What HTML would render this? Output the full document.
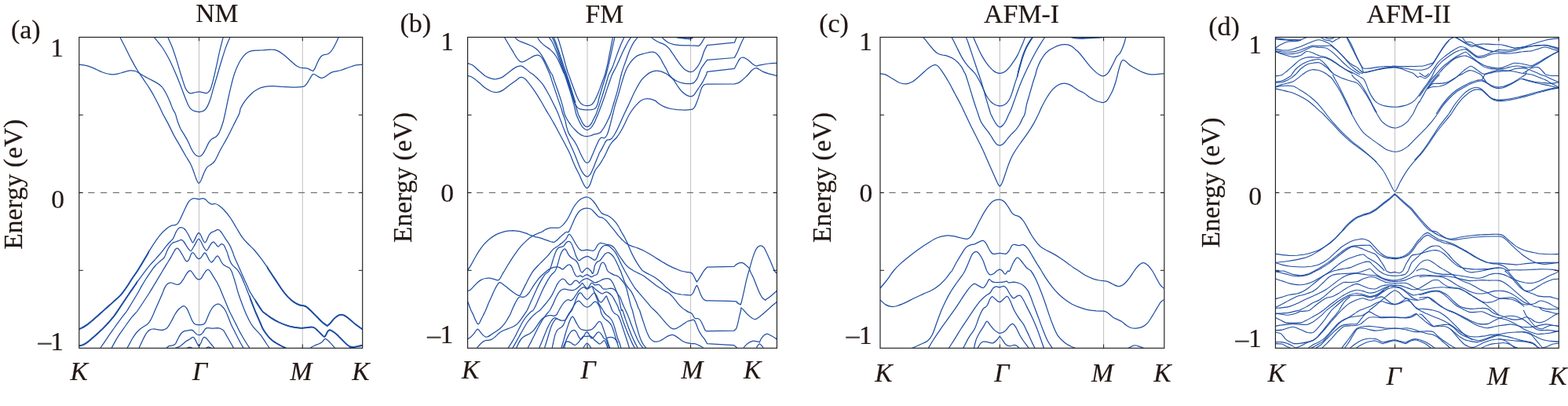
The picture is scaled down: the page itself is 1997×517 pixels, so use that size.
<!DOCTYPE html>
<html lang="en">
<head>
<meta charset="utf-8">
<title>Band structures: NM, FM, AFM-I, AFM-II</title>
<style>
html,body{margin:0;padding:0;background:#fff;}
body{width:1997px;height:517px;overflow:hidden;}
svg{display:block;}
text{font-family:"Liberation Serif","DejaVu Serif",serif;fill:#231815;stroke:#231815;stroke-width:0.22px;stroke-linejoin:round;}
.i{font-style:italic;}
.mn{fill:#4a4342;stroke:#4a4342;}
.fr{fill:none;stroke:#1c1c1c;stroke-width:1.15;}
.tk{stroke:#231815;stroke-width:1;}
.vl{stroke:#b9b9b9;stroke-width:0.9;}
.zl{stroke:#505050;stroke-width:1.0;stroke-dasharray:8.2 7.55;stroke-dashoffset:4.3;}
.bd{fill:none;stroke:#1f4ea3;stroke-width:1.25;stroke-linejoin:round;stroke-linecap:butt;}
.dn{stroke-width:1.1;}
.tkc{stroke-width:1.9;}
</style>
</head>
<body>
<svg width="1997" height="517" viewBox="0 0 1997 517">
<rect x="0" y="0" width="1997" height="517" fill="#fff"/>
<defs>
<clipPath id="cp-a"><rect x="100.8" y="47.4" width="360.9" height="395.9"/></clipPath>
<clipPath id="cp-b"><rect x="595.6" y="47.4" width="393.9" height="395.9"/></clipPath>
<clipPath id="cp-c"><rect x="1121.0" y="47.4" width="361.8" height="395.9"/></clipPath>
<clipPath id="cp-d"><rect x="1624.4" y="47.4" width="360.9" height="395.9"/></clipPath>
</defs>
<g id="panel-a">
<line class="vl" x1="253.5" y1="47.4" x2="253.5" y2="443.3"/>
<line class="vl" x1="385.3" y1="47.4" x2="385.3" y2="443.3"/>
<line class="zl" x1="100.8" y1="245.3" x2="461.7" y2="245.3"/>
<g clip-path="url(#cp-a)">
<path class="bd" d="M100.6 82.1C102.0 82.3 106.2 82.5 109.3 83.3C112.3 84.0 115.4 85.1 118.9 86.6C122.5 88.0 126.5 90.6 130.6 92.0C134.6 93.4 139.3 94.7 143.1 94.9C147.0 95.1 150.0 93.8 153.8 93.0C157.5 92.1 162.3 90.3 165.3 89.9C168.4 89.5 170.2 89.9 172.1 90.5C174.1 91.0 174.2 91.4 177.0 93.0C179.7 94.5 185.0 97.8 188.6 99.7C192.1 101.7 195.3 102.8 198.2 104.6C201.1 106.3 203.7 107.9 206.0 110.4C208.2 112.8 210.0 116.2 211.8 119.5C213.5 122.7 215.2 126.7 216.6 130.1C218.0 133.5 219.3 137.3 220.5 139.8C221.6 142.2 222.4 142.5 223.4 145.0C224.3 147.5 225.1 151.4 226.3 154.7C227.4 157.9 228.7 161.4 230.1 164.3C231.6 167.2 233.4 169.3 235.0 172.1C236.6 174.8 238.4 177.9 239.8 180.8C241.3 183.7 242.4 187.0 243.7 189.5C245.0 192.0 246.4 194.2 247.5 195.7C248.7 197.1 249.5 197.6 250.4 198.2C251.4 198.8 252.4 199.2 253.3 199.2C254.3 199.2 255.3 198.9 256.2 198.2C257.2 197.5 258.2 196.3 259.1 194.9C260.1 193.4 260.9 191.7 262.1 189.5C263.2 187.3 264.6 183.8 265.9 181.7C267.2 179.6 268.3 178.1 269.8 176.9C271.2 175.7 273.2 175.5 274.6 174.4C276.1 173.3 277.4 172.0 278.5 170.1C279.6 168.3 280.4 165.9 281.4 163.4C282.4 160.8 283.4 157.7 284.3 154.7C285.2 151.6 285.6 149.4 286.6 145.0C287.6 140.6 288.9 133.9 290.1 128.2C291.3 122.5 292.5 116.6 294.0 110.8C295.4 104.9 297.0 98.5 298.8 93.3C300.6 88.2 302.7 83.5 304.6 79.8C306.5 76.1 308.5 73.4 310.4 71.1C312.3 68.9 314.1 67.4 316.2 66.3C318.3 65.1 320.1 64.7 323.0 64.3C325.9 64.0 329.9 64.1 333.6 64.0C337.3 63.8 342.0 63.1 345.2 63.2C348.4 63.2 350.4 63.3 352.9 64.3C355.5 65.3 358.1 67.2 360.7 69.2C363.3 71.1 365.8 73.7 368.4 75.9C371.0 78.2 373.9 81.0 376.1 82.7C378.4 84.4 380.3 85.4 381.9 86.0C383.6 86.6 384.2 86.4 385.8 86.6C387.4 86.8 390.0 86.7 391.6 87.2C393.2 87.6 394.3 88.5 395.5 89.1C396.7 89.6 398.2 90.2 398.8 90.5C399.2 89.8 400.2 88.7 401.3 86.6C402.4 84.5 403.9 80.4 405.1 77.9C406.4 75.4 407.7 73.1 409.0 71.7C410.3 70.3 411.4 70.0 412.9 69.6C414.3 69.1 416.3 69.5 417.7 68.8C419.2 68.1 420.3 66.9 421.6 65.3C422.9 63.8 424.2 61.8 425.5 59.5C426.8 57.2 428.4 53.8 429.3 51.8C430.3 49.7 430.8 48.4 431.3 47.3C431.7 46.2 432.1 45.4 432.2 45.0"/>
<path class="bd" d="M151.8 45.0C152.0 45.4 151.5 44.7 152.8 47.3C154.1 49.9 157.1 55.7 159.6 60.5C162.0 65.2 164.7 71.1 167.3 75.9C169.9 80.8 172.4 85.3 175.0 89.5C177.6 93.7 180.2 97.2 182.8 101.1C185.3 104.9 187.9 108.5 190.5 112.7C193.1 116.9 196.0 122.0 198.2 126.2C200.5 130.4 202.5 134.7 204.0 137.8C205.5 141.0 205.7 141.9 207.3 145.0C208.9 148.1 211.3 152.1 213.7 156.6C216.1 161.1 218.9 167.2 221.4 172.1C224.0 176.9 226.6 181.1 229.2 185.6C231.7 190.1 234.7 195.3 236.9 199.2C239.2 203.0 241.1 205.6 242.7 208.8C244.3 212.0 245.4 215.3 246.6 218.5C247.8 221.7 248.9 225.7 250.1 228.2C251.2 230.6 252.3 233.4 253.3 233.4C254.4 233.4 255.5 230.5 256.6 228.2C257.8 225.8 258.9 222.0 260.1 219.4C261.3 216.9 262.4 214.5 264.0 212.7C265.6 210.9 268.2 210.1 269.8 208.8C271.4 207.5 272.5 206.6 273.6 204.9C274.8 203.3 275.3 201.7 276.6 199.2C277.8 196.6 279.3 193.3 281.4 189.5C283.5 185.6 286.5 180.8 289.1 175.9C291.7 171.1 294.3 165.6 296.9 160.5C299.4 155.3 303.0 148.8 304.6 145.0C306.2 141.2 305.2 140.6 306.5 137.8C307.8 135.0 310.1 131.2 312.3 128.2C314.6 125.1 317.5 121.9 320.1 119.5C322.6 117.0 324.9 115.2 327.8 113.7C330.7 112.1 334.2 111.0 337.5 110.4C340.7 109.7 343.6 109.6 347.1 109.6C350.7 109.6 354.6 110.1 358.7 110.4C362.9 110.6 367.8 111.1 372.3 111.1C376.8 111.1 382.9 110.9 385.8 110.4C388.7 109.8 388.4 109.2 389.7 107.8C391.0 106.5 392.3 104.1 393.6 102.0C394.8 100.0 396.4 96.9 397.4 95.7C398.5 94.4 398.8 94.4 399.7 94.5C400.7 94.6 402.0 95.6 403.2 96.2C404.4 96.9 405.9 98.1 407.1 98.6C408.3 99.1 409.3 99.4 410.6 99.2C411.9 98.9 413.3 98.1 414.8 97.2C416.3 96.3 418.0 94.7 419.7 93.7C421.3 92.8 422.1 92.1 424.5 91.4C426.9 90.7 430.9 90.4 434.2 89.5C437.4 88.6 440.6 87.1 443.8 86.0C447.1 84.9 450.5 83.5 453.5 82.9C456.5 82.3 460.4 82.3 461.8 82.1"/>
<path class="bd" d="M212.7 45.0C212.9 45.4 212.6 44.7 213.7 47.3C214.8 49.9 217.6 55.4 219.5 60.5C221.4 65.6 223.4 71.8 225.3 77.9C227.2 84.0 229.3 91.6 231.1 97.2C232.9 102.8 234.5 108.3 235.9 111.7C237.4 115.1 238.7 116.3 239.8 117.5C240.9 118.7 241.4 118.8 242.7 118.9C244.0 118.9 245.8 118.2 247.5 117.9C249.3 117.6 251.4 116.9 253.3 116.9C255.3 116.9 257.5 117.6 259.1 117.9C260.8 118.2 261.9 118.8 263.0 118.7C264.1 118.5 265.0 118.1 265.9 116.9C266.9 115.8 267.7 115.0 268.8 111.7C269.9 108.4 271.4 102.5 272.7 97.2C274.0 91.9 275.3 85.6 276.6 79.8C277.8 74.0 279.1 67.8 280.4 62.4C281.7 57.0 283.5 50.2 284.3 47.3C285.0 44.4 284.8 45.4 284.9 45.0"/>
<path class="bd" d="M194.8 45.0C195.0 45.4 194.4 44.9 196.3 47.3C198.2 49.7 202.9 55.1 206.0 59.5C209.0 63.9 211.9 68.9 214.7 74.0C217.4 79.2 220.0 85.0 222.4 90.5C224.8 95.9 227.1 101.6 229.2 106.9C231.3 112.2 233.2 117.8 235.0 122.3C236.7 126.9 238.4 131.1 239.8 134.0C241.3 136.8 242.2 138.1 243.7 139.4C245.1 140.7 246.9 141.2 248.5 141.7C250.1 142.2 251.7 142.5 253.3 142.5C255.0 142.5 256.9 142.1 258.2 141.7C259.5 141.2 260.0 140.9 261.1 139.8C262.1 138.6 263.2 137.2 264.4 134.9C265.5 132.7 266.6 129.9 267.9 126.2C269.1 122.5 270.3 117.7 271.7 112.7C273.2 107.7 274.9 101.7 276.6 96.2C278.2 90.8 279.6 85.6 281.4 79.8C283.2 74.0 285.3 66.9 287.2 61.4C289.1 56.0 291.9 50.1 293.0 47.3C294.1 44.6 293.6 45.4 293.8 45.0"/>
<path class="bd" d="M100.6 419.4C102.0 418.6 105.9 417.0 109.3 414.6C112.7 412.3 117.0 408.6 120.9 405.3C124.7 402.1 128.6 398.3 132.5 394.9C136.3 391.4 140.5 387.9 144.1 384.6C147.6 381.4 150.8 378.8 153.8 375.6C156.7 372.3 159.1 368.8 161.5 365.3C163.9 361.8 166.0 358.1 168.3 354.7C170.5 351.3 172.3 349.2 175.0 345.0C177.8 340.7 181.5 334.5 184.7 329.1C187.9 323.7 191.1 317.7 194.4 312.7C197.6 307.7 201.1 302.7 204.0 299.1C206.9 295.6 209.5 293.3 211.8 291.4C214.0 289.5 215.8 288.4 217.6 287.6C219.3 286.7 220.9 287.1 222.4 286.6C223.9 286.1 225.0 286.1 226.3 284.6C227.6 283.2 228.7 280.8 230.1 277.9C231.6 275.0 233.4 270.6 235.0 267.2C236.6 263.9 238.4 259.8 239.8 257.6C241.3 255.3 242.4 254.5 243.7 253.7C245.0 252.9 245.9 252.7 247.5 252.7C249.2 252.7 251.6 253.7 253.3 253.7C255.1 253.7 256.7 252.6 258.2 252.7C259.6 252.8 260.8 253.4 262.1 254.3C263.3 255.2 264.6 257.2 265.9 258.1C267.2 259.1 268.5 259.9 269.8 260.1C271.1 260.3 272.2 259.3 273.6 259.5C275.1 259.7 276.6 260.1 278.5 261.4C280.4 262.7 282.8 264.7 285.2 267.2C287.7 269.8 290.4 273.2 293.0 276.9C295.6 280.6 298.2 285.3 300.7 289.5C303.3 293.7 305.9 298.5 308.5 302.1C311.0 305.6 313.6 308.0 316.2 310.8C318.8 313.5 321.4 315.6 323.9 318.5C326.5 321.4 329.1 324.8 331.7 328.2C334.2 331.5 337.5 336.0 339.4 338.8C341.3 341.6 341.3 342.0 343.3 345.0C345.2 348.0 348.4 352.7 351.0 356.6C353.6 360.5 356.2 364.7 358.7 368.2C361.3 371.8 363.9 375.1 366.5 377.9C369.1 380.6 371.6 382.9 374.2 384.6C376.8 386.4 380.0 387.8 381.9 388.5C383.9 389.3 384.5 388.8 385.8 389.1C387.1 389.4 388.1 389.4 389.7 390.4C391.3 391.5 393.2 393.2 395.5 395.3C397.7 397.4 400.6 400.4 403.2 403.0C405.8 405.6 408.7 408.8 411.0 410.8C413.2 412.7 415.8 414.3 416.8 415.0C417.4 414.5 419.0 413.4 420.6 411.7C422.2 410.0 424.5 406.7 426.4 404.9C428.4 403.2 430.3 401.7 432.2 401.1C434.2 400.5 435.8 400.5 438.0 401.5C440.3 402.4 443.2 404.9 445.8 406.9C448.3 408.9 450.8 411.6 453.5 413.6C456.2 415.7 460.4 418.5 461.8 419.4"/>
<clipPath id="tc-a-4-100"><rect x="100.0" y="47.4" width="90.0" height="395.9"/></clipPath>
<path class="bd tkc" clip-path="url(#tc-a-4-100)" d="M100.6 419.4C102.0 418.6 105.9 417.0 109.3 414.6C112.7 412.3 117.0 408.6 120.9 405.3C124.7 402.1 128.6 398.3 132.5 394.9C136.3 391.4 140.5 387.9 144.1 384.6C147.6 381.4 150.8 378.8 153.8 375.6C156.7 372.3 159.1 368.8 161.5 365.3C163.9 361.8 166.0 358.1 168.3 354.7C170.5 351.3 172.3 349.2 175.0 345.0C177.8 340.7 181.5 334.5 184.7 329.1C187.9 323.7 191.1 317.7 194.4 312.7C197.6 307.7 201.1 302.7 204.0 299.1C206.9 295.6 209.5 293.3 211.8 291.4C214.0 289.5 215.8 288.4 217.6 287.6C219.3 286.7 220.9 287.1 222.4 286.6C223.9 286.1 225.0 286.1 226.3 284.6C227.6 283.2 228.7 280.8 230.1 277.9C231.6 275.0 233.4 270.6 235.0 267.2C236.6 263.9 238.4 259.8 239.8 257.6C241.3 255.3 242.4 254.5 243.7 253.7C245.0 252.9 245.9 252.7 247.5 252.7C249.2 252.7 251.6 253.7 253.3 253.7C255.1 253.7 256.7 252.6 258.2 252.7C259.6 252.8 260.8 253.4 262.1 254.3C263.3 255.2 264.6 257.2 265.9 258.1C267.2 259.1 268.5 259.9 269.8 260.1C271.1 260.3 272.2 259.3 273.6 259.5C275.1 259.7 276.6 260.1 278.5 261.4C280.4 262.7 282.8 264.7 285.2 267.2C287.7 269.8 290.4 273.2 293.0 276.9C295.6 280.6 298.2 285.3 300.7 289.5C303.3 293.7 305.9 298.5 308.5 302.1C311.0 305.6 313.6 308.0 316.2 310.8C318.8 313.5 321.4 315.6 323.9 318.5C326.5 321.4 329.1 324.8 331.7 328.2C334.2 331.5 337.5 336.0 339.4 338.8C341.3 341.6 341.3 342.0 343.3 345.0C345.2 348.0 348.4 352.7 351.0 356.6C353.6 360.5 356.2 364.7 358.7 368.2C361.3 371.8 363.9 375.1 366.5 377.9C369.1 380.6 371.6 382.9 374.2 384.6C376.8 386.4 380.0 387.8 381.9 388.5C383.9 389.3 384.5 388.8 385.8 389.1C387.1 389.4 388.1 389.4 389.7 390.4C391.3 391.5 393.2 393.2 395.5 395.3C397.7 397.4 400.6 400.4 403.2 403.0C405.8 405.6 408.7 408.8 411.0 410.8C413.2 412.7 415.8 414.3 416.8 415.0C417.4 414.5 419.0 413.4 420.6 411.7C422.2 410.0 424.5 406.7 426.4 404.9C428.4 403.2 430.3 401.7 432.2 401.1C434.2 400.5 435.8 400.5 438.0 401.5C440.3 402.4 443.2 404.9 445.8 406.9C448.3 408.9 450.8 411.6 453.5 413.6C456.2 415.7 460.4 418.5 461.8 419.4"/>
<clipPath id="tc-a-4-340"><rect x="340.0" y="47.4" width="122.0" height="395.9"/></clipPath>
<path class="bd tkc" clip-path="url(#tc-a-4-340)" d="M100.6 419.4C102.0 418.6 105.9 417.0 109.3 414.6C112.7 412.3 117.0 408.6 120.9 405.3C124.7 402.1 128.6 398.3 132.5 394.9C136.3 391.4 140.5 387.9 144.1 384.6C147.6 381.4 150.8 378.8 153.8 375.6C156.7 372.3 159.1 368.8 161.5 365.3C163.9 361.8 166.0 358.1 168.3 354.7C170.5 351.3 172.3 349.2 175.0 345.0C177.8 340.7 181.5 334.5 184.7 329.1C187.9 323.7 191.1 317.7 194.4 312.7C197.6 307.7 201.1 302.7 204.0 299.1C206.9 295.6 209.5 293.3 211.8 291.4C214.0 289.5 215.8 288.4 217.6 287.6C219.3 286.7 220.9 287.1 222.4 286.6C223.9 286.1 225.0 286.1 226.3 284.6C227.6 283.2 228.7 280.8 230.1 277.9C231.6 275.0 233.4 270.6 235.0 267.2C236.6 263.9 238.4 259.8 239.8 257.6C241.3 255.3 242.4 254.5 243.7 253.7C245.0 252.9 245.9 252.7 247.5 252.7C249.2 252.7 251.6 253.7 253.3 253.7C255.1 253.7 256.7 252.6 258.2 252.7C259.6 252.8 260.8 253.4 262.1 254.3C263.3 255.2 264.6 257.2 265.9 258.1C267.2 259.1 268.5 259.9 269.8 260.1C271.1 260.3 272.2 259.3 273.6 259.5C275.1 259.7 276.6 260.1 278.5 261.4C280.4 262.7 282.8 264.7 285.2 267.2C287.7 269.8 290.4 273.2 293.0 276.9C295.6 280.6 298.2 285.3 300.7 289.5C303.3 293.7 305.9 298.5 308.5 302.1C311.0 305.6 313.6 308.0 316.2 310.8C318.8 313.5 321.4 315.6 323.9 318.5C326.5 321.4 329.1 324.8 331.7 328.2C334.2 331.5 337.5 336.0 339.4 338.8C341.3 341.6 341.3 342.0 343.3 345.0C345.2 348.0 348.4 352.7 351.0 356.6C353.6 360.5 356.2 364.7 358.7 368.2C361.3 371.8 363.9 375.1 366.5 377.9C369.1 380.6 371.6 382.9 374.2 384.6C376.8 386.4 380.0 387.8 381.9 388.5C383.9 389.3 384.5 388.8 385.8 389.1C387.1 389.4 388.1 389.4 389.7 390.4C391.3 391.5 393.2 393.2 395.5 395.3C397.7 397.4 400.6 400.4 403.2 403.0C405.8 405.6 408.7 408.8 411.0 410.8C413.2 412.7 415.8 414.3 416.8 415.0C417.4 414.5 419.0 413.4 420.6 411.7C422.2 410.0 424.5 406.7 426.4 404.9C428.4 403.2 430.3 401.7 432.2 401.1C434.2 400.5 435.8 400.5 438.0 401.5C440.3 402.4 443.2 404.9 445.8 406.9C448.3 408.9 450.8 411.6 453.5 413.6C456.2 415.7 460.4 418.5 461.8 419.4"/>
<path class="bd" d="M100.6 440.4C101.3 440.3 103.2 440.0 104.7 439.5C106.2 438.9 107.6 438.4 109.5 437.1C111.4 435.8 113.9 433.8 116.3 431.7C118.7 429.7 121.4 427.3 124.0 425.0C126.6 422.6 129.3 420.1 131.7 417.7C134.2 415.3 136.4 412.8 138.5 410.5C140.6 408.1 142.5 406.0 144.3 403.7C146.1 401.4 145.9 401.7 149.2 396.9C152.4 392.1 160.4 380.0 163.8 375.0C167.2 369.9 167.5 369.6 169.6 366.6C171.7 363.6 173.9 360.3 176.3 356.9C178.8 353.5 181.5 349.7 184.1 346.3C186.6 342.9 189.4 339.4 191.8 336.6C194.2 333.8 196.3 331.9 198.6 329.4C200.8 326.8 203.1 324.3 205.3 321.6C207.6 318.8 210.0 315.4 212.1 312.9C214.2 310.4 216.5 308.2 217.9 306.6C219.4 305.0 219.9 304.9 220.8 303.2C221.8 301.5 222.8 298.4 223.7 296.4C224.7 294.5 225.6 292.7 226.6 291.6C227.7 290.5 228.7 289.8 230.0 289.7C231.3 289.6 233.1 290.3 234.3 291.1C235.6 291.9 236.3 293.1 237.3 294.5C238.2 295.9 239.2 297.6 240.2 299.3C241.1 301.1 242.2 303.5 243.1 305.1C243.9 306.8 244.7 309.0 245.5 309.0C246.3 309.0 247.0 306.8 247.9 305.1C248.8 303.5 249.9 300.8 250.8 299.3C251.7 297.9 252.4 296.4 253.2 296.4C254.0 296.4 254.8 298.0 255.6 299.3C256.4 300.7 257.2 303.0 258.0 304.7C258.9 306.3 260.1 308.9 260.9 309.0C261.8 309.2 262.5 307.2 263.4 305.6C264.2 304.0 265.3 301.0 266.3 299.3C267.2 297.7 268.0 296.8 269.2 295.9C270.3 295.1 271.6 295.1 273.0 294.5C274.5 293.9 276.4 292.2 277.9 292.4C279.3 292.5 280.3 293.7 281.7 295.5C283.2 297.3 284.8 300.5 286.6 303.2C288.3 305.9 290.8 309.0 292.4 311.9C294.0 314.8 295.4 318.4 296.2 320.6C297.1 322.8 297.0 323.3 297.7 325.0C298.3 326.7 299.1 328.4 300.1 330.8C301.2 333.2 302.7 336.6 304.0 339.5C305.3 342.4 306.5 345.3 307.8 348.2C309.1 351.1 310.4 354.0 311.7 356.9C313.0 359.8 314.3 362.9 315.6 365.6C316.9 368.4 316.5 368.5 319.4 373.4C322.4 378.2 330.1 390.7 333.2 395.0C336.3 399.3 335.9 397.7 338.0 399.4C340.1 401.0 342.9 403.3 345.8 405.1C348.6 407.0 352.2 408.9 355.4 410.5C358.6 412.0 361.9 413.3 365.1 414.3C368.3 415.4 371.9 416.2 374.8 416.8C377.7 417.3 380.7 417.6 382.5 417.7C384.3 417.9 383.9 417.8 385.4 417.7C386.9 417.6 389.3 417.3 391.2 417.1C393.1 416.8 395.4 416.4 397.0 416.5C398.6 416.6 399.6 416.9 400.9 417.7C402.2 418.5 403.4 419.9 404.7 421.1C406.0 422.3 407.5 423.8 408.6 425.0C409.7 426.1 410.7 427.2 411.5 427.9C412.3 428.5 413.1 428.7 413.4 428.8C413.8 428.4 414.7 427.1 415.4 425.9C416.0 424.8 416.6 423.0 417.3 422.1C418.0 421.1 418.8 420.4 419.7 420.3C420.7 420.2 421.7 420.8 423.1 421.6C424.5 422.4 426.3 423.6 427.9 425.0C429.6 426.3 431.0 428.0 432.8 429.8C434.6 431.6 436.8 433.9 438.6 435.6C440.4 437.3 441.8 438.9 443.4 440.0C445.0 441.0 446.5 441.7 448.2 441.9C450.0 442.1 452.3 441.7 454.1 441.4C455.8 441.1 457.6 440.5 458.9 440.2C460.2 440.0 461.3 439.8 461.8 439.7"/>
<clipPath id="tc-a-5-100"><rect x="100.0" y="47.4" width="75.0" height="395.9"/></clipPath>
<path class="bd tkc" clip-path="url(#tc-a-5-100)" d="M100.6 440.4C101.3 440.3 103.2 440.0 104.7 439.5C106.2 438.9 107.6 438.4 109.5 437.1C111.4 435.8 113.9 433.8 116.3 431.7C118.7 429.7 121.4 427.3 124.0 425.0C126.6 422.6 129.3 420.1 131.7 417.7C134.2 415.3 136.4 412.8 138.5 410.5C140.6 408.1 142.5 406.0 144.3 403.7C146.1 401.4 145.9 401.7 149.2 396.9C152.4 392.1 160.4 380.0 163.8 375.0C167.2 369.9 167.5 369.6 169.6 366.6C171.7 363.6 173.9 360.3 176.3 356.9C178.8 353.5 181.5 349.7 184.1 346.3C186.6 342.9 189.4 339.4 191.8 336.6C194.2 333.8 196.3 331.9 198.6 329.4C200.8 326.8 203.1 324.3 205.3 321.6C207.6 318.8 210.0 315.4 212.1 312.9C214.2 310.4 216.5 308.2 217.9 306.6C219.4 305.0 219.9 304.9 220.8 303.2C221.8 301.5 222.8 298.4 223.7 296.4C224.7 294.5 225.6 292.7 226.6 291.6C227.7 290.5 228.7 289.8 230.0 289.7C231.3 289.6 233.1 290.3 234.3 291.1C235.6 291.9 236.3 293.1 237.3 294.5C238.2 295.9 239.2 297.6 240.2 299.3C241.1 301.1 242.2 303.5 243.1 305.1C243.9 306.8 244.7 309.0 245.5 309.0C246.3 309.0 247.0 306.8 247.9 305.1C248.8 303.5 249.9 300.8 250.8 299.3C251.7 297.9 252.4 296.4 253.2 296.4C254.0 296.4 254.8 298.0 255.6 299.3C256.4 300.7 257.2 303.0 258.0 304.7C258.9 306.3 260.1 308.9 260.9 309.0C261.8 309.2 262.5 307.2 263.4 305.6C264.2 304.0 265.3 301.0 266.3 299.3C267.2 297.7 268.0 296.8 269.2 295.9C270.3 295.1 271.6 295.1 273.0 294.5C274.5 293.9 276.4 292.2 277.9 292.4C279.3 292.5 280.3 293.7 281.7 295.5C283.2 297.3 284.8 300.5 286.6 303.2C288.3 305.9 290.8 309.0 292.4 311.9C294.0 314.8 295.4 318.4 296.2 320.6C297.1 322.8 297.0 323.3 297.7 325.0C298.3 326.7 299.1 328.4 300.1 330.8C301.2 333.2 302.7 336.6 304.0 339.5C305.3 342.4 306.5 345.3 307.8 348.2C309.1 351.1 310.4 354.0 311.7 356.9C313.0 359.8 314.3 362.9 315.6 365.6C316.9 368.4 316.5 368.5 319.4 373.4C322.4 378.2 330.1 390.7 333.2 395.0C336.3 399.3 335.9 397.7 338.0 399.4C340.1 401.0 342.9 403.3 345.8 405.1C348.6 407.0 352.2 408.9 355.4 410.5C358.6 412.0 361.9 413.3 365.1 414.3C368.3 415.4 371.9 416.2 374.8 416.8C377.7 417.3 380.7 417.6 382.5 417.7C384.3 417.9 383.9 417.8 385.4 417.7C386.9 417.6 389.3 417.3 391.2 417.1C393.1 416.8 395.4 416.4 397.0 416.5C398.6 416.6 399.6 416.9 400.9 417.7C402.2 418.5 403.4 419.9 404.7 421.1C406.0 422.3 407.5 423.8 408.6 425.0C409.7 426.1 410.7 427.2 411.5 427.9C412.3 428.5 413.1 428.7 413.4 428.8C413.8 428.4 414.7 427.1 415.4 425.9C416.0 424.8 416.6 423.0 417.3 422.1C418.0 421.1 418.8 420.4 419.7 420.3C420.7 420.2 421.7 420.8 423.1 421.6C424.5 422.4 426.3 423.6 427.9 425.0C429.6 426.3 431.0 428.0 432.8 429.8C434.6 431.6 436.8 433.9 438.6 435.6C440.4 437.3 441.8 438.9 443.4 440.0C445.0 441.0 446.5 441.7 448.2 441.9C450.0 442.1 452.3 441.7 454.1 441.4C455.8 441.1 457.6 440.5 458.9 440.2C460.2 440.0 461.3 439.8 461.8 439.7"/>
<clipPath id="tc-a-5-325"><rect x="325.0" y="47.4" width="137.0" height="395.9"/></clipPath>
<path class="bd tkc" clip-path="url(#tc-a-5-325)" d="M100.6 440.4C101.3 440.3 103.2 440.0 104.7 439.5C106.2 438.9 107.6 438.4 109.5 437.1C111.4 435.8 113.9 433.8 116.3 431.7C118.7 429.7 121.4 427.3 124.0 425.0C126.6 422.6 129.3 420.1 131.7 417.7C134.2 415.3 136.4 412.8 138.5 410.5C140.6 408.1 142.5 406.0 144.3 403.7C146.1 401.4 145.9 401.7 149.2 396.9C152.4 392.1 160.4 380.0 163.8 375.0C167.2 369.9 167.5 369.6 169.6 366.6C171.7 363.6 173.9 360.3 176.3 356.9C178.8 353.5 181.5 349.7 184.1 346.3C186.6 342.9 189.4 339.4 191.8 336.6C194.2 333.8 196.3 331.9 198.6 329.4C200.8 326.8 203.1 324.3 205.3 321.6C207.6 318.8 210.0 315.4 212.1 312.9C214.2 310.4 216.5 308.2 217.9 306.6C219.4 305.0 219.9 304.9 220.8 303.2C221.8 301.5 222.8 298.4 223.7 296.4C224.7 294.5 225.6 292.7 226.6 291.6C227.7 290.5 228.7 289.8 230.0 289.7C231.3 289.6 233.1 290.3 234.3 291.1C235.6 291.9 236.3 293.1 237.3 294.5C238.2 295.9 239.2 297.6 240.2 299.3C241.1 301.1 242.2 303.5 243.1 305.1C243.9 306.8 244.7 309.0 245.5 309.0C246.3 309.0 247.0 306.8 247.9 305.1C248.8 303.5 249.9 300.8 250.8 299.3C251.7 297.9 252.4 296.4 253.2 296.4C254.0 296.4 254.8 298.0 255.6 299.3C256.4 300.7 257.2 303.0 258.0 304.7C258.9 306.3 260.1 308.9 260.9 309.0C261.8 309.2 262.5 307.2 263.4 305.6C264.2 304.0 265.3 301.0 266.3 299.3C267.2 297.7 268.0 296.8 269.2 295.9C270.3 295.1 271.6 295.1 273.0 294.5C274.5 293.9 276.4 292.2 277.9 292.4C279.3 292.5 280.3 293.7 281.7 295.5C283.2 297.3 284.8 300.5 286.6 303.2C288.3 305.9 290.8 309.0 292.4 311.9C294.0 314.8 295.4 318.4 296.2 320.6C297.1 322.8 297.0 323.3 297.7 325.0C298.3 326.7 299.1 328.4 300.1 330.8C301.2 333.2 302.7 336.6 304.0 339.5C305.3 342.4 306.5 345.3 307.8 348.2C309.1 351.1 310.4 354.0 311.7 356.9C313.0 359.8 314.3 362.9 315.6 365.6C316.9 368.4 316.5 368.5 319.4 373.4C322.4 378.2 330.1 390.7 333.2 395.0C336.3 399.3 335.9 397.7 338.0 399.4C340.1 401.0 342.9 403.3 345.8 405.1C348.6 407.0 352.2 408.9 355.4 410.5C358.6 412.0 361.9 413.3 365.1 414.3C368.3 415.4 371.9 416.2 374.8 416.8C377.7 417.3 380.7 417.6 382.5 417.7C384.3 417.9 383.9 417.8 385.4 417.7C386.9 417.6 389.3 417.3 391.2 417.1C393.1 416.8 395.4 416.4 397.0 416.5C398.6 416.6 399.6 416.9 400.9 417.7C402.2 418.5 403.4 419.9 404.7 421.1C406.0 422.3 407.5 423.8 408.6 425.0C409.7 426.1 410.7 427.2 411.5 427.9C412.3 428.5 413.1 428.7 413.4 428.8C413.8 428.4 414.7 427.1 415.4 425.9C416.0 424.8 416.6 423.0 417.3 422.1C418.0 421.1 418.8 420.4 419.7 420.3C420.7 420.2 421.7 420.8 423.1 421.6C424.5 422.4 426.3 423.6 427.9 425.0C429.6 426.3 431.0 428.0 432.8 429.8C434.6 431.6 436.8 433.9 438.6 435.6C440.4 437.3 441.8 438.9 443.4 440.0C445.0 441.0 446.5 441.7 448.2 441.9C450.0 442.1 452.3 441.7 454.1 441.4C455.8 441.1 457.6 440.5 458.9 440.2C460.2 440.0 461.3 439.8 461.8 439.7"/>
<path class="bd" d="M127.9 442.9C128.5 442.0 130.1 439.9 131.7 437.6C133.4 435.2 135.6 431.7 137.6 428.8C139.5 426.0 141.4 423.4 143.3 420.6C145.3 417.9 147.2 415.1 149.2 412.4C151.1 409.7 153.2 407.0 154.9 404.7C156.7 402.3 158.6 400.0 159.8 398.4C161.0 396.8 159.8 398.9 162.2 395.0C164.6 391.1 171.4 380.1 174.4 375.0C177.4 369.9 178.3 368.0 180.2 364.6C182.1 361.3 184.1 358.0 186.0 355.0C187.9 351.9 189.9 349.0 191.8 346.3C193.7 343.5 195.5 340.9 197.6 338.5C199.7 336.2 202.4 334.0 204.4 332.2C206.3 330.5 207.8 330.2 209.2 327.9C210.7 325.6 211.8 321.3 213.1 318.7C214.4 316.1 215.8 313.9 216.9 312.4C218.1 310.9 218.7 310.2 219.8 309.5C221.0 308.8 222.4 308.5 223.7 308.0C225.0 307.6 226.4 307.0 227.6 306.6C228.8 306.1 229.8 305.1 231.0 305.3C232.1 305.6 233.0 306.3 234.3 308.0C235.7 309.8 237.7 313.8 239.2 315.8C240.6 317.7 241.8 320.0 243.1 319.6C244.3 319.3 245.7 315.9 246.9 313.8C248.1 311.8 249.3 309.2 250.3 307.6C251.4 305.9 252.2 304.1 253.2 304.2C254.2 304.2 255.1 306.3 256.1 308.0C257.2 309.8 258.4 313.0 259.5 314.8C260.6 316.7 261.9 318.9 262.9 319.2C263.8 319.4 264.6 317.3 265.3 316.3C266.0 315.2 266.5 314.0 267.2 312.9C268.0 311.8 268.8 310.3 269.6 309.5C270.5 308.7 271.2 308.0 272.1 308.2C273.0 308.5 274.0 310.0 275.0 310.9C275.9 311.9 276.9 314.0 277.9 314.0C278.8 314.1 279.9 312.0 280.8 311.4C281.7 310.9 282.4 310.5 283.2 310.8C284.0 311.0 284.9 311.8 285.6 312.9C286.3 314.0 286.9 315.8 287.5 317.2C288.2 318.7 289.0 320.3 289.5 321.6C290.0 322.9 290.0 323.5 290.4 325.0C290.9 326.5 291.6 328.9 292.4 330.8C293.2 332.7 294.1 335.0 295.3 336.6C296.4 338.2 297.8 339.2 299.1 340.5C300.4 341.8 301.7 342.6 303.0 344.3C304.3 346.1 305.6 348.5 306.9 351.1C308.2 353.7 309.4 356.7 310.7 359.8C312.0 362.9 312.3 363.6 314.6 369.5C316.9 375.3 322.4 389.6 324.5 395.0C326.6 400.4 326.3 399.2 327.4 401.8C328.5 404.3 330.0 407.6 331.2 410.5C332.5 413.4 333.8 416.8 335.1 419.2C336.4 421.6 337.5 423.0 339.0 425.0C340.4 426.9 342.0 429.0 343.8 430.8C345.6 432.6 347.5 434.2 349.6 435.6C351.7 437.1 354.3 438.4 356.4 439.5C358.5 440.6 360.9 441.8 362.2 442.4C363.5 442.9 363.8 442.8 364.1 442.9"/>
<clipPath id="tc-a-6-318"><rect x="318.0" y="47.4" width="48.0" height="395.9"/></clipPath>
<path class="bd tkc" clip-path="url(#tc-a-6-318)" d="M127.9 442.9C128.5 442.0 130.1 439.9 131.7 437.6C133.4 435.2 135.6 431.7 137.6 428.8C139.5 426.0 141.4 423.4 143.3 420.6C145.3 417.9 147.2 415.1 149.2 412.4C151.1 409.7 153.2 407.0 154.9 404.7C156.7 402.3 158.6 400.0 159.8 398.4C161.0 396.8 159.8 398.9 162.2 395.0C164.6 391.1 171.4 380.1 174.4 375.0C177.4 369.9 178.3 368.0 180.2 364.6C182.1 361.3 184.1 358.0 186.0 355.0C187.9 351.9 189.9 349.0 191.8 346.3C193.7 343.5 195.5 340.9 197.6 338.5C199.7 336.2 202.4 334.0 204.4 332.2C206.3 330.5 207.8 330.2 209.2 327.9C210.7 325.6 211.8 321.3 213.1 318.7C214.4 316.1 215.8 313.9 216.9 312.4C218.1 310.9 218.7 310.2 219.8 309.5C221.0 308.8 222.4 308.5 223.7 308.0C225.0 307.6 226.4 307.0 227.6 306.6C228.8 306.1 229.8 305.1 231.0 305.3C232.1 305.6 233.0 306.3 234.3 308.0C235.7 309.8 237.7 313.8 239.2 315.8C240.6 317.7 241.8 320.0 243.1 319.6C244.3 319.3 245.7 315.9 246.9 313.8C248.1 311.8 249.3 309.2 250.3 307.6C251.4 305.9 252.2 304.1 253.2 304.2C254.2 304.2 255.1 306.3 256.1 308.0C257.2 309.8 258.4 313.0 259.5 314.8C260.6 316.7 261.9 318.9 262.9 319.2C263.8 319.4 264.6 317.3 265.3 316.3C266.0 315.2 266.5 314.0 267.2 312.9C268.0 311.8 268.8 310.3 269.6 309.5C270.5 308.7 271.2 308.0 272.1 308.2C273.0 308.5 274.0 310.0 275.0 310.9C275.9 311.9 276.9 314.0 277.9 314.0C278.8 314.1 279.9 312.0 280.8 311.4C281.7 310.9 282.4 310.5 283.2 310.8C284.0 311.0 284.9 311.8 285.6 312.9C286.3 314.0 286.9 315.8 287.5 317.2C288.2 318.7 289.0 320.3 289.5 321.6C290.0 322.9 290.0 323.5 290.4 325.0C290.9 326.5 291.6 328.9 292.4 330.8C293.2 332.7 294.1 335.0 295.3 336.6C296.4 338.2 297.8 339.2 299.1 340.5C300.4 341.8 301.7 342.6 303.0 344.3C304.3 346.1 305.6 348.5 306.9 351.1C308.2 353.7 309.4 356.7 310.7 359.8C312.0 362.9 312.3 363.6 314.6 369.5C316.9 375.3 322.4 389.6 324.5 395.0C326.6 400.4 326.3 399.2 327.4 401.8C328.5 404.3 330.0 407.6 331.2 410.5C332.5 413.4 333.8 416.8 335.1 419.2C336.4 421.6 337.5 423.0 339.0 425.0C340.4 426.9 342.0 429.0 343.8 430.8C345.6 432.6 347.5 434.2 349.6 435.6C351.7 437.1 354.3 438.4 356.4 439.5C358.5 440.6 360.9 441.8 362.2 442.4C363.5 442.9 363.8 442.8 364.1 442.9"/>
<path class="bd" d="M142.2 442.9C142.9 441.7 144.8 438.2 146.2 435.6C147.7 433.0 149.3 430.1 151.1 427.4C152.9 424.6 154.9 421.9 156.9 419.2C158.8 416.4 160.8 413.6 162.7 410.9C164.6 408.3 166.7 405.4 168.5 403.2C170.3 401.0 172.1 399.3 173.3 397.9C174.5 396.5 173.1 398.8 175.7 395.0C178.3 391.2 185.7 379.9 188.9 375.0C192.1 370.1 192.8 368.8 194.7 365.6C196.6 362.4 198.6 359.2 200.5 355.9C202.4 352.7 204.4 349.5 206.3 346.3C208.2 343.0 210.3 339.5 212.1 336.6C213.9 333.7 215.7 330.9 216.9 328.9C218.2 326.8 218.4 326.2 219.5 324.3C220.6 322.4 222.3 318.9 223.4 317.5C224.4 316.2 224.9 316.1 225.7 316.2C226.5 316.3 227.1 316.7 228.2 318.1C229.3 319.5 230.8 322.1 232.1 324.3C233.4 326.5 234.9 329.6 235.9 331.1C237.0 332.5 237.5 333.2 238.3 333.0C239.1 332.8 240.0 331.5 240.8 330.1C241.6 328.6 242.4 325.7 243.1 324.3C243.8 322.9 244.3 321.7 245.0 321.6C245.8 321.4 246.6 322.3 247.5 323.3C248.4 324.4 249.5 326.7 250.4 327.8C251.4 328.8 252.4 329.5 253.3 329.5C254.3 329.5 255.3 328.8 256.2 327.8C257.2 326.7 258.3 324.3 259.1 323.3C260.0 322.3 260.4 321.6 261.1 321.8C261.7 321.9 262.2 322.9 263.0 324.3C263.8 325.7 265.0 328.5 265.9 330.1C266.9 331.7 267.9 333.6 268.8 334.0C269.8 334.3 270.8 333.1 271.7 332.0C272.7 331.0 273.7 328.8 274.6 327.8C275.5 326.7 276.3 325.7 277.1 325.8C277.9 325.9 278.6 327.1 279.3 328.4C280.1 329.6 280.8 331.8 281.7 333.2C282.6 334.7 283.5 336.0 284.6 337.1C285.8 338.1 287.2 338.8 288.5 339.5C289.8 340.2 291.2 340.3 292.4 341.4C293.5 342.6 294.3 344.0 295.3 346.3C296.2 348.5 297.2 351.9 298.2 355.0C299.1 358.0 300.1 361.3 301.1 364.6C302.0 368.0 302.2 369.9 304.0 375.0C305.7 380.1 309.6 390.4 311.4 395.0C313.2 399.6 313.6 400.2 314.8 402.7C316.0 405.3 317.4 408.2 318.7 410.5C320.0 412.7 321.1 414.4 322.6 416.3C324.0 418.1 325.8 419.8 327.4 421.6C329.0 423.4 330.8 425.1 332.2 426.9C333.7 428.8 334.8 430.8 336.1 432.7C337.4 434.6 338.8 436.8 339.9 438.5C341.1 440.2 342.4 442.1 342.9 442.9"/>
<path class="bd" d="M162.2 442.9C162.8 441.8 164.4 438.8 165.6 436.6C166.8 434.4 168.0 432.1 169.4 429.8C170.9 427.6 172.5 425.1 174.3 423.0C176.1 421.0 178.3 419.1 180.1 417.7C181.9 416.4 183.5 415.8 184.9 414.8C186.4 413.9 187.7 413.1 188.8 411.9C189.9 410.7 190.7 409.3 191.7 407.6C192.7 405.9 193.6 403.9 194.6 401.8C195.6 399.7 195.5 399.5 197.5 395.0C199.4 390.5 204.4 379.6 206.3 375.0C208.3 370.4 208.2 369.6 209.2 367.6C210.2 365.5 211.2 363.9 212.1 362.7C213.1 361.5 214.1 361.0 215.0 360.6C216.0 360.1 216.8 359.9 217.9 360.0C219.0 360.1 220.5 360.9 221.8 361.3C223.1 361.7 224.4 362.5 225.7 362.4C226.9 362.4 228.2 362.1 229.5 361.0C230.8 359.9 232.1 357.9 233.4 355.9C234.7 354.0 236.1 350.9 237.3 349.2C238.4 347.4 239.4 346.3 240.2 345.5C241.0 344.7 241.4 344.6 242.1 344.6C242.7 344.7 243.2 344.9 244.0 345.8C244.8 346.7 245.9 348.7 246.9 350.1C248.0 351.6 249.3 353.5 250.3 354.5C251.4 355.5 252.2 355.9 253.2 355.9C254.2 355.9 255.1 355.6 256.1 354.5C257.2 353.4 258.4 350.8 259.5 349.2C260.5 347.6 261.5 345.8 262.4 344.8C263.3 343.9 264.0 343.4 264.8 343.4C265.6 343.4 266.2 343.5 267.2 344.8C268.3 346.1 269.7 348.8 271.1 351.1C272.6 353.4 274.5 356.3 275.9 358.8C277.4 361.4 278.7 364.2 279.8 366.6C280.9 369.0 280.7 368.6 282.7 373.4C284.7 378.1 289.5 390.1 291.6 395.0C293.7 399.9 294.0 399.8 295.5 402.7C296.9 405.6 298.7 409.2 300.3 412.4C301.9 415.6 303.5 419.0 305.1 422.1C306.8 425.1 308.4 428.0 310.0 430.8C311.6 433.5 313.5 436.5 314.8 438.5C316.1 440.5 317.2 442.1 317.7 442.9"/>
<path class="bd" d="M177.2 442.9C177.8 441.5 179.8 437.3 181.1 434.6C182.3 432.0 183.8 428.9 184.9 426.9C186.0 424.9 186.9 423.7 187.8 422.6C188.8 421.4 189.6 420.7 190.7 420.1C191.9 419.5 193.1 419.1 194.6 419.0C196.0 418.9 197.7 419.1 199.4 419.4C201.2 419.6 203.6 420.3 205.2 420.3C206.8 420.4 208.0 420.0 209.1 419.7C210.2 419.3 211.0 419.0 212.0 418.2C213.0 417.4 213.8 416.5 214.9 414.8C216.0 413.1 217.5 410.4 218.8 408.1C220.1 405.7 221.4 403.0 222.6 400.8C223.9 398.6 225.1 396.6 226.5 395.0C227.9 393.4 229.8 391.9 231.1 391.0C232.4 390.1 233.4 389.5 234.4 389.7C235.4 389.8 236.5 391.1 237.3 392.0C238.1 392.9 238.3 393.4 239.1 395.0C239.8 396.6 241.0 399.5 242.0 401.8C242.9 404.0 243.9 406.8 244.9 408.5C245.8 410.3 246.8 411.6 247.8 412.4C248.7 413.2 249.7 413.2 250.7 413.4C251.6 413.6 252.4 413.6 253.4 413.7C254.3 413.7 255.5 413.7 256.5 413.6C257.5 413.4 258.6 413.3 259.4 412.9C260.2 412.5 260.6 412.2 261.3 410.9C262.0 409.7 262.9 407.5 263.7 405.6C264.5 403.8 265.3 401.6 266.1 399.8C267.0 398.1 267.6 396.6 268.6 395.0C269.5 393.4 270.6 391.7 271.7 390.4C272.8 389.2 274.1 388.3 275.2 387.7C276.3 387.2 277.3 386.9 278.5 387.2C279.7 387.5 281.0 388.2 282.4 389.5C283.7 390.8 285.4 392.6 286.8 395.0C288.2 397.4 289.4 400.6 290.6 403.7C291.9 406.8 293.1 410.1 294.5 413.4C295.9 416.6 297.7 419.8 299.3 423.0C301.0 426.3 302.6 429.6 304.2 432.7C305.8 435.8 308.0 439.7 309.0 441.4C310.0 443.1 309.8 442.6 310.0 442.9"/>
<path class="bd" d="M212.0 442.9C212.6 442.5 214.4 441.0 215.9 440.4C217.3 439.9 219.4 440.2 220.7 439.7C222.0 439.2 222.6 438.9 223.6 437.6C224.6 436.2 225.4 433.8 226.5 431.7C227.6 429.6 229.1 426.6 230.4 425.0C231.7 423.3 232.8 422.6 234.2 421.9C235.7 421.2 237.6 421.2 239.1 420.9C240.5 420.6 241.9 420.2 242.9 420.1C244.0 420.1 244.6 420.1 245.4 420.6C246.2 421.1 246.9 422.2 247.8 423.0C248.7 423.9 249.7 425.2 250.7 425.8C251.6 426.3 252.5 426.5 253.4 426.5C254.3 426.6 255.2 426.4 256.0 425.9C256.8 425.4 257.6 424.6 258.4 423.5C259.2 422.5 260.0 420.6 260.8 419.7C261.6 418.7 262.4 418.0 263.2 417.7C264.1 417.4 264.9 417.6 266.1 417.7C267.4 417.8 269.2 418.2 271.0 418.2C272.8 418.2 275.2 417.7 276.8 417.7C278.4 417.8 279.4 417.9 280.6 418.4C281.9 418.9 283.3 419.4 284.5 420.6C285.7 421.9 286.6 423.9 287.7 425.9C288.9 428.0 290.3 430.5 291.6 432.7C292.9 435.0 294.5 437.8 295.5 439.5C296.4 441.2 297.1 442.3 297.4 442.9"/>
<path class="bd" d="M223.6 442.9C224.4 442.6 227.0 442.1 228.4 441.4C229.9 440.7 230.9 439.6 232.3 438.5C233.8 437.4 235.5 435.8 237.1 434.6C238.8 433.5 240.7 432.6 242.0 431.7C243.3 430.9 244.1 429.9 244.9 429.6C245.7 429.3 246.2 429.3 246.8 429.8C247.5 430.3 248.0 431.4 248.7 432.7C249.5 434.0 250.4 436.2 251.2 437.6C251.9 438.9 253.0 440.4 253.4 440.9C253.7 440.4 254.8 439.1 255.5 437.6C256.3 436.0 257.2 433.1 257.9 431.7C258.7 430.4 259.1 429.6 259.9 429.3C260.6 429.1 261.4 429.6 262.3 430.3C263.2 431.0 264.1 432.3 265.2 433.7C266.3 435.1 267.8 437.0 269.1 438.5C270.3 440.0 272.3 442.1 272.9 442.9"/>
<path class="bd" d="M238.1 443.4C238.7 443.1 240.4 442.0 241.5 442.0C242.6 442.0 244.3 443.1 244.9 443.4"/>
<path class="bd" d="M262.3 443.4C262.8 443.1 264.5 441.8 265.7 441.8C266.8 441.8 268.5 443.1 269.1 443.4"/>
<path class="bd" d="M395.6 442.9C396.4 442.4 399.2 440.8 400.9 440.0C402.6 439.2 404.2 438.7 405.7 438.0C407.1 437.4 408.4 437.0 409.6 436.1C410.7 435.2 411.7 433.5 412.5 432.7C413.3 431.9 413.6 431.2 414.4 431.3C415.2 431.3 416.2 432.2 417.3 433.2C418.4 434.2 419.9 435.7 421.2 437.1C422.5 438.4 424.2 440.4 425.0 441.4C425.9 442.4 426.2 442.6 426.5 442.9"/>
<path class="bd" d="M444.4 443.1C445.3 442.9 448.2 442.5 450.2 442.2C452.1 441.9 454.0 441.4 456.0 441.0C457.9 440.7 460.8 440.4 461.8 440.2"/>
</g>
<line class="tk" x1="253.5" y1="47.4" x2="253.5" y2="52.2"/>
<line class="tk" x1="253.5" y1="438.5" x2="253.5" y2="443.3"/>
<line class="tk" x1="385.3" y1="47.4" x2="385.3" y2="52.2"/>
<line class="tk" x1="385.3" y1="438.5" x2="385.3" y2="443.3"/>
<line class="tk" x1="100.8" y1="146.4" x2="105.8" y2="146.4"/>
<line class="tk" x1="456.7" y1="146.4" x2="461.7" y2="146.4"/>
<line class="tk" x1="100.8" y1="245.4" x2="105.8" y2="245.4"/>
<line class="tk" x1="456.7" y1="245.4" x2="461.7" y2="245.4"/>
<line class="tk" x1="100.8" y1="344.3" x2="105.8" y2="344.3"/>
<line class="tk" x1="456.7" y1="344.3" x2="461.7" y2="344.3"/>
<rect class="fr" x="100.8" y="47.4" width="360.9" height="395.9"/>
<text transform="translate(28.0 234.7) rotate(-90)" text-anchor="middle" font-size="33.5">Energy (eV)</text>
</g>
<g id="panel-b">
<line class="vl" x1="748.0" y1="47.4" x2="748.0" y2="443.3"/>
<line class="vl" x1="879.6" y1="47.4" x2="879.6" y2="443.3"/>
<line class="zl" x1="595.6" y1="245.3" x2="989.5" y2="245.3"/>
<g clip-path="url(#cp-b)">
<path class="bd" d="M595.6 80.5C596.7 80.9 599.6 81.5 602.0 83.1C604.4 84.7 607.4 87.8 610.0 90.1C612.7 92.3 615.4 95.0 618.0 96.7C620.7 98.3 623.7 99.4 626.0 100.1C628.4 100.7 629.7 101.0 632.1 100.7C634.4 100.3 637.4 99.5 640.1 98.1C642.7 96.6 645.4 94.1 648.1 92.1C650.8 90.1 653.8 87.4 656.1 86.1C658.4 84.7 660.7 84.4 662.1 84.1C663.5 83.7 663.4 83.6 664.6 84.2C665.8 84.7 667.6 86.2 669.4 87.5C671.2 88.9 673.6 91.1 675.2 92.4C676.8 93.6 677.5 93.7 679.1 95.0C680.7 96.3 682.9 98.4 684.9 100.3C686.8 102.3 688.9 104.3 690.7 106.6C692.5 108.9 693.9 111.6 695.5 114.3C697.1 117.1 698.7 120.0 700.4 123.0C702.0 126.1 703.7 129.8 705.2 132.7C706.6 135.6 708.1 138.4 709.0 140.4C710.0 142.5 710.0 142.5 711.0 145.0C711.9 147.5 713.4 151.8 714.9 155.6C716.3 159.5 718.1 164.2 719.7 168.2C721.3 172.2 723.1 176.4 724.5 179.8C726.0 183.2 727.3 186.0 728.4 188.5C729.5 191.0 730.2 192.3 731.3 195.0C732.4 197.7 733.9 201.4 735.2 204.7C736.4 207.9 737.7 211.6 739.0 214.3C740.3 217.1 741.4 219.3 742.9 221.1C744.3 222.9 746.3 224.8 747.7 225.0C749.2 225.1 750.3 223.8 751.6 222.1C752.9 220.3 754.2 217.2 755.5 214.3C756.8 211.4 758.2 207.4 759.3 204.7C760.5 201.9 761.6 199.5 762.2 197.9C762.9 196.3 762.6 196.2 763.2 195.0C763.8 193.7 765.0 192.5 766.1 190.4C767.2 188.4 768.8 184.7 770.0 182.7C771.1 180.7 771.6 179.2 772.9 178.4C774.2 177.5 776.2 178.3 777.7 177.4C779.2 176.5 780.1 175.2 781.6 173.0C783.0 170.9 784.8 167.6 786.4 164.3C788.0 161.1 789.8 156.9 791.2 153.7C792.7 150.5 793.3 148.8 795.1 145.0C796.9 141.2 799.6 135.6 801.9 130.8C804.1 126.0 806.2 120.9 808.6 116.3C811.1 111.6 813.8 106.3 816.4 102.7C819.0 99.2 822.0 96.8 824.1 95.0C826.2 93.2 827.1 92.7 829.0 91.9C831.0 91.1 833.7 90.4 835.8 90.2C837.9 90.1 839.8 90.5 841.6 90.9C843.4 91.4 845.0 92.2 846.4 92.9C847.9 93.5 848.8 94.0 850.3 95.0C851.7 96.0 853.2 97.5 855.1 98.9C857.1 100.2 859.5 102.1 861.9 103.2C864.3 104.4 867.2 105.3 869.6 105.8C872.0 106.4 874.7 106.5 876.4 106.6C878.0 106.7 878.4 106.8 879.5 106.6C880.6 106.4 882.1 106.3 883.2 105.6C884.3 105.0 885.2 103.9 886.1 102.7C886.9 101.6 887.8 100.2 888.5 98.9C889.1 97.6 889.2 96.9 889.9 95.0C890.6 93.1 891.7 89.8 892.8 87.5C894.0 85.3 895.4 83.6 896.7 81.7C898.0 79.9 899.9 77.3 900.6 76.4L935.4 73.5C936.0 72.3 937.8 69.4 939.2 66.3C940.7 63.1 942.6 57.9 944.1 54.7C945.5 51.5 947.1 48.7 947.9 47.1C948.7 45.5 948.7 45.4 948.9 45.0"/>
<path class="bd" d="M595.6 96.5C596.7 96.8 599.6 97.2 602.0 98.7C604.4 100.1 607.4 102.9 610.0 105.1C612.7 107.3 615.4 110.2 618.0 112.1C620.7 114.0 623.5 115.6 626.0 116.5C628.6 117.4 630.7 117.7 633.1 117.5C635.4 117.3 637.6 116.5 640.1 115.1C642.6 113.7 645.3 111.2 648.1 109.1C650.9 107.0 654.6 104.4 656.8 102.7C659.1 101.0 660.4 99.6 661.7 98.9C663.0 98.1 663.4 98.1 664.6 98.4C665.7 98.6 667.0 99.1 668.4 100.3C669.9 101.5 671.5 103.5 673.3 105.6C675.0 107.8 677.1 110.6 679.1 113.4C681.0 116.1 682.9 119.0 684.9 122.1C686.8 125.1 688.9 128.7 690.7 131.7C692.5 134.8 694.2 138.2 695.5 140.4C696.8 142.7 696.8 142.3 698.4 145.0C700.0 147.7 702.9 152.6 705.2 156.6C707.4 160.6 709.7 165.0 712.0 169.2C714.2 173.4 716.5 177.4 718.7 181.7C721.0 186.0 723.7 191.2 725.5 195.0C727.3 198.8 728.1 201.6 729.4 204.7C730.6 207.7 731.8 210.3 733.2 213.4C734.7 216.4 736.6 220.0 738.1 223.0C739.5 226.1 740.8 229.4 741.9 231.7C743.0 234.1 743.9 235.7 744.8 237.1C745.8 238.4 746.8 239.8 747.7 239.7C748.7 239.6 749.7 238.1 750.6 236.6C751.5 235.1 752.2 233.0 753.0 230.8C753.8 228.5 754.6 225.5 755.5 223.0C756.3 220.6 757.2 218.2 758.4 216.3C759.5 214.3 760.9 213.2 762.2 211.4C763.5 209.7 764.8 207.7 766.1 205.6C767.4 203.5 769.0 200.6 770.0 198.9C770.9 197.1 770.9 197.0 771.9 195.0C772.9 192.9 774.5 188.9 775.8 186.6C777.1 184.2 778.0 182.7 779.6 180.8C781.3 178.8 783.5 177.4 785.4 175.0C787.4 172.6 789.3 169.7 791.2 166.3C793.2 162.9 795.3 158.2 797.0 154.7C798.8 151.1 799.9 148.2 801.9 145.0C803.8 141.8 806.2 138.5 808.6 135.6C811.1 132.8 813.8 129.6 816.4 127.9C819.0 126.2 821.2 125.5 824.1 125.5C827.0 125.5 831.4 126.8 833.8 127.9C836.2 128.9 836.6 130.4 838.7 131.7C840.8 133.1 843.8 135.0 846.4 136.1C849.0 137.2 851.6 137.9 854.1 138.5C856.7 139.1 859.3 139.4 861.9 139.7C864.5 139.9 867.2 139.9 869.6 140.0C872.0 140.0 874.7 139.9 876.4 139.8C878.0 139.7 878.5 139.6 879.5 139.5C880.4 139.4 881.3 139.6 882.2 139.0C883.1 138.4 884.1 137.3 885.1 135.6C886.1 133.9 887.0 131.4 888.0 128.8C889.0 126.3 889.9 123.0 890.9 120.1C891.9 117.2 892.8 113.5 893.8 111.4C894.8 109.4 895.6 108.8 896.7 108.0C897.8 107.3 899.9 107.2 900.6 107.1L935.4 106.8C936.2 106.6 938.6 106.4 940.2 105.6C941.8 104.9 943.4 103.5 945.0 102.2C946.6 101.0 948.6 99.1 949.9 97.9C951.2 96.7 951.5 96.4 952.8 95.0C954.1 93.6 956.0 90.9 957.6 89.5C959.2 88.1 961.0 86.8 962.4 86.6C963.9 86.3 964.7 87.2 966.3 88.0C967.9 88.8 970.0 90.4 972.1 91.4C974.2 92.4 976.5 93.1 978.9 93.8C981.3 94.6 984.8 95.3 986.6 95.8C988.4 96.2 989.0 96.3 989.5 96.5"/>
<path class="bd" d="M642.1 47.0C643.1 48.7 646.1 53.7 648.1 57.0C650.1 60.4 652.3 64.0 654.1 67.0C655.9 70.0 657.8 73.2 659.1 75.0C660.4 76.9 661.5 77.5 662.1 78.0C662.7 78.6 662.1 78.2 662.6 78.4C663.2 78.5 664.4 79.0 665.5 78.8C666.7 78.7 667.9 78.1 669.4 77.4C670.9 76.7 672.6 75.5 674.2 74.5C675.9 73.5 677.6 72.3 679.1 71.6C680.5 70.9 681.8 70.5 682.9 70.3C684.1 70.1 684.9 70.1 685.8 70.4C686.8 70.7 687.8 71.2 688.7 72.1C689.7 73.0 690.7 74.3 691.6 75.9C692.6 77.6 693.6 79.6 694.5 81.7C695.5 83.8 696.5 86.3 697.5 88.5C698.4 90.7 699.4 92.5 700.4 95.0C701.3 97.5 702.1 100.3 703.2 103.7C704.4 107.1 705.8 111.4 707.1 115.3C708.4 119.2 709.8 123.4 711.0 126.9C712.2 130.5 713.4 133.6 714.4 136.6C715.3 139.6 715.9 142.3 716.8 145.0C717.7 147.7 718.9 150.0 719.7 152.7C720.5 155.5 720.8 158.5 721.6 161.4C722.4 164.3 723.2 167.6 724.5 170.1C725.8 172.7 727.9 174.8 729.4 176.9C730.8 179.0 732.1 180.8 733.2 182.7C734.3 184.6 735.2 186.5 736.1 188.5C737.1 190.6 738.1 192.9 739.0 195.0C740.0 197.0 741.0 199.0 741.9 200.8C742.9 202.6 743.9 204.5 744.8 205.6C745.8 206.7 746.8 207.4 747.7 207.4C748.7 207.4 749.7 206.7 750.6 205.6C751.5 204.5 752.2 202.6 753.0 200.8C753.8 199.0 754.7 196.7 755.5 195.0C756.2 193.3 756.6 192.3 757.4 190.4C758.2 188.6 759.3 185.8 760.3 183.7C761.3 181.6 762.2 179.3 763.2 177.9C764.2 176.5 765.1 175.5 766.1 175.2C767.1 174.8 768.4 176.3 769.5 175.9C770.5 175.6 771.5 174.5 772.4 173.0C773.3 171.6 774.1 169.3 774.8 167.2C775.5 165.1 776.1 162.9 776.7 160.5C777.4 158.1 778.0 155.3 778.7 152.7C779.3 150.2 779.8 148.2 780.6 145.0C781.4 141.8 782.4 137.7 783.5 133.7C784.6 129.7 786.1 125.5 787.4 121.1C788.7 116.8 790.0 111.9 791.2 107.6C792.5 103.2 794.0 98.3 795.1 95.0C796.2 91.7 796.9 89.9 798.0 87.5C799.1 85.2 800.4 82.9 801.9 80.8C803.3 78.7 805.1 76.6 806.7 75.0C808.3 73.4 809.6 72.2 811.5 71.1C813.5 70.1 816.1 69.4 818.3 68.7C820.6 68.0 823.1 67.5 825.1 67.0C827.0 66.6 828.5 66.1 829.9 66.1C831.4 66.0 832.5 66.2 833.8 66.8C835.1 67.4 836.4 68.3 837.6 69.7C838.9 71.0 840.4 73.1 841.5 75.0C842.7 76.8 843.3 78.7 844.5 80.8C845.6 82.9 847.1 85.2 848.4 87.5C849.6 89.9 850.6 92.6 852.2 95.0C853.8 97.4 856.2 99.4 858.0 101.8C859.8 104.2 861.2 107.2 862.9 109.5C864.5 111.8 865.9 113.9 867.7 115.8C869.5 117.6 871.5 119.5 873.5 120.6C875.5 121.8 877.9 122.6 879.5 122.8C881.1 122.9 881.9 122.7 883.2 121.6C884.4 120.5 885.7 118.1 887.0 116.3C888.3 114.4 889.6 112.4 890.9 110.5C892.2 108.5 893.6 106.6 894.8 104.7C895.9 102.7 896.9 100.5 897.7 98.9C898.5 97.3 899.1 96.2 899.6 95.0C900.1 93.8 900.4 92.0 900.6 91.4L935.4 87.3C935.9 86.3 937.1 83.8 938.3 81.7C939.4 79.7 940.9 76.4 942.1 75.0C943.4 73.5 944.7 73.1 946.0 73.0C947.3 73.0 948.4 73.7 949.9 74.5C951.3 75.3 953.1 76.6 954.7 77.9C956.3 79.2 958.1 81.2 959.5 82.2C961.0 83.3 962.8 83.8 963.4 84.2C964.4 83.9 966.6 83.2 969.2 82.7C971.8 82.2 975.5 81.4 978.9 81.0C982.3 80.6 987.7 80.4 989.5 80.3"/>
<path class="bd" d="M655.1 47.0C655.9 47.7 658.0 50.1 659.7 51.3C661.5 52.4 663.6 53.1 665.5 53.9C667.5 54.7 669.4 55.3 671.3 56.1C673.3 56.9 675.4 57.7 677.1 58.5C678.9 59.4 680.5 60.4 682.0 61.4C683.4 62.5 684.6 63.4 685.8 64.8C687.1 66.3 688.4 68.1 689.7 70.1C691.0 72.2 692.3 74.5 693.6 76.9C694.9 79.3 696.2 82.1 697.5 84.6C698.7 87.2 700.3 90.7 701.3 92.4C702.3 94.1 702.4 93.2 703.2 95.0C704.1 96.8 705.0 100.0 706.1 103.2C707.3 106.4 708.7 110.6 710.0 114.3C711.3 118.1 712.8 122.4 713.9 125.9C715.0 129.5 715.9 132.4 716.8 135.6C717.6 138.8 718.0 142.3 718.9 145.0C719.8 147.7 720.8 149.5 722.1 151.8C723.4 154.0 724.8 156.3 726.5 158.5C728.1 160.8 730.3 163.3 732.3 165.3C734.2 167.3 736.3 169.3 738.1 170.6C739.8 171.9 741.3 172.5 742.9 173.0C744.5 173.6 746.1 173.8 747.7 173.7C749.3 173.6 750.9 173.0 752.6 172.6C754.2 172.1 755.8 171.3 757.4 170.9C759.0 170.5 760.9 170.4 762.2 169.9C763.5 169.5 764.2 169.1 765.1 168.2C766.1 167.3 767.1 165.8 768.0 164.3C769.0 162.9 770.0 161.3 770.9 159.5C771.9 157.7 772.7 156.1 773.8 153.7C775.0 151.3 776.4 148.7 777.7 145.0C779.0 141.3 780.3 136.0 781.6 131.7C782.9 127.4 784.3 123.2 785.4 119.2C786.6 115.1 787.4 111.6 788.3 107.6C789.3 103.5 790.3 98.7 791.2 95.0C792.2 91.3 793.0 88.9 794.1 85.6C795.3 82.3 796.7 78.5 798.0 75.0C799.3 71.4 800.4 67.7 801.9 64.3C803.3 61.0 804.9 57.5 806.7 54.7C808.5 51.8 811.3 48.7 812.5 47.1C813.7 45.5 813.7 45.4 814.0 45.0"/>
<path class="bd" d="M683.4 45.0C683.6 45.4 683.8 46.1 684.4 47.1C685.0 48.2 685.8 49.9 686.8 51.3C687.9 52.7 689.2 54.3 690.7 55.6C692.1 57.0 693.9 58.3 695.5 59.5C697.1 60.7 698.7 61.5 700.4 62.9C702.0 64.3 703.7 66.0 705.2 67.7C706.6 69.4 707.9 71.2 709.0 73.0C710.2 74.9 711.0 76.7 712.0 78.8C712.9 80.9 713.9 83.4 714.9 85.6C715.8 87.9 717.0 90.8 717.8 92.4C718.5 93.9 718.5 93.1 719.2 95.0C719.9 96.9 721.1 100.5 722.1 103.7C723.1 106.9 724.4 111.0 725.5 114.3C726.5 117.7 727.4 120.6 728.4 124.0C729.4 127.4 730.4 131.1 731.3 134.6C732.2 138.1 732.9 142.3 733.7 145.0C734.5 147.7 735.2 148.8 736.1 150.8C737.0 152.8 737.9 155.1 739.0 157.1C740.1 159.1 741.4 161.5 742.9 162.9C744.3 164.3 746.1 165.5 747.7 165.5C749.3 165.5 751.1 164.3 752.6 162.9C754.0 161.5 755.3 159.1 756.4 157.1C757.6 155.1 758.4 152.8 759.3 150.8C760.2 148.8 760.6 147.9 761.8 145.0C762.9 142.1 764.7 137.3 766.1 133.7C767.5 130.0 768.7 126.7 770.0 123.0C771.3 119.3 772.6 115.0 773.8 111.4C775.0 107.9 776.3 104.5 777.2 101.8C778.2 99.0 778.4 97.7 779.6 95.0C780.8 92.3 782.9 88.9 784.5 85.6C786.1 82.3 787.7 78.5 789.3 75.0C790.9 71.4 792.5 67.7 794.1 64.3C795.8 61.0 797.4 57.5 799.0 54.7C800.6 51.8 802.8 48.7 803.8 47.1C804.9 45.5 805.0 45.4 805.3 45.0"/>
<path class="bd" d="M697.5 45.0C697.7 45.4 698.1 46.0 698.9 47.1C699.7 48.3 701.1 49.7 702.3 51.8C703.5 53.8 704.9 56.6 706.1 59.5C707.4 62.4 708.7 65.8 710.0 69.2C711.3 72.6 712.8 76.7 713.9 79.8C715.0 82.9 715.8 85.0 716.8 87.5C717.7 90.1 718.6 92.3 719.7 95.0C720.7 97.7 721.9 100.5 723.1 103.7C724.2 106.9 725.3 111.0 726.5 114.3C727.6 117.7 728.7 120.6 729.8 124.0C731.0 127.4 732.1 131.1 733.2 134.6C734.3 138.1 735.4 142.3 736.3 145.0C737.3 147.7 738.1 148.9 739.0 150.8C740.0 152.7 741.0 155.0 741.9 156.6C742.9 158.2 743.9 159.5 744.8 160.3C745.8 161.1 746.8 161.4 747.7 161.4C748.7 161.4 749.7 161.1 750.6 160.3C751.6 159.5 752.6 158.2 753.5 156.6C754.5 155.0 755.5 152.7 756.4 150.8C757.4 148.9 758.2 147.9 759.3 145.0C760.5 142.1 761.9 137.5 763.2 133.7C764.5 129.9 765.8 126.1 767.1 122.1C768.4 118.0 769.8 113.2 770.9 109.5C772.1 105.8 773.1 102.2 773.8 99.8C774.6 97.4 774.3 97.2 775.3 95.0C776.2 92.8 778.3 89.8 779.6 86.6C781.0 83.4 782.2 79.5 783.5 75.9C784.8 72.4 786.1 68.7 787.4 65.3C788.7 61.9 790.0 58.7 791.2 55.6C792.5 52.6 794.3 48.9 795.1 47.1C795.9 45.4 795.9 45.4 796.1 45.0"/>
<path class="bd" d="M702.3 45.0C702.4 45.4 702.4 45.7 703.0 47.1C703.7 48.6 705.1 51.3 706.1 53.7C707.1 56.1 708.1 58.7 709.0 61.4C710.0 64.2 711.0 67.2 712.0 70.1C712.9 73.0 713.9 75.9 714.9 78.8C715.8 81.7 716.8 84.9 717.8 87.5C718.7 90.2 719.6 92.1 720.6 95.0C721.7 97.8 723.0 101.4 724.0 104.7C725.1 107.9 726.1 111.3 726.9 114.3C727.8 117.4 728.5 120.1 729.4 123.0C730.2 125.9 731.3 129.5 732.3 131.7C733.2 134.0 734.2 135.4 735.2 136.6C736.1 137.7 736.8 138.2 738.1 138.7C739.3 139.2 741.3 139.5 742.9 139.7C744.5 139.9 746.1 139.9 747.7 139.9C749.3 139.9 751.1 139.8 752.6 139.7C754.0 139.5 755.3 139.5 756.4 139.0C757.6 138.5 758.5 137.8 759.3 136.6C760.1 135.4 760.6 133.8 761.3 131.7C761.9 129.6 762.4 126.9 763.2 124.0C764.0 121.1 765.1 117.6 766.1 114.3C767.1 111.1 768.0 107.9 769.0 104.7C770.0 101.4 770.9 98.5 771.9 95.0C772.9 91.5 773.8 87.7 774.8 83.7C775.8 79.7 776.7 75.5 777.7 71.1C778.7 66.8 779.7 61.6 780.6 57.6C781.5 53.6 782.5 49.2 783.0 47.1C783.5 45.0 783.4 45.4 783.5 45.0"/>
<path class="bd" d="M704.0 45.0C704.2 45.4 704.3 45.6 705.0 47.1C705.6 48.7 706.9 51.6 707.9 54.2C708.9 56.7 709.8 59.6 710.8 62.4C711.8 65.2 712.7 68.2 713.7 71.1C714.7 74.0 715.6 76.9 716.6 79.8C717.6 82.7 718.6 86.0 719.5 88.5C720.4 91.0 720.9 92.3 721.8 95.0C722.7 97.7 724.0 101.4 725.0 104.7C726.0 107.9 727.0 111.3 727.9 114.3C728.8 117.4 729.7 120.3 730.5 123.0C731.4 125.8 732.6 129.5 733.0 130.8"/>
<path class="bd" d="M709.2 45.0C709.4 45.4 709.6 45.8 710.0 47.1C710.5 48.4 711.1 50.2 712.0 52.7C712.8 55.3 713.9 59.0 714.9 62.4C715.8 65.8 716.8 69.5 717.8 73.0C718.7 76.6 719.7 80.3 720.6 83.7C721.6 87.1 722.9 91.5 723.5 93.3C724.2 95.2 723.7 93.3 724.3 95.0C725.0 96.7 726.3 100.5 727.4 103.7C728.6 106.9 730.0 111.0 731.3 114.3C732.6 117.7 733.9 121.3 735.2 124.0C736.4 126.8 737.7 129.2 739.0 130.8C740.3 132.4 741.4 133.0 742.9 133.7C744.3 134.3 746.1 134.6 747.7 134.6C749.3 134.6 751.1 134.5 752.6 133.7C754.0 132.9 755.1 131.7 756.4 129.8C757.7 127.9 759.0 125.0 760.3 122.1C761.6 119.2 762.9 115.8 764.2 112.4C765.4 109.0 767.0 104.7 768.0 101.8C769.1 98.9 769.5 98.3 770.5 95.0C771.4 91.7 772.9 86.0 773.8 81.7C774.8 77.4 775.4 73.4 776.2 69.2C777.1 65.0 777.9 60.3 778.7 56.6C779.4 52.9 780.2 49.1 780.6 47.1C781.0 45.2 781.0 45.4 781.1 45.0"/>
<path class="bd" d="M827.1 45.0C827.4 45.4 828.0 46.2 829.0 47.1C830.0 48.0 831.4 49.3 832.9 50.3C834.3 51.3 836.1 52.4 837.7 53.2C839.3 54.0 840.9 54.4 842.5 55.1C844.2 55.9 845.8 56.4 847.4 57.6C849.0 58.7 850.6 60.1 852.2 61.9C853.8 63.8 855.4 66.4 857.0 68.7C858.7 71.0 860.3 73.6 861.9 75.9C863.5 78.3 865.1 80.7 866.7 82.7C868.3 84.7 869.9 86.7 871.5 88.0C873.2 89.4 875.1 90.3 876.4 90.9C877.7 91.5 878.4 91.7 879.5 91.6C880.6 91.5 881.9 91.3 883.2 90.5C884.4 89.6 885.7 88.2 887.0 86.6C888.3 85.0 889.8 82.9 890.9 80.8C892.0 78.7 892.8 76.6 893.8 74.0C894.8 71.4 895.6 68.0 896.7 65.3C897.8 62.6 899.9 58.9 900.6 57.6L935.4 54.2C935.6 53.6 936.3 52.0 936.8 50.8C937.3 49.6 937.9 48.1 938.3 47.1C938.6 46.2 938.8 45.4 939.0 45.0"/>
<path class="bd" d="M841.6 45.0C841.8 45.4 842.2 46.2 843.0 47.1C843.8 48.1 845.0 49.6 846.4 50.8C847.8 52.0 849.3 53.2 851.2 54.2C853.2 55.2 855.6 56.0 858.0 56.6C860.4 57.2 863.2 57.4 865.8 57.6C868.3 57.8 871.2 57.8 873.5 57.9C875.8 57.9 877.5 57.8 879.5 57.9C881.4 57.9 883.4 58.1 885.1 58.2C886.8 58.4 889.1 58.5 889.9 58.5C890.4 58.1 891.9 56.9 892.8 55.6C893.8 54.4 894.9 52.2 895.7 50.8C896.5 49.4 897.2 48.1 897.7 47.1C898.1 46.2 898.5 45.4 898.6 45.0"/>
<path class="bd" d="M858.0 46.0C858.5 46.2 859.3 46.9 860.9 47.3C862.5 47.8 865.3 48.3 867.7 48.7C870.1 49.0 873.5 49.4 875.4 49.5C877.4 49.7 878.4 49.6 879.5 49.4C880.6 49.1 881.4 48.6 882.2 48.1C883.0 47.6 883.8 46.5 884.1 46.2"/>
<path class="bd" d="M861.9 46.0C862.8 46.3 865.4 47.4 867.7 47.9C869.9 48.4 873.5 48.7 875.4 48.9C877.4 49.0 878.4 48.9 879.5 48.7C880.5 48.4 881.1 47.8 881.7 47.3C882.3 46.9 882.9 46.2 883.2 46.0"/>
<path class="bd" d="M595.5 344.3C596.2 343.2 598.3 340.1 599.8 337.6C601.3 335.0 602.9 331.9 604.6 328.8C606.4 325.8 608.5 322.1 610.4 319.2C612.4 316.3 614.1 313.9 616.2 311.4C618.3 309.0 620.6 306.7 623.0 304.7C625.4 302.7 628.2 300.8 630.7 299.4C633.3 297.9 635.9 297.0 638.5 296.2C641.1 295.3 643.6 294.6 646.2 294.2C648.8 293.8 651.7 293.7 654.0 293.7C656.2 293.8 658.1 294.2 659.8 294.4C661.4 294.7 662.0 294.8 663.6 295.2C665.2 295.6 667.5 296.2 669.4 296.9C671.4 297.6 673.3 298.6 675.2 299.4C677.2 300.1 679.1 300.7 681.0 301.3C683.0 301.9 684.9 302.2 686.8 302.7C688.8 303.3 690.7 304.0 692.6 304.7C694.6 305.3 696.7 306.0 698.4 306.6C700.2 307.2 702.0 308.0 703.3 308.2C704.5 308.5 705.2 308.4 706.2 308.1C707.1 307.7 707.9 307.1 709.1 306.1C710.2 305.2 711.5 303.6 712.9 302.2C714.4 300.9 716.4 299.0 717.8 297.9C719.1 296.8 720.0 296.0 721.1 295.5C722.3 295.0 723.3 296.5 724.5 295.0C725.7 293.5 726.9 289.8 728.4 286.6C729.8 283.4 731.6 278.9 733.2 275.9C734.8 273.0 736.4 270.4 738.1 268.7C739.7 267.0 741.3 266.4 742.9 265.8C744.5 265.2 746.1 265.0 747.7 265.1C749.3 265.2 751.1 265.5 752.6 266.3C754.0 267.0 755.1 268.4 756.4 269.7C757.7 271.0 759.2 272.9 760.3 274.0C761.4 275.1 761.9 275.8 763.2 276.4C764.5 277.0 766.6 277.0 768.0 277.7C769.5 278.4 770.4 279.3 771.9 280.8C773.4 282.3 775.1 284.6 776.7 286.6C778.3 288.5 779.9 290.3 781.6 292.4C783.3 294.5 785.3 297.3 787.0 299.4C788.7 301.4 790.1 302.9 791.8 304.7C793.6 306.4 795.5 308.5 797.6 310.0C799.7 311.4 802.0 312.4 804.4 313.4C806.8 314.3 809.6 314.8 812.1 315.8C814.7 316.8 817.3 317.9 819.9 319.2C822.5 320.5 825.0 322.0 827.6 323.5C830.2 325.1 832.8 326.7 835.4 328.4C837.9 330.0 840.5 331.7 843.1 333.2C845.7 334.7 848.2 336.2 850.8 337.6C853.4 338.9 856.3 340.4 858.5 341.4C860.8 342.5 862.9 343.2 864.4 343.8C865.8 344.4 865.6 344.6 867.3 345.0C868.9 345.4 871.9 346.1 874.0 346.4C876.1 346.8 878.4 346.6 879.8 347.1C881.3 347.7 881.8 348.4 882.7 349.8C883.7 351.2 884.8 354.1 885.6 355.6C886.4 357.2 887.2 358.5 887.6 359.0C888.0 358.3 889.5 356.2 890.5 354.7C891.4 353.1 892.4 351.4 893.4 349.8C894.3 348.2 895.1 346.6 896.3 345.0C897.5 343.4 899.9 341.0 900.6 340.2L934.9 339.3C935.6 338.8 937.4 336.9 938.8 336.1C940.3 335.3 942.2 334.5 943.6 334.4C945.1 334.4 946.2 334.9 947.5 335.6C948.8 336.4 950.3 338.0 951.4 339.0C952.5 340.0 953.6 340.7 954.3 341.9C955.0 343.1 954.9 344.2 955.7 346.0C956.5 347.8 957.9 350.0 959.1 352.7C960.3 355.5 961.7 359.2 963.0 362.4C964.3 365.6 965.6 369.3 966.9 372.1C968.1 374.8 969.4 377.2 970.7 378.8C972.0 380.5 973.9 381.5 974.6 381.9C975.3 382.4 973.8 382.6 975.0 381.7C976.2 380.9 979.4 378.8 981.8 376.9C984.2 375.0 988.2 371.3 989.5 370.1"/>
<path class="bd" d="M595.5 370.6C596.0 370.4 597.5 370.2 598.8 369.2C600.2 368.1 602.1 366.0 603.7 364.3C605.3 362.7 606.9 360.9 608.5 359.5C610.1 358.1 611.7 357.0 613.3 356.1C615.0 355.3 616.6 354.8 618.2 354.5C619.8 354.2 621.4 354.1 623.0 354.2C624.6 354.3 626.2 354.7 627.8 355.1C629.5 355.6 631.6 356.3 632.7 356.6C633.8 356.9 634.3 356.8 634.6 356.8C634.9 356.5 635.7 356.3 636.5 355.1C637.4 354.0 638.5 351.5 639.5 349.8C640.4 348.1 641.2 346.9 642.4 345.0C643.5 343.1 644.8 340.9 646.2 338.5C647.7 336.1 649.3 333.5 651.0 330.8C652.8 328.0 654.8 325.0 656.9 322.1C658.9 319.2 661.4 315.9 663.6 313.4C665.9 310.8 668.3 308.5 670.4 306.6C672.5 304.7 674.4 303.0 676.2 301.8C678.0 300.5 679.4 299.9 681.0 299.1C682.6 298.3 684.2 297.6 685.9 296.9C687.5 296.3 689.1 295.8 690.7 295.0C692.3 294.2 693.7 292.7 695.5 291.9C697.3 291.1 699.4 290.5 701.3 290.2C703.2 290.0 705.3 290.3 707.1 290.2C708.9 290.2 710.5 290.4 712.0 290.0C713.4 289.5 714.4 288.8 715.8 287.6C717.3 286.3 719.0 284.5 720.6 282.2C722.3 280.0 723.9 277.0 725.5 274.0C727.1 271.0 728.7 267.1 730.3 264.3C731.9 261.6 733.4 259.5 735.2 257.6C736.9 255.6 738.9 253.8 741.0 252.7C743.1 251.6 745.8 250.9 747.7 251.0C749.7 251.1 750.9 252.0 752.6 253.2C754.2 254.5 755.8 256.4 757.4 258.5C759.0 260.6 760.8 263.7 762.2 265.8C763.7 267.9 764.8 270.0 766.1 271.3C767.4 272.6 768.5 272.7 770.0 273.3C771.4 273.9 773.2 274.1 774.8 275.0C776.4 275.8 778.0 276.9 779.6 278.4C781.3 279.8 783.0 281.8 784.5 283.7C785.9 285.5 787.2 287.6 788.3 289.5C789.5 291.4 790.0 292.8 791.2 295.0C792.5 297.2 794.3 300.1 795.7 302.7C797.1 305.4 798.3 308.1 799.6 310.9C800.9 313.8 802.2 317.3 803.4 320.1C804.7 323.0 806.0 325.5 807.3 327.9C808.6 330.3 809.9 332.5 811.2 334.6C812.5 336.7 813.9 338.8 815.0 340.4C816.2 342.1 817.3 343.6 817.9 344.3C818.6 345.1 817.8 344.3 818.9 345.0C820.0 345.7 822.6 347.3 824.7 348.4C826.8 349.5 829.4 350.6 831.5 351.8C833.6 353.0 835.3 354.2 837.3 355.6C839.2 357.1 841.1 358.7 843.1 360.5C845.0 362.2 846.9 364.5 848.9 366.3C850.8 368.0 852.8 369.9 854.7 371.1C856.6 372.3 858.4 372.9 860.5 373.5C862.6 374.2 865.0 374.6 867.3 375.0C869.5 375.3 871.9 375.5 874.0 375.6C876.1 375.8 878.4 376.2 879.8 375.8C881.3 375.3 881.8 374.6 882.7 373.0C883.7 371.5 884.8 367.9 885.6 366.3C886.4 364.7 887.2 363.9 887.6 363.4C887.9 364.0 888.7 365.3 889.5 367.2C890.3 369.2 891.4 372.8 892.4 375.0C893.4 377.1 894.2 379.0 895.3 380.3C896.4 381.6 898.5 382.5 899.2 382.9C905.1 383.0 928.3 383.2 934.9 383.7C941.5 384.1 937.4 384.9 938.8 385.6C940.2 386.3 942.4 387.6 943.2 388.0C943.4 387.3 943.9 386.5 944.6 383.7C945.3 380.9 946.5 375.5 947.5 371.1C948.5 366.8 949.4 361.6 950.4 357.6C951.4 353.5 952.3 350.4 953.3 346.9C954.3 343.4 955.2 339.9 956.2 336.6C957.2 333.2 958.1 329.8 959.1 326.9C960.1 324.0 961.1 321.2 962.0 319.2C963.0 317.2 963.8 315.9 964.9 314.8C966.0 313.8 967.5 312.9 968.8 312.9C970.1 312.9 971.5 313.6 972.6 314.8C973.8 316.0 974.2 317.4 975.5 320.1C976.9 322.9 978.7 327.0 980.6 331.1C982.4 335.3 985.1 342.3 986.6 345.1C988.1 348.0 989.1 347.5 989.6 347.9"/>
<path class="bd" d="M595.5 383.7C595.8 384.5 596.7 386.6 597.4 388.5C598.1 390.4 598.9 392.9 599.8 395.0C600.7 397.0 601.7 398.7 602.7 400.8C603.7 402.9 604.7 405.7 605.6 407.6C606.5 409.5 607.6 411.4 608.0 412.2C608.3 412.2 609.2 413.0 610.0 412.2C610.7 411.4 611.5 409.3 612.4 407.6C613.3 405.8 614.3 403.7 615.3 401.8C616.2 399.8 617.0 398.5 618.2 396.0C619.3 393.4 620.8 389.6 622.0 386.6C623.3 383.6 624.6 380.8 625.9 377.9C627.2 375.0 628.5 371.8 629.8 369.2C631.1 366.6 632.6 364.0 633.6 362.4C634.7 360.8 635.3 360.0 636.1 359.7C636.9 359.4 637.4 359.9 638.5 360.5C639.5 361.1 640.9 362.2 642.4 363.4C643.8 364.5 645.6 365.9 647.2 367.2C648.8 368.5 650.4 369.9 652.0 371.1C653.6 372.3 655.4 373.6 656.9 374.5C658.3 375.4 660.1 376.1 660.7 376.4C661.0 376.3 661.8 376.8 662.6 375.8C663.5 374.7 664.4 372.4 665.5 370.1C666.7 367.9 668.1 365.0 669.4 362.4C670.7 359.8 672.0 357.1 673.3 354.7C674.6 352.3 676.2 349.5 677.2 347.9C678.1 346.3 677.8 346.6 679.1 345.0C680.4 343.4 683.0 340.6 684.9 338.5C686.8 336.5 688.8 334.6 690.7 332.7C692.6 330.8 694.7 328.8 696.5 326.9C698.3 325.0 699.9 322.8 701.3 321.1C702.8 319.4 703.9 317.9 705.2 316.8C706.5 315.6 707.8 315.2 709.1 314.3C710.4 313.5 711.6 312.4 712.9 311.4C714.2 310.5 715.5 309.7 716.8 308.5C718.1 307.4 719.6 306.0 720.7 304.7C721.7 303.3 722.4 301.4 723.1 300.3C723.7 299.3 724.0 298.5 724.5 298.4C725.1 298.2 725.7 298.5 726.5 299.4C727.3 300.2 728.2 301.8 729.4 303.7C730.5 305.6 732.0 308.4 733.2 310.5C734.5 312.6 736.0 314.9 737.1 316.3C738.2 317.6 738.9 318.3 740.0 318.7C741.1 319.1 742.6 318.8 743.9 318.7C745.2 318.6 746.3 318.2 747.7 318.2C749.2 318.3 751.3 318.8 752.6 319.0C753.9 319.1 754.5 319.5 755.5 319.2C756.4 318.8 757.4 318.0 758.4 316.8C759.3 315.6 760.3 313.1 761.3 311.9C762.2 310.7 763.1 309.8 764.2 309.5C765.3 309.2 766.6 309.7 768.0 310.0C769.5 310.3 771.3 311.0 772.9 311.4C774.5 311.8 776.1 311.7 777.7 312.4C779.3 313.1 781.0 314.0 782.5 315.8C784.1 317.6 785.6 320.9 787.0 323.0C788.4 325.2 789.4 326.7 790.9 328.8C792.3 330.9 794.1 333.7 795.7 335.6C797.3 337.5 798.9 339.1 800.5 340.4C802.2 341.8 804.2 343.1 805.4 343.8C806.5 344.6 806.0 344.3 807.3 345.0C808.6 345.7 811.2 346.9 813.1 347.9C815.0 348.9 817.0 349.6 818.9 350.8C820.8 352.0 822.8 353.7 824.7 355.1C826.6 356.6 828.6 358.0 830.5 359.5C832.4 361.0 834.4 362.5 836.3 363.9C838.2 365.2 840.2 366.5 842.1 367.7C844.1 368.9 846.1 370.1 847.9 371.1C849.7 372.2 851.3 372.9 852.8 374.0C854.2 375.1 855.3 376.4 856.6 377.9C857.9 379.3 859.2 381.1 860.5 382.7C861.8 384.3 862.9 385.9 864.4 387.6C865.8 389.2 867.7 391.1 869.2 392.4C870.6 393.6 871.8 394.2 873.1 395.0C874.3 395.8 875.6 396.8 876.9 397.4C878.2 398.1 879.8 398.1 880.8 398.9C881.8 399.6 882.1 400.7 882.7 401.8C883.4 402.8 884.0 404.5 884.7 405.1C885.3 405.8 885.8 405.5 886.6 405.6C887.4 405.8 888.5 405.3 889.5 405.8C890.5 406.3 891.4 407.1 892.4 408.5C893.4 410.0 894.3 412.3 895.3 414.3C896.3 416.4 897.4 419.4 898.2 420.6C899.0 421.8 899.8 421.4 900.1 421.6L934.9 421.1C935.4 420.6 937.0 419.8 937.8 418.2C938.6 416.6 939.1 414.0 939.8 411.4C940.4 408.9 941.1 405.5 941.7 402.7C942.4 400.0 943.2 396.8 943.6 395.0C944.0 393.2 943.4 391.9 944.1 392.0C944.8 392.1 946.5 394.2 947.9 395.7C949.4 397.2 950.5 399.3 952.8 401.1C955.0 402.9 958.6 406.5 961.5 406.5C964.4 406.5 967.1 403.4 970.2 401.1C973.2 398.7 976.6 395.2 979.9 392.4C983.1 389.6 987.9 385.6 989.5 384.3"/>
<path class="bd" d="M595.5 431.7C596.0 431.4 597.6 430.8 598.8 429.8C600.0 428.8 601.4 427.5 602.7 425.9C604.0 424.4 605.6 421.7 606.6 420.6C607.5 419.5 607.8 419.0 608.5 419.2C609.2 419.3 610.0 420.5 610.9 421.6C611.9 422.7 613.1 424.7 614.3 425.9C615.5 427.2 617.0 428.6 618.2 429.0C619.3 429.5 619.8 429.4 621.1 428.8C622.4 428.3 624.1 427.1 625.9 425.9C627.7 424.8 629.8 423.4 631.7 422.1C633.6 420.7 635.7 419.3 637.5 417.7C639.3 416.1 640.9 414.3 642.4 412.4C643.8 410.5 644.9 408.7 646.2 406.6C647.5 404.5 649.1 401.8 650.1 399.8C651.0 397.9 651.1 397.2 652.0 395.0C653.0 392.8 654.6 389.1 655.9 386.6C657.2 384.0 658.6 381.3 659.8 379.8C660.9 378.4 661.5 378.1 662.6 377.9C663.8 377.6 665.2 378.6 666.5 378.4C667.8 378.1 669.1 377.5 670.4 376.4C671.7 375.4 672.8 374.1 674.3 372.1C675.7 370.1 677.5 366.8 679.1 364.3C680.7 361.9 682.3 359.7 683.9 357.6C685.5 355.5 687.1 353.5 688.8 351.8C690.4 350.1 692.3 348.6 693.6 347.4C694.9 346.3 695.4 345.8 696.5 345.0C697.6 344.1 698.9 343.1 700.4 342.4C701.8 341.6 703.6 340.9 705.2 340.4C706.8 340.0 708.6 339.6 710.0 339.8C711.5 339.9 712.8 340.9 713.9 341.4C715.0 341.9 715.7 343.2 716.8 342.9C717.9 342.5 719.4 340.5 720.7 339.5C722.0 338.5 723.4 336.9 724.5 336.8C725.7 336.6 726.6 337.6 727.4 338.5C728.2 339.4 728.9 341.3 729.4 342.4C729.9 343.5 729.7 343.6 730.3 345.0C731.0 346.4 732.3 349.6 733.2 350.8C734.2 352.0 735.2 352.2 736.1 352.2C737.1 352.2 738.1 350.7 739.0 350.8C740.0 350.9 741.0 352.7 741.9 352.7C742.9 352.7 743.9 351.3 744.8 350.8C745.8 350.3 746.8 349.6 747.7 349.6C748.7 349.7 749.7 350.8 750.6 351.3C751.6 351.8 752.6 352.8 753.5 352.7C754.5 352.7 755.3 351.6 756.4 351.0C757.6 350.4 759.3 350.4 760.3 349.4C761.3 348.4 761.4 347.1 762.2 345.0C763.1 342.9 764.2 338.4 765.1 336.6C766.1 334.8 767.1 334.0 768.0 334.2C769.0 334.3 770.0 335.7 771.0 337.6C771.9 339.4 772.7 343.3 773.9 345.0C775.0 346.7 776.3 347.0 777.7 347.9C779.2 348.8 781.0 349.7 782.5 350.3C784.1 351.0 785.6 350.9 787.0 351.8C788.4 352.7 789.6 354.2 790.9 355.6C792.2 357.1 793.6 358.7 794.7 360.5C795.9 362.2 796.8 364.0 797.6 366.3C798.4 368.5 798.9 371.4 799.6 374.0C800.2 376.6 800.9 379.2 801.5 381.7C802.1 384.3 802.8 387.3 803.4 389.5C804.1 391.7 804.6 392.1 805.4 395.0C806.2 397.9 807.3 402.9 808.3 406.6C809.2 410.3 810.2 413.9 811.2 417.2C812.1 420.6 813.1 424.0 814.1 426.9C815.0 429.8 816.0 432.5 817.0 434.6C817.9 436.7 818.9 438.1 819.9 439.5C820.8 440.9 822.3 442.3 822.8 442.9"/>
<path class="bd" d="M607.5 442.9C608.2 442.1 610.1 439.8 611.4 438.5C612.7 437.2 614.0 436.0 615.3 435.1C616.6 434.3 617.9 433.7 619.1 433.4C620.4 433.1 621.7 433.5 623.0 433.2C624.3 432.9 625.4 432.6 626.9 431.7C628.3 430.9 630.1 429.2 631.7 427.9C633.3 426.5 634.8 424.8 636.5 423.5C638.3 422.3 640.4 421.2 642.4 420.3C644.3 419.4 646.2 419.0 648.1 418.2C650.1 417.5 652.2 416.8 654.0 415.8C655.7 414.8 657.2 413.9 658.8 412.4C660.4 410.9 662.2 408.5 663.6 406.6C665.1 404.7 666.2 402.7 667.5 400.8C668.8 398.9 670.1 397.4 671.4 395.0C672.6 392.6 673.9 389.4 675.2 386.6C676.5 383.7 677.8 380.8 679.1 377.9C680.4 375.0 681.7 371.9 683.0 369.2C684.2 366.4 685.5 363.9 686.8 361.4C688.1 359.0 689.4 356.8 690.7 354.7C692.0 352.6 693.1 350.5 694.6 348.9C696.0 347.3 698.1 346.9 699.4 345.0C700.7 343.1 701.3 340.4 702.3 337.6C703.3 334.7 704.2 330.8 705.2 327.9C706.2 325.0 707.1 322.2 708.1 320.1C709.1 318.1 709.9 316.8 711.0 315.8C712.1 314.8 713.7 314.7 714.9 314.3C716.0 313.9 716.8 314.2 717.8 313.4C718.7 312.6 719.6 310.5 720.7 309.5C721.7 308.5 722.9 307.4 724.0 307.4C725.2 307.4 726.4 308.0 727.4 309.5C728.5 311.0 729.4 313.7 730.3 316.3C731.3 318.8 732.3 322.6 733.2 325.0C734.2 327.4 735.3 329.7 736.1 330.8C736.9 331.9 737.1 331.9 738.1 331.6C739.0 331.2 740.3 329.7 741.9 328.8C743.6 328.0 746.0 326.5 747.7 326.4C749.5 326.4 751.0 327.6 752.6 328.4C754.2 329.2 756.1 331.3 757.4 331.3C758.7 331.2 759.3 329.7 760.3 327.9C761.3 326.0 762.1 322.4 763.2 320.1C764.3 317.9 765.8 315.6 767.1 314.3C768.4 313.0 769.7 312.6 771.0 312.4C772.2 312.2 773.4 312.2 774.8 312.9C776.3 313.6 778.2 315.4 779.6 316.8C781.1 318.1 782.3 319.3 783.5 321.1C784.7 322.9 785.9 325.3 787.0 327.4C788.1 329.5 788.9 331.7 789.9 333.7C790.9 335.7 791.8 337.6 792.8 339.5C793.8 341.4 794.6 343.0 795.7 345.0C796.8 347.0 798.3 349.5 799.6 351.8C800.9 354.0 802.0 356.1 803.4 358.5C804.9 361.0 806.7 364.0 808.3 366.3C809.9 368.5 811.3 370.0 813.1 372.1C814.9 374.2 817.0 376.6 818.9 378.8C820.8 381.1 822.9 383.5 824.7 385.6C826.5 387.7 828.1 389.8 829.5 391.4C831.0 393.0 832.0 393.6 833.4 395.0C834.9 396.4 836.5 397.9 838.2 399.8C840.0 401.8 842.1 404.3 844.0 406.6C846.0 408.9 848.1 411.5 849.9 413.4C851.6 415.2 853.2 416.8 854.7 417.7C856.1 418.6 857.3 418.9 858.5 418.9C859.8 418.9 861.0 418.4 862.4 417.7C863.9 417.0 865.6 415.9 867.3 414.8C868.9 413.8 870.6 412.4 872.1 411.4C873.5 410.5 874.7 409.6 876.0 409.0C877.2 408.5 878.5 408.3 879.8 408.1C881.1 407.8 882.6 406.7 883.7 407.4C884.8 408.1 885.6 410.3 886.6 412.4C887.6 414.5 888.4 417.7 889.5 420.1C890.6 422.6 892.1 425.0 893.4 426.9C894.6 428.8 896.0 430.0 897.2 431.7C898.4 433.5 900.0 436.6 900.6 437.6L934.9 439.7L938.8 442.9"/>
<path class="bd" d="M647.2 442.9C648.0 441.7 650.4 438.3 652.0 435.6C653.6 433.0 655.2 430.0 656.9 426.9C658.5 423.8 660.1 420.3 661.7 417.2C663.3 414.2 664.9 411.1 666.5 408.5C668.1 406.0 669.7 403.7 671.4 401.8C673.0 399.8 674.9 398.1 676.2 396.9C677.5 395.8 678.0 396.6 679.1 395.0C680.2 393.4 681.7 390.2 683.0 387.6C684.2 384.9 685.5 381.7 686.8 378.8C688.1 375.9 689.4 372.9 690.7 370.1C692.0 367.4 693.3 364.8 694.6 362.4C695.8 360.0 697.1 357.7 698.4 355.6C699.7 353.5 700.8 351.6 702.3 349.8C703.8 348.1 705.8 347.0 707.1 345.0C708.4 342.9 709.1 340.6 710.0 337.6C711.0 334.5 712.0 329.8 712.9 326.9C713.9 324.0 714.8 321.8 715.8 320.1C716.9 318.4 718.3 316.8 719.2 316.8C720.2 316.7 720.8 318.3 721.6 319.7C722.5 321.0 723.4 323.4 724.5 325.0C725.7 326.5 726.9 327.7 728.4 328.8C729.9 330.0 732.0 330.6 733.2 331.7C734.5 332.9 735.3 334.0 736.1 335.6C736.9 337.2 737.5 339.8 738.1 341.4C738.6 343.0 739.0 344.0 739.5 345.0C740.1 346.0 740.8 347.1 741.5 347.1C742.1 347.1 742.3 346.0 743.4 345.0C744.4 344.0 746.2 341.4 747.7 341.4C749.3 341.4 751.5 343.8 752.6 345.0C753.7 346.2 753.9 348.4 754.5 348.4C755.1 348.4 755.8 346.6 756.2 345.0C756.7 343.4 756.7 340.4 757.4 338.5C758.1 336.6 759.2 334.8 760.3 333.7C761.4 332.6 763.1 332.7 764.2 331.7C765.3 330.8 766.0 329.3 767.1 327.9C768.2 326.4 769.7 324.1 771.0 323.0C772.2 322.0 773.5 321.4 774.8 321.6C776.1 321.8 777.4 322.8 778.7 324.0C780.0 325.2 781.2 326.6 782.5 328.8C783.9 331.1 785.9 335.3 787.0 337.6C788.1 339.8 788.4 341.1 788.9 342.4C789.5 343.6 789.7 343.4 790.4 345.0C791.0 346.6 791.9 349.4 792.8 351.8C793.7 354.2 794.7 357.4 795.7 359.5C796.7 361.6 797.6 362.9 798.6 364.3C799.6 365.8 800.5 366.9 801.5 368.2C802.5 369.5 803.4 370.5 804.4 372.1C805.4 373.7 806.3 375.8 807.3 377.9C808.3 380.0 809.2 382.2 810.2 384.6C811.2 387.1 812.4 390.7 813.1 392.4C813.8 394.1 813.9 393.3 814.6 395.0C815.2 396.7 816.1 400.0 817.0 402.7C817.9 405.5 818.9 408.5 819.9 411.4C820.8 414.3 821.8 417.6 822.8 420.1C823.7 422.7 824.7 425.0 825.7 426.9C826.6 428.8 827.5 430.5 828.6 431.7C829.7 433.0 831.2 434.1 832.5 434.6C833.7 435.2 834.9 435.3 836.3 435.1C837.8 435.0 839.5 434.4 841.1 433.7C842.8 433.0 844.4 431.7 846.0 430.8C847.6 429.8 849.2 428.6 850.8 427.9C852.4 427.2 854.2 426.5 855.6 426.4C857.1 426.3 858.1 426.7 859.5 427.4C861.0 428.1 862.7 429.7 864.4 430.8C866.0 431.9 867.6 433.2 869.2 434.2C870.8 435.1 872.2 435.8 874.0 436.4C875.8 436.9 878.1 437.1 879.8 437.4C881.6 437.6 883.2 437.5 884.7 437.7C886.1 438.0 887.2 438.5 888.5 439.0C889.8 439.5 891.2 440.3 892.4 440.9C893.6 441.6 895.2 442.5 895.8 442.9"/>
<path class="bd" d="M653.0 442.9C653.8 441.5 656.2 437.5 657.8 434.6C659.4 431.8 661.0 428.8 662.6 425.9C664.3 423.0 665.9 420.0 667.5 417.2C669.1 414.5 670.7 411.8 672.3 409.5C673.9 407.2 675.4 405.6 677.2 403.7C678.9 401.8 681.2 399.8 683.0 398.4C684.7 396.9 686.2 396.5 687.8 395.0C689.4 393.5 691.0 391.4 692.6 389.5C694.2 387.6 695.8 385.8 697.5 383.7C699.1 381.6 700.8 379.3 702.3 376.9C703.8 374.5 704.9 371.7 706.2 369.2C707.4 366.6 708.7 363.5 710.0 361.4C711.3 359.3 712.8 357.6 713.9 356.6C715.0 355.6 715.8 355.1 716.8 355.1C717.8 355.1 718.7 355.7 719.7 356.6C720.7 357.5 721.6 359.5 722.6 360.5C723.6 361.5 724.5 362.4 725.5 362.6C726.5 362.8 727.4 362.2 728.4 361.4C729.4 360.7 730.4 358.8 731.3 358.1C732.2 357.3 732.9 357.0 733.7 357.1C734.5 357.2 735.4 358.0 736.1 358.5C736.9 359.1 737.4 360.6 738.1 360.5C738.7 360.4 739.0 358.9 740.0 358.1C741.0 357.2 742.6 356.2 743.9 355.6C745.2 355.1 746.3 354.4 747.7 354.7C749.2 354.9 751.0 356.2 752.6 357.1C754.2 358.0 755.8 359.7 757.4 360.0C759.0 360.2 760.5 359.3 762.2 358.5C764.0 357.8 766.3 356.3 768.0 355.6C769.8 355.0 771.4 354.5 772.9 354.5C774.3 354.5 775.5 354.6 776.8 355.6C778.0 356.6 779.5 358.5 780.6 360.5C781.7 362.4 782.6 365.0 783.5 367.2C784.5 369.5 785.4 372.1 786.4 374.0C787.5 375.9 788.8 376.7 789.9 378.8C791.0 380.9 791.7 383.9 792.8 386.6C793.9 389.3 795.4 392.1 796.7 395.0C798.0 397.8 799.3 400.5 800.5 403.7C801.8 406.9 803.1 411.0 804.4 414.3C805.7 417.7 807.0 420.9 808.3 424.0C809.6 427.1 810.9 430.1 812.1 432.7C813.4 435.3 814.9 437.8 816.0 439.5C817.1 441.2 818.4 442.3 818.9 442.9"/>
<path class="bd" d="M672.3 442.9C673.0 441.7 674.7 438.4 676.2 435.6C677.6 432.8 679.4 429.2 681.0 425.9C682.6 422.7 684.2 419.3 685.9 416.3C687.5 413.2 689.1 410.1 690.7 407.6C692.3 405.0 693.9 402.9 695.5 400.8C697.1 398.7 698.9 397.2 700.4 395.0C701.8 392.8 702.9 390.2 704.2 387.6C705.5 384.9 706.8 381.4 708.1 378.8C709.4 376.3 710.7 373.8 712.0 372.1C713.3 370.4 714.5 369.3 715.8 368.7C717.1 368.0 718.2 368.1 719.7 368.2C721.2 368.3 722.9 368.9 724.5 369.2C726.2 369.4 727.9 369.8 729.4 369.7C730.8 369.5 732.0 368.9 733.2 368.2C734.5 367.5 736.0 366.3 737.1 365.3C738.2 364.3 739.2 363.2 740.0 362.4C740.8 361.6 741.3 360.3 741.9 360.5C742.6 360.6 742.9 362.2 743.9 363.4C744.8 364.5 746.6 367.1 747.7 367.2C748.9 367.4 749.8 365.4 750.6 364.3C751.4 363.3 751.9 361.6 752.6 360.9C753.2 360.3 753.7 360.1 754.5 360.5C755.3 360.8 756.1 362.6 757.4 362.9C758.7 363.2 761.0 362.2 762.2 362.4C763.5 362.6 764.2 363.5 765.1 364.3C766.1 365.2 766.9 367.1 768.0 367.7C769.2 368.4 770.3 368.3 771.9 368.2C773.5 368.1 775.9 367.2 777.7 367.2C779.5 367.3 781.2 367.8 782.5 368.7C783.9 369.6 785.2 371.4 785.9 372.6C786.7 373.8 786.5 374.2 787.0 375.9C787.5 377.6 788.2 379.5 788.9 382.7C789.7 385.9 790.7 392.9 791.4 395.0C792.0 397.0 791.9 393.1 792.8 395.0C793.7 396.9 795.4 402.9 796.7 406.6C798.0 410.3 799.3 413.9 800.5 417.2C801.8 420.6 803.1 423.8 804.4 426.9C805.7 430.0 807.0 433.0 808.3 435.6C809.6 438.3 811.5 441.7 812.1 442.9"/>
<path class="bd" d="M657.8 442.9C658.3 441.8 659.6 438.6 660.7 436.6C661.8 434.6 663.1 432.3 664.6 430.8C666.0 429.2 667.6 428.4 669.4 427.4C671.2 426.3 673.4 425.7 675.2 424.5C677.0 423.3 678.4 422.0 680.1 420.1C681.7 418.3 683.3 415.6 684.9 413.4C686.5 411.1 688.1 408.3 689.7 406.6C691.3 404.9 692.9 404.1 694.6 403.2C696.2 402.4 697.9 401.8 699.4 401.6C700.9 401.3 702.1 401.7 703.3 401.8C704.4 401.9 705.2 402.5 706.2 402.2C707.1 402.0 708.1 401.5 709.1 400.3C710.0 399.1 710.8 397.0 712.0 395.0C713.1 393.0 714.5 390.4 715.8 388.5C717.1 386.6 718.4 384.8 719.7 383.7C721.0 382.6 722.3 381.9 723.6 381.7C724.9 381.6 726.2 383.2 727.4 382.7C728.7 382.2 730.0 380.5 731.3 378.8C732.6 377.2 734.0 374.7 735.2 373.0C736.3 371.4 737.1 370.2 738.1 369.2C739.0 368.1 740.0 367.3 741.0 366.8C741.9 366.2 742.7 365.5 743.9 365.8C745.0 366.0 746.5 368.2 747.7 368.2C749.0 368.2 750.5 366.4 751.6 365.8C752.7 365.2 753.4 364.4 754.5 364.8C755.6 365.2 756.9 367.0 758.4 368.2C759.8 369.4 761.8 371.1 763.2 372.1C764.7 373.0 765.8 374.0 767.1 374.0C768.4 374.0 769.7 372.3 771.0 372.1C772.2 371.8 773.4 371.8 774.8 372.6C776.3 373.4 778.2 375.1 779.6 376.9C781.1 378.8 782.3 381.4 783.5 383.7C784.7 385.9 786.2 388.6 787.0 390.4C787.8 392.3 788.1 394.2 788.5 395.0C788.8 395.7 788.2 393.1 788.9 395.0C789.7 396.9 791.5 402.9 792.8 406.6C794.1 410.3 795.2 413.5 796.7 417.2C798.1 420.9 800.0 425.5 801.5 428.8C803.0 432.2 804.2 435.2 805.4 437.6C806.5 439.9 807.8 442.0 808.3 442.9"/>
<path class="bd" d="M686.8 442.9C687.5 441.3 689.4 436.8 690.7 433.7C692.0 430.5 693.3 427.1 694.6 424.0C695.8 420.9 697.1 417.9 698.4 415.3C699.7 412.7 701.0 410.3 702.3 408.5C703.6 406.8 704.9 405.1 706.2 404.7C707.4 404.3 708.6 405.6 710.0 406.1C711.5 406.7 713.3 407.8 714.9 408.1C716.5 408.3 718.4 408.3 719.7 407.6C721.0 406.8 721.6 405.1 722.6 403.7C723.6 402.2 724.5 400.3 725.5 398.9C726.5 397.4 727.4 396.9 728.4 395.0C729.4 393.1 730.3 390.1 731.3 387.6C732.3 385.0 733.2 382.1 734.2 379.8C735.2 377.6 736.1 375.1 737.1 374.0C738.1 372.9 739.0 372.6 740.0 373.0C741.0 373.5 741.6 375.5 742.9 376.9C744.2 378.3 746.1 381.3 747.7 381.3C749.4 381.3 751.1 378.3 752.6 376.9C754.0 375.5 755.3 373.2 756.4 373.0C757.6 372.9 758.2 374.2 759.4 375.9C760.5 377.7 762.1 382.2 763.2 383.7C764.3 385.1 765.0 385.3 766.1 384.6C767.2 384.0 768.9 381.1 770.0 379.8C771.0 378.5 771.8 376.7 772.4 376.9C773.0 377.1 773.1 379.0 773.9 380.8C774.6 382.6 775.8 385.2 776.8 387.6C777.7 389.9 778.7 393.1 779.6 395.0C780.6 396.9 781.3 397.7 782.5 398.9C783.8 400.0 785.8 400.3 787.0 401.8C788.2 403.2 788.9 405.2 789.9 407.6C790.9 410.0 791.8 413.4 792.8 416.3C793.8 419.2 794.7 422.1 795.7 425.0C796.7 427.9 797.6 430.7 798.6 433.7C799.6 436.7 801.0 441.3 801.5 442.9"/>
<path class="bd" d="M693.6 442.9C694.1 441.3 695.5 436.8 696.5 433.7C697.5 430.5 698.4 427.1 699.4 424.0C700.4 420.9 701.3 417.7 702.3 415.3C703.3 412.9 704.2 411.0 705.2 409.5C706.2 408.0 707.3 406.7 708.1 406.1C708.9 405.6 709.7 406.1 710.0 406.1"/>
<path class="bd" d="M703.3 442.9C703.6 441.3 704.6 436.5 705.2 433.7C705.8 430.9 706.3 428.2 707.1 425.9C707.9 423.7 708.7 421.7 710.0 420.1C711.3 418.6 713.6 417.9 714.9 416.8C716.2 415.6 716.8 415.1 717.8 413.4C718.7 411.7 719.7 408.7 720.7 406.6C721.6 404.5 722.4 402.7 723.6 400.8C724.7 398.9 726.2 397.0 727.4 395.0C728.7 392.9 730.2 390.2 731.3 388.5C732.4 386.8 733.2 385.5 734.2 384.6C735.2 383.8 736.1 383.0 737.1 383.2C738.1 383.4 738.9 384.6 740.0 385.6C741.1 386.7 742.6 388.5 743.9 389.5C745.2 390.4 746.5 391.2 747.7 391.2C749.0 391.2 750.3 390.4 751.6 389.5C752.9 388.5 754.4 386.5 755.5 385.6C756.6 384.7 757.4 384.0 758.4 384.2C759.3 384.3 760.3 385.2 761.3 386.6C762.2 387.9 763.4 390.2 764.2 392.4C765.0 394.6 765.1 397.6 766.1 399.8C767.1 402.0 768.5 404.0 770.0 405.6C771.4 407.3 773.4 408.1 774.8 409.5C776.3 410.9 777.6 412.2 778.7 414.3C779.8 416.4 780.6 419.2 781.6 422.1C782.6 425.0 783.6 428.8 784.5 431.7C785.4 434.6 786.4 437.6 787.0 439.5C787.6 441.3 787.8 442.3 788.0 442.9"/>
<path class="bd" d="M754.5 365.3C755.0 366.6 756.4 370.5 757.4 373.0C758.4 375.6 759.3 378.4 760.3 380.8C761.3 383.2 761.9 385.2 763.2 387.6C764.5 389.9 766.8 393.0 768.0 395.0C769.3 397.0 769.7 398.4 771.0 399.8C772.2 401.3 774.3 402.2 775.8 403.7C777.2 405.2 778.5 406.4 779.6 408.5C780.8 410.6 781.6 413.2 782.5 416.3C783.5 419.3 784.7 424.3 785.5 426.9C786.2 429.5 786.4 430.1 787.0 431.7C787.6 433.4 788.3 434.7 788.9 436.6C789.6 438.4 790.5 441.8 790.9 442.9"/>
<path class="bd" d="M714.9 442.9C715.4 441.3 716.8 437.0 717.8 433.7C718.7 430.4 719.5 426.7 720.7 423.0C721.8 419.3 723.4 414.5 724.5 411.4C725.7 408.4 726.6 406.0 727.4 404.7C728.2 403.3 728.7 403.1 729.4 403.2C730.0 403.4 730.5 404.3 731.3 405.6C732.1 407.0 733.2 409.7 734.2 411.4C735.2 413.2 736.1 415.0 737.1 416.3C738.1 417.6 738.9 418.5 740.0 419.2C741.1 419.8 742.6 420.1 743.9 420.3C745.2 420.6 746.3 420.7 747.7 420.6C749.2 420.6 751.1 420.5 752.6 419.9C754.0 419.4 755.3 418.3 756.4 417.2C757.6 416.1 758.4 414.6 759.4 413.4C760.3 412.2 761.4 410.6 762.2 410.0C763.1 409.3 763.5 409.2 764.2 409.5C764.8 409.8 765.3 410.1 766.1 411.9C766.9 413.7 768.1 417.3 769.0 420.1C770.0 423.0 771.0 425.9 771.9 428.8C772.9 431.7 774.0 435.2 774.8 437.6C775.6 439.9 776.4 442.0 776.8 442.9"/>
<path class="bd" d="M716.8 442.9C717.3 441.8 718.6 439.1 719.7 436.6C720.8 434.1 722.3 430.3 723.6 427.9C724.9 425.5 726.2 423.3 727.4 422.1C728.7 420.8 730.2 420.2 731.3 420.3C732.4 420.5 733.2 421.6 734.2 423.0C735.2 424.5 736.1 427.3 737.1 428.8C738.1 430.4 739.0 432.2 740.0 432.2C741.0 432.2 741.9 430.2 742.9 428.8C743.9 427.5 745.0 425.1 745.8 424.0C746.6 423.0 747.1 422.4 747.7 422.6C748.4 422.7 748.7 423.6 749.7 425.0C750.6 426.3 752.3 430.3 753.5 430.8C754.8 431.3 756.3 429.0 757.4 427.9C758.5 426.8 759.3 424.8 760.3 424.0C761.3 423.2 762.2 422.7 763.2 423.0C764.2 423.4 765.1 424.6 766.1 425.9C767.1 427.2 768.1 429.7 769.0 430.8C770.0 431.9 771.0 430.9 771.9 432.7C772.9 434.5 774.2 439.7 774.8 441.4C775.5 443.1 775.6 442.6 775.8 442.9"/>
<path class="bd" d="M718.7 442.9C719.1 441.7 719.7 436.9 720.7 435.6C721.6 434.3 723.3 434.8 724.5 435.1C725.8 435.5 727.1 436.8 728.4 437.6C729.7 438.3 731.0 439.6 732.3 439.5C733.6 439.3 734.9 437.9 736.1 436.6C737.4 435.3 738.9 433.1 740.0 431.7C741.1 430.4 741.6 428.9 742.9 428.4C744.2 427.8 746.1 428.4 747.7 428.4C749.4 428.4 751.1 427.7 752.6 428.4C754.0 429.0 755.2 431.0 756.4 432.2C757.7 433.4 759.0 434.6 760.3 435.6C761.6 436.6 762.9 438.2 764.2 438.0C765.5 437.9 767.1 435.4 768.0 434.6C769.0 433.9 769.3 433.2 770.0 433.7C770.6 434.2 771.3 436.0 771.9 437.6C772.6 439.1 773.5 442.0 773.9 442.9"/>
<path class="bd" d="M742.9 442.9C743.7 441.9 746.1 437.1 747.7 437.1C749.4 437.1 751.8 441.9 752.6 442.9"/>
<path class="bd" d="M772.9 430.3C773.7 430.1 776.1 429.2 777.7 429.3C779.3 429.4 781.0 429.6 782.5 430.8C784.1 432.0 786.3 435.6 787.0 436.6"/>
<path class="bd" d="M947.0 442.7C947.9 441.7 950.8 438.2 952.8 436.9C954.7 435.5 956.6 434.7 958.6 434.3C960.5 434.0 962.9 434.7 964.4 434.9C965.8 435.2 966.8 435.7 967.3 435.9C967.8 434.9 968.7 431.9 970.2 430.1C971.6 428.3 974.0 425.7 976.0 425.3C977.9 424.8 979.5 426.1 981.8 427.2C984.0 428.3 988.2 431.2 989.5 432.0"/>
<path class="bd" d="M963.4 442.7C964.1 441.9 965.8 437.8 967.3 437.8C968.7 437.8 971.3 441.9 972.1 442.7"/>
</g>
<line class="tk" x1="748.0" y1="47.4" x2="748.0" y2="52.2"/>
<line class="tk" x1="748.0" y1="438.5" x2="748.0" y2="443.3"/>
<line class="tk" x1="879.6" y1="47.4" x2="879.6" y2="52.2"/>
<line class="tk" x1="879.6" y1="438.5" x2="879.6" y2="443.3"/>
<line class="tk" x1="595.6" y1="146.4" x2="600.6" y2="146.4"/>
<line class="tk" x1="984.5" y1="146.4" x2="989.5" y2="146.4"/>
<line class="tk" x1="595.6" y1="245.4" x2="600.6" y2="245.4"/>
<line class="tk" x1="984.5" y1="245.4" x2="989.5" y2="245.4"/>
<line class="tk" x1="595.6" y1="344.3" x2="600.6" y2="344.3"/>
<line class="tk" x1="984.5" y1="344.3" x2="989.5" y2="344.3"/>
<rect class="fr" x="595.6" y="47.4" width="393.9" height="395.9"/>
<text transform="translate(524.0 226.0) rotate(-90)" text-anchor="middle" font-size="33.5">Energy (eV)</text>
</g>
<g id="panel-c">
<line class="vl" x1="1273.4" y1="47.4" x2="1273.4" y2="443.3"/>
<line class="vl" x1="1405.6" y1="47.4" x2="1405.6" y2="443.3"/>
<line class="zl" x1="1121.0" y1="245.3" x2="1482.8" y2="245.3"/>
<g clip-path="url(#cp-c)">
<path class="bd" d="M1120.8 93.7C1121.9 93.9 1125.0 94.0 1127.3 94.9C1129.7 95.8 1132.2 97.5 1135.1 99.2C1138.0 100.8 1141.7 103.7 1144.7 105.0C1147.8 106.2 1150.5 107.0 1153.5 106.9C1156.4 106.7 1159.1 105.8 1162.2 104.0C1165.2 102.2 1168.6 99.0 1171.8 96.2C1175.0 93.5 1178.9 89.6 1181.5 87.5C1184.1 85.5 1185.7 84.5 1187.3 83.7C1188.9 82.9 1189.9 82.5 1191.2 82.7C1192.4 82.9 1193.4 83.0 1195.0 84.6C1196.6 86.3 1198.6 89.0 1200.8 92.4C1203.1 95.8 1206.0 100.4 1208.6 105.0C1211.1 109.5 1213.7 114.6 1216.3 119.5C1218.9 124.3 1221.9 129.7 1224.0 134.0C1226.2 138.2 1227.3 140.9 1229.2 145.0C1231.2 149.1 1233.3 153.7 1235.6 158.5C1238.0 163.4 1240.8 168.9 1243.4 174.0C1245.9 179.2 1248.5 184.0 1251.1 189.5C1253.7 195.0 1256.4 201.4 1258.8 206.9C1261.3 212.4 1263.7 218.0 1265.6 222.3C1267.5 226.7 1269.2 230.5 1270.4 233.0C1271.7 235.5 1272.4 237.2 1273.3 237.2C1274.3 237.2 1275.1 235.5 1276.2 233.0C1277.4 230.5 1278.8 226.1 1280.1 222.3C1281.4 218.6 1282.5 214.6 1284.0 210.8C1285.4 206.9 1287.0 202.7 1288.8 199.2C1290.6 195.6 1292.5 192.7 1294.6 189.5C1296.7 186.3 1299.0 183.2 1301.4 179.8C1303.8 176.4 1306.5 173.0 1309.1 169.2C1311.7 165.3 1314.6 160.6 1316.9 156.6C1319.1 152.6 1321.0 148.5 1322.7 145.0C1324.3 141.5 1325.3 138.9 1327.0 135.6C1328.7 132.3 1330.8 128.2 1332.8 125.0C1334.7 121.7 1336.6 118.7 1338.6 116.3C1340.5 113.9 1342.4 112.0 1344.4 110.5C1346.3 108.9 1348.2 107.8 1350.2 107.1C1352.1 106.4 1354.0 106.0 1356.0 106.1C1357.9 106.2 1359.8 106.8 1361.8 107.6C1363.7 108.4 1365.7 109.7 1367.6 111.0C1369.5 112.2 1370.8 113.6 1373.0 114.8C1375.2 116.1 1378.1 116.9 1380.7 118.5C1383.2 120.1 1385.8 122.6 1388.4 124.3C1391.0 126.0 1393.9 127.6 1396.2 128.5C1398.4 129.5 1400.4 129.8 1402.0 130.1C1403.5 130.4 1404.1 130.8 1405.4 130.5C1406.7 130.2 1408.3 129.5 1409.7 128.2C1411.0 126.8 1412.3 124.6 1413.5 122.3C1414.8 120.1 1416.1 117.8 1417.4 114.6C1418.7 111.4 1420.0 107.5 1421.3 103.0C1422.6 98.5 1424.0 91.6 1425.2 87.5C1426.3 83.5 1427.2 80.7 1428.1 78.8C1429.0 77.0 1429.6 76.4 1430.6 76.3C1431.5 76.2 1432.5 77.2 1433.9 78.3C1435.2 79.3 1436.6 81.2 1438.7 82.7C1440.8 84.3 1443.5 85.9 1446.4 87.5C1449.3 89.2 1452.9 91.2 1456.1 92.4C1459.3 93.6 1462.5 94.6 1465.8 94.9C1469.0 95.2 1472.7 94.5 1475.4 94.3C1478.2 94.1 1481.1 93.8 1482.2 93.7"/>
<path class="bd" d="M1174.3 45.0C1174.6 45.4 1174.8 46.1 1175.7 47.3C1176.6 48.5 1178.4 50.5 1179.9 52.4C1181.5 54.2 1183.2 56.5 1184.8 58.5C1186.5 60.5 1188.1 62.7 1189.7 64.3C1191.3 66.0 1192.7 67.3 1194.5 68.2C1196.3 69.1 1198.2 69.4 1200.3 70.0C1202.4 70.5 1205.0 70.9 1207.1 71.6C1209.2 72.3 1211.1 73.0 1212.9 74.0C1214.7 75.0 1216.3 76.2 1217.7 77.4C1219.2 78.6 1220.3 79.7 1221.6 81.3C1222.9 82.8 1224.3 84.7 1225.5 86.6C1226.6 88.4 1227.6 91.0 1228.3 92.4C1229.1 93.8 1229.0 92.8 1229.8 95.0C1230.6 97.2 1232.0 101.8 1233.2 105.6C1234.4 109.5 1235.8 114.0 1237.0 118.2C1238.3 122.4 1239.6 126.8 1240.9 130.8C1242.2 134.8 1243.4 138.4 1244.8 142.4C1246.2 146.4 1247.5 151.2 1249.2 154.7C1250.9 158.2 1253.0 160.6 1255.0 163.4C1256.9 166.1 1259.0 168.5 1260.8 171.1C1262.6 173.7 1264.2 176.7 1265.6 178.8C1267.1 180.9 1268.2 182.6 1269.5 183.7C1270.8 184.7 1271.9 185.4 1273.3 185.2C1274.8 185.1 1276.6 184.1 1278.2 182.7C1279.8 181.3 1281.4 178.8 1283.0 176.9C1284.6 175.0 1286.1 173.0 1287.8 171.1C1289.6 169.2 1291.9 167.4 1293.7 165.3C1295.4 163.2 1297.0 161.0 1298.5 158.5C1299.9 156.1 1301.2 153.1 1302.3 150.8C1303.5 148.5 1304.4 148.0 1305.2 145.0C1306.1 142.0 1306.6 137.0 1307.6 132.7C1308.7 128.4 1310.2 123.7 1311.5 119.2C1312.8 114.7 1314.2 109.7 1315.4 105.6C1316.6 101.6 1317.8 98.2 1318.8 95.0C1319.7 91.8 1320.1 89.4 1321.2 86.6C1322.2 83.7 1323.6 80.6 1325.0 77.9C1326.5 75.1 1328.1 72.4 1329.9 70.1C1331.6 67.9 1333.6 66.0 1335.7 64.3C1337.8 62.7 1340.2 61.6 1342.4 60.5C1344.7 59.3 1347.0 58.2 1349.2 57.6C1351.5 56.9 1354.0 56.7 1356.0 56.6C1357.9 56.5 1359.2 56.6 1360.8 57.1C1362.4 57.6 1364.2 58.5 1365.7 59.5C1367.1 60.5 1368.3 61.8 1369.5 62.9C1370.7 63.9 1371.1 63.8 1373.0 65.8C1374.9 67.8 1378.1 71.8 1380.7 75.0C1383.2 78.1 1385.8 81.7 1388.4 84.6C1391.0 87.5 1393.9 90.4 1396.2 92.4C1398.4 94.3 1400.2 95.6 1402.0 96.2C1403.7 96.9 1405.2 97.1 1406.8 96.4C1408.4 95.8 1409.8 94.8 1411.6 92.4C1413.4 89.9 1415.6 85.1 1417.4 81.7C1419.2 78.4 1420.8 74.3 1422.2 72.1C1423.7 69.8 1425.5 68.9 1426.1 68.2C1426.6 67.2 1428.1 64.7 1429.0 62.4C1430.0 60.1 1431.1 57.2 1431.9 54.7C1432.7 52.2 1433.4 48.9 1433.9 47.3C1434.3 45.7 1434.3 45.4 1434.4 45.0"/>
<path class="bd" d="M1210.9 45.0C1211.1 45.4 1211.1 45.5 1211.9 47.1C1212.7 48.7 1214.5 52.1 1215.8 54.7C1217.1 57.2 1218.4 59.8 1219.6 62.4C1220.9 65.0 1222.2 67.7 1223.5 70.1C1224.8 72.6 1226.1 74.9 1227.4 76.9C1228.7 78.9 1230.0 80.6 1231.2 82.2C1232.5 83.8 1233.8 85.2 1235.1 86.6C1236.4 88.0 1237.7 89.0 1239.0 90.5C1240.3 91.9 1241.6 93.1 1242.8 95.0C1244.1 96.9 1245.4 99.4 1246.7 101.8C1248.0 104.2 1249.3 106.8 1250.6 109.5C1251.9 112.2 1253.2 115.6 1254.5 118.2C1255.7 120.8 1257.0 123.0 1258.3 125.0C1259.6 126.9 1260.7 128.4 1262.2 129.8C1263.6 131.2 1265.2 132.4 1267.0 133.2C1268.9 134.0 1271.4 134.8 1273.3 134.8C1275.2 134.9 1277.1 134.4 1278.6 133.7C1280.2 133.0 1281.2 132.2 1282.5 130.8C1283.8 129.3 1285.2 127.2 1286.4 125.0C1287.5 122.7 1288.3 120.1 1289.3 117.2C1290.2 114.3 1291.2 110.6 1292.2 107.6C1293.1 104.5 1294.4 101.0 1295.1 98.9C1295.7 96.8 1295.6 96.6 1296.0 95.0C1296.4 93.4 1296.8 91.8 1297.5 89.5C1298.1 87.1 1299.0 83.8 1299.9 80.8C1300.8 77.7 1301.7 74.3 1302.8 71.1C1303.9 67.9 1305.2 64.5 1306.7 61.4C1308.1 58.4 1310.0 55.1 1311.5 52.7C1313.0 50.4 1314.5 48.4 1315.4 47.1C1316.3 45.8 1316.6 45.4 1316.8 45.0"/>
<clipPath id="tc-c-2-1296"><rect x="1296.0" y="47.4" width="34.0" height="395.9"/></clipPath>
<path class="bd tkc" clip-path="url(#tc-c-2-1296)" d="M1210.9 45.0C1211.1 45.4 1211.1 45.5 1211.9 47.1C1212.7 48.7 1214.5 52.1 1215.8 54.7C1217.1 57.2 1218.4 59.8 1219.6 62.4C1220.9 65.0 1222.2 67.7 1223.5 70.1C1224.8 72.6 1226.1 74.9 1227.4 76.9C1228.7 78.9 1230.0 80.6 1231.2 82.2C1232.5 83.8 1233.8 85.2 1235.1 86.6C1236.4 88.0 1237.7 89.0 1239.0 90.5C1240.3 91.9 1241.6 93.1 1242.8 95.0C1244.1 96.9 1245.4 99.4 1246.7 101.8C1248.0 104.2 1249.3 106.8 1250.6 109.5C1251.9 112.2 1253.2 115.6 1254.5 118.2C1255.7 120.8 1257.0 123.0 1258.3 125.0C1259.6 126.9 1260.7 128.4 1262.2 129.8C1263.6 131.2 1265.2 132.4 1267.0 133.2C1268.9 134.0 1271.4 134.8 1273.3 134.8C1275.2 134.9 1277.1 134.4 1278.6 133.7C1280.2 133.0 1281.2 132.2 1282.5 130.8C1283.8 129.3 1285.2 127.2 1286.4 125.0C1287.5 122.7 1288.3 120.1 1289.3 117.2C1290.2 114.3 1291.2 110.6 1292.2 107.6C1293.1 104.5 1294.4 101.0 1295.1 98.9C1295.7 96.8 1295.6 96.6 1296.0 95.0C1296.4 93.4 1296.8 91.8 1297.5 89.5C1298.1 87.1 1299.0 83.8 1299.9 80.8C1300.8 77.7 1301.7 74.3 1302.8 71.1C1303.9 67.9 1305.2 64.5 1306.7 61.4C1308.1 58.4 1310.0 55.1 1311.5 52.7C1313.0 50.4 1314.5 48.4 1315.4 47.1C1316.3 45.8 1316.6 45.4 1316.8 45.0"/>
<path class="bd" d="M1229.5 45.0C1229.6 45.4 1229.7 45.5 1230.3 47.1C1230.9 48.7 1232.2 52.0 1233.2 54.7C1234.1 57.4 1235.1 60.5 1236.1 63.4C1237.0 66.3 1238.0 69.2 1239.0 72.1C1239.9 75.0 1240.9 77.9 1241.9 80.8C1242.8 83.7 1244.0 87.1 1244.8 89.5C1245.6 91.9 1245.9 92.6 1246.7 95.0C1247.5 97.4 1248.7 100.6 1249.6 103.7C1250.6 106.8 1251.6 110.0 1252.5 113.4C1253.5 116.8 1254.5 120.6 1255.4 124.0C1256.4 127.4 1257.4 130.5 1258.3 133.7C1259.3 136.9 1260.7 141.5 1261.2 143.3C1261.8 145.2 1261.0 143.4 1261.7 145.0C1262.5 146.6 1264.3 150.4 1265.6 152.7C1266.9 155.1 1268.2 157.4 1269.5 158.9C1270.8 160.4 1272.1 161.7 1273.3 161.8C1274.6 161.9 1275.9 160.9 1277.2 159.5C1278.5 158.1 1279.8 156.1 1281.1 153.7C1282.4 151.3 1283.9 147.2 1285.0 145.0C1286.0 142.8 1286.3 143.0 1287.3 140.4C1288.4 137.9 1289.8 133.8 1291.2 129.8C1292.7 125.8 1294.4 120.6 1296.0 116.3C1297.6 111.9 1299.4 107.2 1300.9 103.7C1302.3 100.2 1303.3 98.2 1304.7 95.0C1306.2 91.8 1308.0 88.0 1309.6 84.6C1311.2 81.3 1312.6 78.4 1314.4 75.0C1316.2 71.6 1318.3 67.7 1320.2 64.3C1322.1 61.0 1324.2 57.5 1326.0 54.7C1327.8 51.8 1329.8 48.7 1330.8 47.1C1331.9 45.5 1332.0 45.4 1332.3 45.0"/>
<path class="bd" d="M1238.5 45.0C1238.7 45.4 1238.7 45.5 1239.5 47.1C1240.2 48.7 1241.6 52.0 1242.8 54.7C1244.1 57.4 1245.4 60.6 1246.7 63.4C1248.0 66.1 1249.1 68.5 1250.6 71.1C1252.0 73.7 1253.8 76.5 1255.4 78.8C1257.0 81.2 1258.6 83.3 1260.3 85.1C1261.9 87.0 1263.6 88.8 1265.1 90.0C1266.5 91.2 1267.6 91.8 1269.0 92.4C1270.3 92.9 1271.9 93.3 1273.3 93.3C1274.8 93.3 1276.3 92.9 1277.7 92.4C1279.0 91.8 1280.1 91.2 1281.5 90.0C1283.0 88.7 1284.7 86.7 1286.4 84.6C1288.0 82.6 1289.6 80.3 1291.2 77.9C1292.8 75.5 1294.6 72.9 1296.0 70.1C1297.5 67.4 1298.8 64.0 1299.9 61.4C1301.0 58.9 1301.8 57.1 1302.8 54.7C1303.8 52.3 1305.1 48.7 1305.7 47.1C1306.3 45.5 1306.3 45.4 1306.5 45.0"/>
<path class="bd" d="M1361.3 46.5C1362.3 46.8 1364.9 47.9 1367.1 48.3C1369.4 48.7 1372.3 49.0 1374.9 49.1C1377.4 49.2 1379.7 49.0 1382.6 48.9C1385.5 48.7 1389.1 48.5 1392.3 48.3C1395.5 48.1 1398.9 48.1 1402.0 47.9C1405.0 47.7 1409.2 47.1 1410.7 46.9"/>
<path class="bd" d="M1363.3 46.5C1364.2 46.8 1366.8 47.6 1369.1 47.9C1371.3 48.2 1374.2 48.4 1376.8 48.5C1379.4 48.5 1381.6 48.4 1384.5 48.3C1387.4 48.2 1391.0 47.9 1394.2 47.7C1397.4 47.5 1401.3 47.5 1403.9 47.3C1406.5 47.1 1408.7 46.7 1409.7 46.5"/>
<path class="bd" d="M1120.8 367.2C1121.9 365.9 1125.3 362.1 1127.3 359.5C1129.4 356.9 1131.4 354.2 1133.1 351.8C1134.9 349.3 1135.7 347.6 1138.0 345.0C1140.2 342.3 1143.3 339.0 1146.7 335.9C1150.1 332.8 1154.4 329.3 1158.3 326.2C1162.1 323.2 1166.0 320.3 1169.9 317.5C1173.7 314.8 1177.6 312.2 1181.5 309.8C1185.4 307.4 1189.2 304.6 1193.1 303.0C1197.0 301.4 1201.1 300.5 1204.7 300.1C1208.2 299.7 1211.1 300.2 1214.4 300.7C1217.6 301.2 1221.1 302.4 1224.0 303.0C1226.9 303.6 1229.7 304.7 1231.8 304.4C1233.9 304.0 1235.0 302.9 1236.6 301.1C1238.2 299.2 1239.7 296.6 1241.4 293.4C1243.2 290.1 1245.3 285.4 1247.2 281.7C1249.2 278.0 1251.1 274.3 1253.0 271.1C1255.0 267.9 1256.9 264.9 1258.8 262.4C1260.8 259.9 1262.2 257.6 1264.6 256.2C1267.1 254.8 1270.9 254.0 1273.3 254.1C1275.8 254.2 1277.4 255.4 1279.2 257.0C1280.9 258.5 1282.4 261.0 1284.0 263.4C1285.6 265.7 1287.4 269.3 1288.8 271.1C1290.3 272.9 1291.2 273.3 1292.7 274.0C1294.1 274.8 1295.9 274.6 1297.5 275.6C1299.1 276.5 1300.7 277.8 1302.3 279.8C1304.0 281.8 1305.4 284.5 1307.2 287.6C1309.0 290.6 1311.1 295.0 1313.0 298.2C1314.9 301.4 1316.9 304.3 1318.8 306.9C1320.7 309.5 1322.3 311.7 1324.6 313.6C1326.8 315.6 1329.8 317.0 1332.3 318.5C1334.9 319.9 1337.2 320.7 1340.1 322.4C1343.0 324.0 1346.5 326.1 1349.7 328.2C1353.0 330.3 1356.5 332.8 1359.4 334.9C1362.3 337.0 1364.7 339.1 1367.1 340.7C1369.6 342.4 1371.3 343.3 1373.9 345.0C1376.5 346.7 1379.5 349.1 1382.6 350.8C1385.7 352.5 1389.4 354.0 1392.3 355.1C1395.2 356.1 1397.8 356.6 1400.0 357.0C1402.3 357.4 1403.9 357.2 1405.8 357.6C1407.8 357.9 1409.7 358.2 1411.6 358.9C1413.6 359.7 1415.5 361.1 1417.4 362.0C1419.4 362.9 1421.4 364.0 1423.2 364.3C1425.0 364.7 1426.4 364.6 1428.1 363.9C1429.7 363.3 1431.1 362.2 1432.9 360.5C1434.7 358.8 1436.8 356.3 1438.7 353.7C1440.6 351.1 1442.6 347.6 1444.5 345.0C1446.4 342.3 1448.4 339.6 1450.3 337.8C1452.2 336.1 1454.2 334.5 1456.1 334.5C1458.0 334.5 1460.0 336.1 1461.9 337.8C1463.8 339.6 1465.9 342.3 1467.7 345.0C1469.5 347.6 1470.9 350.8 1472.5 353.7C1474.1 356.6 1475.8 360.1 1477.4 362.4C1479.0 364.7 1481.4 366.4 1482.2 367.2"/>
<path class="bd" d="M1120.8 381.7C1121.9 382.7 1125.0 386.1 1127.3 387.6C1129.7 389.0 1132.5 390.1 1135.1 390.4C1137.6 390.8 1139.9 390.3 1142.8 389.5C1145.7 388.7 1148.9 387.2 1152.5 385.6C1156.0 384.0 1160.2 381.7 1164.1 379.8C1167.9 377.9 1171.8 376.2 1175.7 374.4C1179.6 372.6 1183.7 371.2 1187.3 369.2C1190.8 367.2 1194.1 364.8 1197.0 362.4C1199.9 360.0 1202.4 357.2 1204.7 354.7C1206.9 352.1 1209.2 348.5 1210.5 346.9C1211.8 345.3 1211.1 347.1 1212.4 345.0C1213.7 342.8 1216.3 337.4 1218.2 334.0C1220.2 330.5 1222.1 327.4 1224.0 324.3C1226.0 321.2 1228.1 317.6 1229.8 315.6C1231.6 313.6 1232.7 313.1 1234.7 312.3C1236.6 311.5 1239.3 311.5 1241.4 310.8C1243.5 310.0 1245.5 308.6 1247.2 307.9C1249.0 307.1 1250.6 306.0 1252.1 306.3C1253.5 306.6 1254.7 307.9 1255.9 309.8C1257.2 311.6 1258.4 315.3 1259.8 317.5C1261.3 319.8 1262.4 322.5 1264.6 323.3C1266.9 324.1 1270.6 322.4 1273.3 322.4C1276.1 322.4 1279.1 323.8 1281.1 323.3C1283.0 322.8 1283.7 321.2 1285.0 319.4C1286.2 317.7 1287.7 314.0 1288.8 312.7C1289.9 311.3 1290.3 311.3 1291.7 311.3C1293.2 311.3 1295.6 312.6 1297.5 312.7C1299.5 312.8 1301.4 311.1 1303.3 311.7C1305.3 312.4 1307.2 314.1 1309.1 316.6C1311.1 319.0 1313.0 323.0 1314.9 326.2C1316.9 329.4 1318.8 332.8 1320.7 335.9C1322.7 339.0 1324.6 341.9 1326.5 345.0C1328.5 348.1 1330.1 351.3 1332.3 354.7C1334.6 358.1 1337.5 362.1 1340.1 365.3C1342.6 368.5 1345.2 371.4 1347.8 374.0C1350.4 376.6 1352.6 378.6 1355.5 380.8C1358.4 383.0 1362.0 385.4 1365.2 387.2C1368.4 388.9 1371.6 390.2 1374.9 391.4C1378.1 392.6 1381.0 393.6 1384.5 394.3C1388.1 395.1 1392.6 395.5 1396.2 395.9C1399.7 396.2 1403.4 395.9 1405.8 396.2C1408.2 396.6 1408.7 396.9 1410.7 398.2C1412.6 399.5 1415.3 402.5 1417.4 404.0C1419.5 405.4 1421.3 405.9 1423.2 406.9C1425.2 407.8 1427.1 408.5 1429.0 409.8C1431.0 411.1 1432.9 413.3 1434.8 414.6C1436.8 415.9 1438.4 417.0 1440.6 417.5C1442.9 418.1 1445.8 418.2 1448.4 417.9C1450.9 417.6 1453.8 416.8 1456.1 415.6C1458.4 414.4 1460.0 413.0 1461.9 410.8C1463.8 408.5 1465.8 405.1 1467.7 402.1C1469.6 399.0 1471.7 395.3 1473.5 392.4C1475.3 389.5 1476.9 386.4 1478.3 384.6C1479.8 382.9 1481.6 382.2 1482.2 381.7"/>
<path class="bd" d="M1162.2 443.1C1163.8 442.3 1168.6 440.3 1171.8 438.8C1175.0 437.3 1178.9 436.1 1181.5 434.0C1184.1 431.9 1185.4 430.1 1187.3 426.2C1189.2 422.4 1191.2 415.9 1193.1 410.8C1195.0 405.6 1197.0 400.0 1198.9 395.3C1200.8 390.6 1202.8 386.6 1204.7 382.7C1206.6 378.8 1208.2 375.8 1210.5 372.1C1212.7 368.4 1215.7 364.2 1218.2 360.5C1220.8 356.8 1224.2 352.4 1226.0 349.8C1227.7 347.2 1227.6 347.6 1228.9 345.0C1230.2 342.3 1232.1 337.6 1233.7 334.0C1235.3 330.3 1236.9 325.6 1238.5 323.3C1240.2 321.1 1241.9 320.4 1243.4 320.4C1244.8 320.4 1245.8 321.4 1247.2 323.3C1248.7 325.3 1250.5 328.4 1252.1 332.0C1253.7 335.6 1255.5 342.0 1256.9 345.0C1258.4 347.9 1259.3 349.2 1260.8 349.8C1262.2 350.4 1264.2 349.3 1265.6 348.5C1267.1 347.7 1268.2 345.9 1269.5 345.0C1270.8 344.1 1272.2 343.2 1273.3 343.2C1274.5 343.2 1275.5 344.0 1276.6 345.0C1277.8 346.0 1278.9 349.2 1280.1 349.2C1281.3 349.2 1282.6 345.7 1283.6 345.0C1284.6 344.3 1284.7 346.8 1285.9 345.0C1287.1 343.1 1289.1 336.8 1290.8 334.0C1292.4 331.1 1294.0 328.1 1295.6 327.8C1297.2 327.4 1298.5 329.9 1300.4 332.0C1302.4 334.2 1305.1 338.6 1307.2 340.7C1309.3 342.9 1311.1 342.7 1313.0 345.0C1314.9 347.3 1316.9 350.8 1318.8 354.7C1320.7 358.5 1322.7 363.4 1324.6 368.2C1326.5 373.0 1328.5 378.2 1330.4 383.7C1332.3 389.2 1334.3 395.6 1336.2 401.1C1338.1 406.6 1340.1 412.0 1342.0 416.6C1343.9 421.1 1345.5 424.9 1347.8 428.2C1350.1 431.4 1353.0 433.8 1355.5 435.9C1358.1 438.0 1361.0 439.5 1363.3 440.7C1365.5 441.9 1368.1 442.7 1369.1 443.1"/>
<path class="bd" d="M1182.5 443.1C1183.6 441.2 1186.8 435.8 1189.2 432.0C1191.6 428.2 1194.1 424.6 1197.0 420.4C1199.9 416.2 1203.4 411.4 1206.6 406.9C1209.9 402.4 1213.4 397.5 1216.3 393.4C1219.2 389.2 1221.5 385.6 1224.0 381.7C1226.6 377.9 1229.5 373.2 1231.8 370.1C1234.0 367.1 1236.0 364.8 1237.6 363.4C1239.2 361.9 1240.2 361.4 1241.4 361.4C1242.7 361.4 1243.5 362.5 1245.3 363.4C1247.1 364.2 1250.3 366.8 1252.1 366.7C1253.8 366.5 1254.7 364.2 1255.9 362.4C1257.2 360.6 1258.7 356.3 1259.8 355.6C1260.9 354.9 1261.6 357.5 1262.7 358.1C1263.8 358.8 1264.8 359.3 1266.6 359.5C1268.4 359.7 1271.3 359.6 1273.3 359.5C1275.4 359.4 1277.7 359.1 1279.2 358.9C1280.6 358.7 1281.1 358.0 1282.0 358.1C1283.0 358.3 1283.5 359.9 1285.0 360.1C1286.4 360.2 1288.7 359.1 1290.8 359.1C1292.8 359.2 1295.4 359.8 1297.5 360.5C1299.6 361.2 1301.4 361.8 1303.3 363.4C1305.3 365.0 1307.5 367.6 1309.1 370.1C1310.7 372.7 1311.7 375.6 1313.0 378.8C1314.3 382.1 1315.2 385.1 1316.9 389.5C1318.5 393.8 1320.7 399.8 1322.7 404.9C1324.6 410.1 1326.5 415.6 1328.5 420.4C1330.4 425.3 1332.3 430.2 1334.3 434.0C1336.2 437.7 1339.1 441.5 1340.1 443.1"/>
<path class="bd" d="M1208.6 443.1C1209.8 441.1 1213.7 435.2 1216.3 431.1C1218.9 427.0 1221.5 422.5 1224.0 418.5C1226.6 414.5 1229.2 410.7 1231.8 406.9C1234.3 403.0 1236.9 399.0 1239.5 395.3C1242.1 391.6 1244.7 387.7 1247.2 384.6C1249.8 381.6 1252.7 378.8 1255.0 376.9C1257.2 375.0 1259.2 374.7 1260.8 373.0C1262.4 371.4 1263.4 368.6 1264.6 367.2C1265.9 365.9 1267.1 365.1 1268.5 364.9C1270.0 364.7 1271.7 366.0 1273.3 365.9C1275.0 365.8 1276.7 364.1 1278.2 364.3C1279.6 364.6 1280.8 365.6 1282.0 367.2C1283.3 368.9 1284.5 371.9 1285.9 374.0C1287.4 376.1 1289.1 379.3 1290.8 379.8C1292.4 380.3 1294.1 377.5 1295.6 376.9C1297.0 376.4 1298.2 375.7 1299.5 376.5C1300.7 377.3 1301.7 378.9 1303.3 381.7C1304.9 384.5 1307.2 389.5 1309.1 393.4C1311.1 397.2 1313.0 400.8 1314.9 404.9C1316.9 409.1 1319.0 414.0 1320.7 418.5C1322.5 423.0 1324.1 427.9 1325.6 432.0C1327.0 436.1 1328.8 441.2 1329.4 443.1"/>
<path class="bd" d="M1226.9 443.1C1228.1 440.9 1231.3 434.2 1233.7 430.1C1236.1 426.0 1239.2 423.0 1241.4 418.5C1243.7 414.0 1245.5 407.2 1247.2 403.0C1249.0 398.8 1250.5 395.6 1252.1 393.4C1253.7 391.1 1255.5 391.6 1256.9 389.5C1258.4 387.4 1259.7 382.8 1260.8 380.8C1261.9 378.8 1262.6 377.5 1263.7 377.5C1264.8 377.5 1265.9 379.6 1267.5 380.8C1269.2 382.0 1271.4 384.8 1273.3 384.6C1275.3 384.5 1277.5 381.0 1279.2 379.8C1280.8 378.6 1281.7 376.8 1283.0 377.5C1284.3 378.1 1285.4 380.7 1286.9 383.7C1288.3 386.6 1289.9 391.7 1291.7 395.3C1293.5 398.8 1295.6 402.0 1297.5 404.9C1299.5 407.9 1301.5 409.8 1303.3 412.7C1305.1 415.6 1306.5 419.0 1308.2 422.4C1309.8 425.7 1311.4 429.5 1313.0 433.0C1314.6 436.4 1317.0 441.4 1317.8 443.1"/>
<path class="bd" d="M1240.5 443.1C1241.0 441.2 1242.2 435.1 1243.4 432.0C1244.5 428.9 1245.8 426.9 1247.2 424.3C1248.7 421.7 1250.5 419.1 1252.1 416.6C1253.7 414.0 1255.5 409.7 1256.9 409.2C1258.4 408.7 1259.2 411.8 1260.8 413.6C1262.4 415.5 1264.5 418.6 1266.6 420.4C1268.7 422.2 1271.1 424.1 1273.3 424.3C1275.6 424.5 1278.0 423.0 1280.1 421.4C1282.2 419.8 1284.3 416.1 1285.9 414.6C1287.5 413.1 1288.5 412.0 1289.8 412.3C1291.1 412.6 1292.2 414.2 1293.7 416.6C1295.1 418.9 1296.9 423.3 1298.5 426.2C1300.1 429.1 1301.5 431.4 1303.3 434.0C1305.1 436.5 1308.0 440.2 1309.1 441.7C1310.2 443.2 1309.9 442.8 1310.1 443.1"/>
<path class="bd" d="M1245.3 443.1C1245.9 442.0 1247.9 438.2 1249.2 436.9C1250.5 435.5 1251.4 435.1 1253.0 434.9C1254.7 434.8 1256.9 435.6 1258.8 435.9C1260.8 436.2 1262.9 437.3 1264.6 436.9C1266.4 436.4 1268.0 434.4 1269.5 433.0C1270.9 431.5 1272.7 429.0 1273.3 428.2C1273.8 428.8 1275.0 430.2 1276.2 432.0C1277.5 433.8 1279.5 437.3 1281.1 438.8C1282.7 440.2 1284.1 440.6 1285.9 440.7C1287.7 440.8 1290.1 439.4 1291.7 439.4C1293.3 439.4 1294.6 440.1 1295.6 440.7C1296.6 441.3 1297.2 442.7 1297.5 443.1"/>
<path class="bd" d="M1436.8 443.6C1438.0 443.0 1441.9 440.1 1444.5 439.8C1447.1 439.4 1450.1 441.0 1452.2 441.7C1454.3 442.3 1456.3 443.3 1457.1 443.6"/>
</g>
<line class="tk" x1="1273.4" y1="47.4" x2="1273.4" y2="52.2"/>
<line class="tk" x1="1273.4" y1="438.5" x2="1273.4" y2="443.3"/>
<line class="tk" x1="1405.6" y1="47.4" x2="1405.6" y2="52.2"/>
<line class="tk" x1="1405.6" y1="438.5" x2="1405.6" y2="443.3"/>
<line class="tk" x1="1121.0" y1="146.4" x2="1126.0" y2="146.4"/>
<line class="tk" x1="1477.8" y1="146.4" x2="1482.8" y2="146.4"/>
<line class="tk" x1="1121.0" y1="245.4" x2="1126.0" y2="245.4"/>
<line class="tk" x1="1477.8" y1="245.4" x2="1482.8" y2="245.4"/>
<line class="tk" x1="1121.0" y1="344.3" x2="1126.0" y2="344.3"/>
<line class="tk" x1="1477.8" y1="344.3" x2="1482.8" y2="344.3"/>
<rect class="fr" x="1121.0" y="47.4" width="361.8" height="395.9"/>
<text transform="translate(1057.6 226.0) rotate(-90)" text-anchor="middle" font-size="33.5">Energy (eV)</text>
</g>
<g id="panel-d">
<line class="vl" x1="1776.6" y1="47.4" x2="1776.6" y2="443.3"/>
<line class="vl" x1="1908.8" y1="47.4" x2="1908.8" y2="443.3"/>
<line class="zl" x1="1624.4" y1="245.3" x2="1985.3" y2="245.3"/>
<g clip-path="url(#cp-d)">
<path class="bd dn" d="M1624.3 323.3C1625.1 323.4 1630.7 324.3 1632.5 324.5C1634.3 324.7 1640.2 325.4 1642.2 325.5C1644.1 325.5 1649.9 325.3 1651.8 325.2C1653.8 325.0 1659.6 324.4 1661.5 324.0C1663.4 323.7 1669.3 322.2 1671.2 321.6C1673.0 321.0 1678.2 319.0 1679.9 318.2C1681.5 317.4 1686.1 314.8 1687.6 313.9C1689.2 312.9 1693.9 309.7 1695.3 308.5C1696.8 307.4 1700.9 303.5 1702.1 302.2C1703.4 301.0 1707.0 297.1 1707.9 296.0C1708.9 294.8 1710.6 292.0 1711.6 290.8C1712.5 289.7 1715.8 286.0 1717.4 284.6C1718.9 283.2 1725.1 278.1 1727.0 276.9C1729.0 275.8 1735.0 273.7 1736.7 273.0C1738.4 272.4 1742.9 271.4 1744.4 270.7C1746.0 270.0 1750.4 267.5 1752.2 266.3C1753.9 265.1 1760.1 259.9 1761.8 258.5C1763.6 257.2 1768.1 253.9 1769.6 252.7C1771.0 251.5 1775.7 247.2 1776.3 246.6C1777.0 247.2 1781.7 251.4 1783.1 252.7C1784.6 254.0 1789.3 258.1 1790.8 259.5C1792.4 260.9 1797.0 264.6 1798.6 266.3C1800.1 267.9 1804.8 274.1 1806.3 275.9C1807.9 277.8 1812.7 283.2 1814.1 284.6C1815.4 286.1 1818.8 289.4 1819.9 290.4C1820.9 291.5 1823.1 294.1 1824.3 295.0C1825.5 295.9 1830.5 298.6 1832.0 299.4C1833.6 300.1 1838.3 302.3 1839.8 302.7C1841.2 303.2 1845.1 304.1 1846.5 304.2C1848.0 304.2 1852.5 303.5 1854.3 303.2C1856.0 302.9 1861.8 301.6 1864.0 301.3C1866.1 301.0 1873.2 300.1 1875.5 299.8C1877.9 299.6 1884.8 299.0 1887.2 298.9C1889.5 298.7 1896.6 298.4 1898.8 298.4C1900.9 298.3 1907.4 298.2 1908.9 298.4C1910.5 298.5 1913.1 299.2 1914.2 299.8C1915.3 300.5 1918.8 303.6 1920.0 304.7C1921.3 305.7 1925.4 309.4 1926.8 310.5C1928.2 311.5 1932.1 314.5 1933.6 315.3C1935.0 316.1 1939.6 318.1 1941.3 318.7C1943.0 319.3 1949.0 320.7 1951.0 321.1C1952.9 321.5 1958.5 322.8 1960.6 323.0C1962.8 323.3 1969.8 323.8 1972.2 323.8C1974.7 323.9 1984.3 323.5 1985.6 323.5"/>
<path class="bd dn" d="M1624.3 334.4C1625.1 334.4 1630.7 333.7 1632.5 333.5C1634.3 333.3 1640.2 332.5 1642.2 332.2C1644.1 331.9 1649.9 331.0 1651.8 330.6C1653.8 330.2 1659.7 328.9 1661.5 328.4C1663.3 327.8 1668.6 325.7 1670.2 325.0C1671.9 324.2 1676.4 321.6 1678.0 320.6C1679.5 319.7 1684.1 316.4 1685.7 315.3C1687.2 314.2 1692.0 310.7 1693.4 309.5C1694.9 308.3 1698.9 304.9 1700.2 303.7C1701.4 302.5 1705.0 298.5 1706.0 297.4C1707.0 296.4 1709.4 294.5 1710.6 293.4C1711.8 292.2 1716.1 287.2 1717.8 285.6C1719.4 284.1 1725.5 279.0 1727.4 277.9C1729.4 276.7 1735.3 274.6 1737.1 274.0C1738.8 273.4 1743.3 272.4 1744.8 271.7C1746.4 271.0 1750.8 268.5 1752.6 267.2C1754.3 266.0 1760.5 260.9 1762.2 259.5C1764.0 258.1 1768.5 254.9 1770.0 253.7C1771.4 252.5 1775.7 248.0 1776.3 247.3C1777.0 248.0 1781.3 252.3 1782.7 253.7C1784.1 255.1 1788.9 259.4 1790.5 260.9C1792.0 262.3 1796.7 266.2 1798.2 267.8C1799.7 269.5 1804.4 275.6 1805.9 277.5C1807.5 279.4 1812.2 285.0 1813.7 286.6C1815.2 288.2 1819.3 292.5 1820.8 293.4C1822.4 294.2 1827.6 294.4 1829.1 295.0C1830.6 295.6 1834.6 299.0 1835.9 299.8C1837.3 300.7 1841.2 303.1 1842.7 303.7C1844.1 304.3 1848.9 305.3 1850.4 305.4C1852.0 305.5 1856.4 304.9 1858.2 304.7C1859.9 304.4 1865.7 303.5 1867.8 303.2C1869.9 302.9 1877.1 302.2 1879.4 302.0C1881.7 301.8 1888.9 301.4 1891.0 301.3C1893.1 301.2 1898.9 301.0 1900.7 301.0C1902.5 301.0 1907.7 300.9 1908.9 301.0C1910.2 301.1 1912.3 301.4 1913.3 301.8C1914.2 302.2 1916.9 304.1 1918.1 305.1C1919.3 306.2 1923.5 310.6 1924.9 311.9C1926.2 313.2 1930.3 317.0 1931.6 318.2C1933.0 319.4 1937.0 322.9 1938.4 324.0C1939.8 325.1 1943.8 328.0 1945.2 328.8C1946.5 329.7 1950.6 332.1 1951.9 332.7C1953.3 333.3 1957.3 334.8 1958.7 335.1C1960.2 335.5 1964.9 336.3 1966.4 336.4C1968.0 336.4 1972.3 335.8 1974.2 335.6C1976.1 335.4 1984.4 334.6 1985.6 334.4"/>
<path class="bd dn" d="M1624.3 48.9C1625.6 49.0 1634.9 49.9 1637.3 50.0C1639.8 50.2 1647.0 50.5 1648.9 50.6C1650.9 50.7 1655.5 51.0 1656.7 50.8C1657.8 50.6 1659.6 49.2 1660.5 48.9C1661.5 48.5 1665.8 47.3 1666.3 47.1"/>
<path class="bd dn" d="M1624.3 49.6C1625.6 49.8 1634.8 50.8 1637.3 51.0C1639.9 51.2 1648.0 51.9 1649.9 52.0C1651.8 52.0 1656.0 51.4 1656.7 51.4"/>
<path class="bd dn" d="M1624.3 61.4C1624.9 61.0 1629.1 57.9 1630.6 57.1C1632.1 56.3 1637.3 53.7 1639.3 53.2C1641.2 52.8 1648.2 52.8 1649.9 52.5C1651.7 52.3 1656.0 51.1 1656.7 51.0"/>
<path class="bd dn" d="M1624.3 62.4C1625.1 62.5 1630.8 63.7 1632.5 63.9C1634.2 64.0 1639.5 64.1 1641.2 63.9C1643.0 63.6 1648.1 62.0 1649.9 61.4C1651.7 60.9 1657.9 58.7 1659.6 58.0C1661.2 57.4 1665.0 55.7 1666.3 55.1C1667.7 54.6 1671.8 52.7 1673.1 52.2C1674.5 51.8 1678.6 50.8 1679.9 50.8C1681.1 50.8 1684.5 51.9 1685.7 52.2C1686.9 52.6 1690.4 54.1 1691.5 54.7C1692.6 55.2 1695.4 57.3 1696.3 58.0C1697.3 58.8 1700.1 61.4 1701.2 62.4C1702.2 63.4 1705.8 67.0 1707.0 68.2C1708.1 69.4 1711.6 72.9 1712.8 74.0C1713.9 75.2 1717.5 78.9 1718.6 79.8C1719.6 80.7 1722.4 82.6 1723.4 83.2C1724.4 83.8 1727.4 85.0 1728.2 85.6C1729.1 86.2 1731.3 88.8 1732.1 89.5C1732.9 90.2 1735.6 92.1 1736.0 92.4"/>
<path class="bd dn" d="M1624.3 64.8C1625.1 64.9 1630.8 65.6 1632.5 65.8C1634.2 65.9 1639.6 66.3 1641.2 66.3C1642.9 66.3 1647.4 66.1 1648.9 65.8C1650.5 65.5 1655.1 63.9 1656.7 63.4C1658.2 62.8 1662.9 61.0 1664.4 60.5C1666.0 59.9 1670.6 58.2 1672.2 58.0C1673.7 57.9 1678.3 58.5 1679.9 58.5C1681.4 58.6 1686.2 58.6 1687.6 58.5C1689.1 58.5 1693.3 57.9 1694.4 58.0C1695.5 58.2 1697.4 59.8 1698.3 60.5C1699.1 61.1 1702.0 63.4 1703.1 64.3C1704.2 65.3 1707.7 68.9 1708.9 70.1C1710.1 71.4 1713.5 75.6 1714.7 76.9C1715.9 78.3 1719.3 82.5 1720.5 83.7C1721.7 84.8 1725.1 87.6 1726.3 88.5C1727.5 89.4 1731.1 91.9 1732.1 92.4C1733.1 92.9 1735.6 93.3 1736.0 93.3"/>
<path class="bd dn" d="M1624.3 65.3C1625.1 65.6 1630.9 67.4 1632.5 67.7C1634.1 68.1 1638.6 68.6 1640.2 68.7C1641.9 68.7 1647.3 68.5 1648.9 68.2C1650.6 68.0 1655.1 66.9 1656.7 66.3C1658.2 65.7 1662.9 63.1 1664.4 62.4C1666.0 61.7 1670.6 59.7 1672.2 59.5C1673.7 59.3 1678.2 60.3 1679.9 60.5C1681.5 60.6 1687.2 60.6 1688.6 61.0C1689.9 61.3 1692.5 63.2 1693.4 63.9C1694.4 64.5 1697.3 66.9 1698.3 67.7C1699.2 68.5 1702.1 71.2 1703.1 72.1C1704.1 73.0 1707.0 75.9 1707.9 76.9C1708.9 77.9 1711.7 80.8 1712.8 81.7C1713.8 82.7 1717.4 85.7 1718.6 86.6C1719.7 87.5 1723.3 89.8 1724.4 90.5C1725.4 91.1 1728.4 92.9 1729.2 93.3C1730.0 93.8 1731.8 94.8 1732.1 95.0"/>
<path class="bd dn" d="M1624.3 65.8C1625.1 66.1 1630.9 68.2 1632.5 68.7C1634.1 69.2 1638.8 70.7 1640.2 71.1C1641.7 71.5 1645.4 72.6 1647.0 72.6C1648.7 72.5 1655.3 71.1 1656.7 70.6C1658.0 70.1 1659.8 68.3 1660.5 67.7C1661.3 67.2 1663.4 65.4 1664.4 65.3C1665.4 65.2 1669.0 66.4 1670.2 66.8C1671.4 67.1 1675.0 68.7 1676.0 69.2C1677.1 69.6 1679.7 71.0 1680.8 71.3C1682.0 71.6 1686.4 72.2 1687.6 72.6C1688.9 72.9 1692.3 74.4 1693.4 75.0C1694.6 75.5 1698.1 77.6 1699.2 78.4C1700.4 79.1 1703.9 81.9 1705.0 82.7C1706.2 83.5 1709.7 85.8 1710.8 86.6C1712.0 87.4 1715.5 89.7 1716.6 90.5C1717.8 91.2 1721.9 93.5 1722.4 93.8"/>
<path class="bd dn" d="M1681.8 47.1C1682.4 47.5 1686.3 50.3 1687.6 50.8C1689.0 51.3 1694.5 52.0 1695.3 52.2C1696.2 52.5 1695.7 53.8 1696.3 53.7C1696.9 53.6 1700.1 51.4 1701.2 50.8C1702.2 50.2 1706.4 48.2 1707.0 47.9"/>
<path class="bd dn" d="M1685.7 47.1C1686.3 47.4 1690.3 49.2 1691.5 49.4C1692.7 49.5 1696.4 49.1 1697.3 48.9C1698.2 48.6 1699.9 47.3 1700.2 47.1"/>
<path class="bd dn" d="M1714.7 47.1C1715.1 47.9 1717.7 52.9 1718.6 54.7C1719.4 56.4 1722.4 62.4 1723.4 64.3C1724.4 66.3 1727.3 72.2 1728.2 74.0C1729.2 75.8 1732.2 81.4 1733.1 82.7C1733.9 84.0 1735.4 86.6 1736.5 87.1C1737.5 87.5 1742.0 87.2 1743.7 87.1C1745.4 86.9 1751.4 85.9 1753.4 85.6C1755.3 85.3 1761.1 84.6 1763.0 84.5C1765.0 84.3 1771.4 84.2 1772.7 84.2C1774.1 84.1 1775.6 84.1 1776.6 84.2C1777.5 84.2 1780.8 84.4 1782.4 84.5C1783.9 84.5 1790.1 84.6 1792.0 84.6C1794.0 84.6 1800.2 84.5 1801.7 84.5C1803.3 84.4 1806.9 84.3 1807.5 84.3"/>
<path class="bd dn" d="M1715.7 47.1C1716.1 48.0 1719.5 53.7 1720.5 55.6C1721.5 57.6 1724.4 64.1 1725.3 66.3C1726.3 68.4 1729.3 75.1 1730.2 76.9C1731.0 78.7 1733.4 83.1 1734.0 84.6C1734.7 86.2 1736.0 91.8 1736.9 92.4C1737.9 93.0 1742.1 91.3 1743.7 90.9C1745.3 90.5 1751.4 89.0 1753.4 88.5C1755.3 88.1 1761.1 86.7 1763.0 86.4C1765.0 86.1 1771.4 85.5 1772.7 85.4C1774.1 85.3 1775.4 85.4 1776.6 85.4C1777.7 85.5 1782.8 85.9 1784.3 86.1C1785.9 86.3 1790.3 87.3 1792.0 87.5C1793.8 87.8 1800.2 88.8 1801.7 89.0C1803.3 89.2 1806.9 89.3 1807.5 89.3"/>
<path class="bd dn" d="M1736.0 92.4C1736.7 92.3 1742.0 91.7 1743.7 91.4C1745.4 91.1 1751.4 89.4 1753.4 89.0C1755.3 88.6 1761.1 87.4 1763.0 87.1C1765.0 86.8 1771.4 86.2 1772.7 86.1C1774.1 86.0 1775.4 85.9 1776.6 86.0C1777.7 86.1 1782.8 87.1 1784.3 87.5C1785.9 88.0 1790.5 89.9 1792.0 90.5C1793.6 91.0 1798.8 92.9 1799.8 93.3C1800.7 93.8 1801.5 94.8 1801.7 95.0"/>
<path class="bd dn" d="M1633.5 95.0C1634.0 94.5 1637.9 91.6 1639.3 90.5C1640.6 89.3 1645.5 85.0 1647.0 83.7C1648.6 82.3 1653.2 77.9 1654.7 76.9C1656.3 75.9 1660.9 74.0 1662.5 73.5C1664.0 73.1 1668.7 72.6 1670.2 72.6C1671.8 72.6 1676.4 73.5 1678.0 73.5C1679.5 73.6 1684.3 72.9 1685.7 73.0C1687.0 73.2 1690.3 74.5 1691.5 75.0C1692.7 75.5 1696.1 77.2 1697.3 77.9C1698.5 78.6 1701.9 81.0 1703.1 81.7C1704.2 82.5 1707.7 84.9 1708.9 85.6C1710.1 86.3 1713.5 88.4 1714.7 89.0C1715.9 89.6 1719.3 90.8 1720.5 91.4C1721.7 92.0 1726.2 94.3 1726.8 94.7"/>
<path class="bd dn" d="M1645.1 95.0C1645.6 94.4 1648.7 89.7 1649.9 88.5C1651.1 87.3 1655.2 83.7 1656.7 82.7C1658.1 81.7 1662.9 79.5 1664.4 78.8C1666.0 78.2 1670.6 76.8 1672.2 76.4C1673.7 76.1 1678.7 75.3 1679.9 75.5C1681.0 75.6 1682.9 77.2 1683.8 77.9C1684.6 78.6 1687.6 81.6 1688.6 82.7C1689.6 83.8 1692.6 87.4 1693.4 88.5C1694.3 89.6 1696.9 92.9 1697.3 93.3"/>
<path class="bd dn" d="M1649.9 95.0C1650.6 94.3 1655.2 88.8 1656.7 87.5C1658.1 86.3 1662.9 83.0 1664.4 82.2C1666.0 81.5 1670.6 80.5 1672.2 80.3C1673.7 80.0 1678.5 79.6 1679.9 79.8C1681.2 80.1 1684.5 81.9 1685.7 82.7C1686.9 83.5 1690.4 86.6 1691.5 87.5C1692.6 88.5 1695.5 91.6 1696.3 92.4C1697.1 93.1 1699.4 94.7 1699.7 95.0"/>
<path class="bd dn" d="M1658.6 95.0C1659.2 94.6 1663.2 91.6 1664.4 90.9C1665.7 90.3 1669.8 88.9 1671.2 88.7C1672.5 88.5 1676.5 89.0 1678.0 89.3C1679.4 89.6 1684.4 91.3 1685.7 91.9C1686.9 92.5 1690.0 94.7 1690.5 95.0"/>
<path class="bd dn" d="M1807.5 84.3C1807.9 84.3 1810.6 84.4 1811.7 84.2C1812.8 84.0 1817.2 82.6 1818.5 82.2C1819.8 81.8 1823.7 81.1 1824.8 80.3C1825.9 79.5 1828.2 75.4 1829.1 74.0C1830.1 72.6 1832.9 67.9 1834.0 66.3C1835.0 64.6 1838.6 59.1 1839.8 57.6C1840.9 56.0 1844.5 51.8 1845.6 50.8C1846.6 49.8 1849.6 48.2 1850.4 47.9C1851.2 47.6 1852.5 47.2 1853.3 47.4C1854.1 47.6 1857.1 49.2 1858.2 49.8C1859.2 50.5 1862.8 53.0 1864.0 53.7C1865.1 54.4 1868.7 56.5 1869.8 57.1C1870.8 57.7 1873.5 59.5 1874.6 59.5C1875.7 59.5 1879.1 57.4 1880.4 57.1C1881.6 56.8 1885.7 56.2 1887.2 56.1C1888.6 56.0 1893.3 56.1 1894.9 56.1C1896.4 56.2 1901.2 56.5 1902.6 56.6C1904.0 56.7 1907.7 56.7 1908.9 56.8C1910.2 56.9 1913.9 57.3 1915.2 57.6C1916.5 57.8 1920.6 59.2 1922.0 59.5C1923.3 59.8 1927.4 60.9 1928.7 61.0C1930.1 61.0 1934.0 60.7 1935.5 60.5C1937.0 60.3 1941.6 59.5 1943.2 59.0C1944.9 58.6 1950.2 56.7 1951.9 56.1C1953.7 55.5 1958.8 53.8 1960.6 53.2C1962.5 52.7 1968.6 51.2 1970.3 50.8C1972.1 50.4 1976.5 49.5 1978.0 49.4C1979.6 49.2 1984.8 48.9 1985.6 48.9"/>
<path class="bd dn" d="M1807.5 89.3C1807.9 89.3 1810.6 89.2 1811.7 89.0C1812.8 88.8 1817.2 87.8 1818.5 87.1C1819.8 86.3 1823.7 83.0 1824.8 81.7C1825.9 80.5 1828.4 76.0 1829.3 74.5C1830.3 73.0 1833.1 68.5 1834.2 66.8C1835.2 65.2 1838.8 59.7 1840.0 58.1C1841.1 56.6 1845.2 52.1 1845.8 51.4"/>
<path class="bd dn" d="M1853.3 47.4C1854.2 47.9 1860.2 51.3 1862.0 52.2C1863.9 53.2 1869.8 55.9 1871.7 56.6C1873.6 57.3 1879.4 58.9 1881.3 59.5C1883.3 60.1 1889.1 62.3 1891.0 62.9C1893.0 63.5 1898.9 65.0 1900.7 65.3C1902.5 65.6 1907.4 65.7 1908.9 65.8C1910.5 65.9 1914.8 66.3 1916.2 66.3C1917.6 66.3 1921.6 66.0 1922.9 65.8C1924.3 65.6 1928.2 64.7 1929.7 64.3C1931.2 64.0 1935.9 62.4 1937.4 61.9C1939.0 61.5 1943.4 60.4 1945.2 60.0C1946.9 59.6 1953.0 58.3 1954.8 58.0C1956.7 57.8 1962.0 57.6 1963.5 57.6C1965.1 57.6 1968.9 57.8 1970.3 58.0C1971.8 58.3 1976.5 59.9 1978.0 60.5C1979.6 61.0 1984.8 63.1 1985.6 63.4"/>
<path class="bd dn" d="M1862.0 47.1C1862.5 47.7 1865.7 52.6 1866.8 53.2C1868.0 53.9 1872.4 53.3 1873.6 53.7C1874.9 54.1 1878.1 56.4 1879.4 57.1C1880.8 57.8 1885.5 59.7 1887.2 60.5C1888.8 61.2 1894.3 63.8 1895.9 64.3C1897.4 64.9 1902.0 65.6 1902.6 65.8"/>
<path class="bd dn" d="M1821.2 94.5C1821.6 93.9 1824.2 90.1 1825.3 88.5C1826.4 86.9 1830.6 80.5 1832.0 78.8C1833.5 77.2 1838.2 73.3 1839.8 72.1C1841.3 70.8 1846.1 67.3 1847.5 66.3C1849.0 65.3 1853.1 62.6 1854.3 61.9C1855.5 61.2 1858.3 59.6 1859.6 59.5C1860.9 59.4 1865.4 60.3 1866.8 61.0C1868.3 61.6 1872.2 65.2 1873.6 66.3C1875.1 67.3 1879.8 71.1 1881.3 71.6C1882.9 72.1 1887.7 71.4 1889.1 71.1C1890.4 70.8 1893.6 69.2 1894.9 68.7C1896.1 68.2 1900.3 66.3 1901.7 65.8C1903.1 65.3 1907.6 63.6 1908.9 63.4C1910.3 63.2 1913.8 63.8 1915.2 63.9C1916.6 63.9 1921.5 64.0 1922.9 63.9C1924.4 63.7 1928.2 62.7 1929.7 62.4C1931.2 62.1 1935.9 60.8 1937.4 60.5C1939.0 60.2 1943.5 59.7 1945.2 59.5C1946.8 59.3 1952.1 58.7 1953.9 58.5C1955.6 58.3 1961.1 57.7 1962.6 57.6C1964.0 57.5 1967.0 57.2 1968.4 57.4C1969.7 57.5 1974.4 58.6 1976.1 59.0C1977.8 59.4 1984.6 61.2 1985.6 61.4"/>
<path class="bd dn" d="M1824.8 95.0C1825.2 94.2 1828.0 88.2 1829.1 86.6C1830.3 85.0 1834.6 80.1 1835.9 78.8C1837.3 77.5 1841.3 74.5 1842.7 73.5C1844.0 72.5 1848.0 69.6 1849.5 68.7C1850.9 67.8 1855.4 65.4 1857.2 64.8C1858.9 64.2 1865.2 62.6 1866.8 62.9C1868.5 63.2 1872.2 66.7 1873.6 67.7C1875.1 68.7 1879.8 72.5 1881.3 73.0C1882.9 73.6 1887.6 73.3 1889.1 73.0C1890.5 72.8 1894.5 70.6 1895.9 70.1C1897.2 69.7 1901.3 68.5 1902.6 68.2C1903.9 68.0 1907.2 67.7 1908.9 67.7C1910.7 67.7 1918.0 68.3 1920.0 68.2C1922.1 68.2 1927.8 67.5 1929.7 67.2C1931.6 67.0 1937.2 66.0 1939.4 65.8C1941.5 65.5 1949.0 65.2 1951.0 64.8C1952.9 64.5 1957.2 62.9 1958.7 62.4C1960.3 61.9 1964.9 60.1 1966.4 60.0C1968.0 59.9 1972.3 60.9 1974.2 61.4C1976.1 62.0 1984.4 64.9 1985.6 65.3"/>
<path class="bd dn" d="M1828.7 95.0C1829.4 94.2 1834.5 88.0 1835.9 86.6C1837.3 85.2 1841.2 81.9 1842.7 80.8C1844.1 79.6 1848.9 76.0 1850.4 75.0C1852.0 73.9 1856.5 71.0 1858.2 70.1C1859.8 69.3 1865.3 66.1 1866.8 66.3C1868.4 66.5 1872.2 70.9 1873.6 72.1C1875.1 73.2 1879.8 76.8 1881.3 77.9C1882.9 78.9 1887.5 82.0 1889.1 82.7C1890.6 83.4 1895.3 84.7 1896.8 85.1C1898.4 85.5 1903.4 86.4 1904.6 86.6C1905.8 86.7 1907.8 86.9 1908.9 86.8C1910.0 86.7 1913.9 86.0 1915.2 85.6C1916.5 85.2 1920.6 83.2 1922.0 82.7C1923.3 82.2 1927.4 80.5 1928.7 80.3C1930.1 80.1 1934.0 80.6 1935.5 80.8C1937.0 81.0 1941.7 81.9 1943.2 82.2C1944.8 82.5 1949.4 83.9 1951.0 83.7C1952.5 83.4 1957.0 80.8 1958.7 79.8C1960.5 78.8 1966.4 75.1 1968.4 74.0C1970.3 72.9 1976.3 69.6 1978.0 68.7C1979.8 67.8 1984.8 65.2 1985.6 64.8"/>
<path class="bd dn" d="M1831.3 95.0C1832.0 94.3 1836.4 89.0 1837.8 87.5C1839.3 86.1 1844.1 81.5 1845.6 80.3C1847.0 79.0 1851.0 75.8 1852.3 75.0C1853.7 74.1 1857.7 72.5 1859.1 72.1C1860.6 71.7 1865.4 70.9 1866.8 71.1C1868.3 71.3 1872.2 73.2 1873.6 74.0C1875.1 74.8 1879.8 77.8 1881.3 78.8C1882.9 79.9 1887.5 83.8 1889.1 84.6C1890.6 85.5 1895.3 86.7 1896.8 87.1C1898.4 87.4 1903.4 87.9 1904.6 88.0C1905.8 88.1 1907.8 88.1 1908.9 88.0C1910.0 88.0 1913.9 87.8 1915.2 87.5C1916.5 87.3 1920.6 85.9 1922.0 85.6C1923.3 85.3 1927.4 84.3 1928.7 84.2C1930.1 84.0 1934.0 84.0 1935.5 84.2C1937.0 84.3 1941.7 85.5 1943.2 85.6C1944.8 85.7 1949.4 85.6 1951.0 85.1C1952.5 84.7 1957.0 82.3 1958.7 81.3C1960.5 80.2 1966.4 76.2 1968.4 75.0C1970.3 73.8 1976.3 70.1 1978.0 69.2C1979.8 68.2 1984.8 65.7 1985.6 65.3"/>
<path class="bd dn" d="M1858.6 95.0C1859.4 94.4 1864.4 89.6 1865.9 88.5C1867.4 87.4 1872.2 84.2 1873.6 84.2C1875.1 84.2 1879.0 87.6 1880.4 88.5C1881.7 89.4 1886.1 92.8 1887.2 93.3C1888.2 93.9 1890.1 94.4 1891.0 94.3C1892.0 94.2 1895.5 92.8 1896.8 92.4C1898.2 91.9 1903.4 90.3 1904.6 90.0C1905.8 89.6 1907.8 89.0 1908.9 89.0C1910.0 89.0 1913.6 89.3 1915.2 89.5C1916.8 89.6 1922.9 90.2 1924.9 90.5C1926.8 90.7 1933.1 92.1 1934.5 92.4C1936.0 92.7 1938.4 93.5 1939.4 93.3C1940.3 93.2 1943.0 91.1 1944.2 90.5C1945.4 89.8 1949.5 87.1 1951.0 86.6C1952.4 86.1 1957.5 85.3 1958.7 85.6C1960.0 85.9 1962.6 88.5 1963.5 89.5C1964.5 90.4 1967.9 94.4 1968.4 95.0"/>
<path class="bd dn" d="M1861.0 95.0C1861.7 94.6 1866.6 91.5 1867.8 90.9C1869.1 90.4 1872.3 89.5 1873.6 89.7C1875.0 89.8 1880.1 91.8 1881.3 92.4C1882.6 92.9 1885.7 94.7 1886.2 95.0"/>
<path class="bd dn" d="M1891.0 95.0C1891.6 94.8 1895.5 93.7 1896.8 93.3C1898.2 93.0 1903.2 91.7 1904.6 91.4C1905.9 91.2 1908.8 91.0 1910.4 90.9C1911.9 90.8 1918.1 90.8 1920.0 90.5C1922.0 90.1 1927.8 87.9 1929.7 87.5C1931.6 87.2 1937.9 86.6 1939.4 86.6C1940.8 86.6 1943.0 87.2 1944.2 87.5C1945.5 87.9 1950.5 89.9 1951.9 90.5C1953.4 91.0 1957.7 92.9 1958.7 93.3C1959.7 93.8 1961.8 94.8 1962.1 95.0"/>
<path class="bd dn" d="M1943.2 95.0L1944.2 90.5"/>
<path class="bd dn" d="M1939.4 93.3L1951.0 95.0"/>
<path class="bd dn" d="M1624.3 96.9C1624.9 96.8 1629.7 96.2 1630.6 96.0C1631.5 95.8 1633.2 95.1 1633.5 95.0"/>
<path class="bd dn" d="M1624.3 104.2C1625.0 104.1 1630.1 103.6 1631.5 103.2C1632.9 102.8 1637.1 101.0 1638.3 100.3C1639.6 99.6 1643.4 97.0 1644.1 96.5C1644.8 95.9 1645.0 95.1 1645.1 95.0"/>
<path class="bd dn" d="M1624.3 105.2C1625.1 105.1 1631.0 105.0 1632.5 104.7C1634.0 104.4 1638.0 102.8 1639.3 102.2C1640.5 101.7 1644.0 99.6 1645.1 98.9C1646.1 98.1 1649.4 95.4 1649.9 95.0"/>
<path class="bd dn" d="M1624.3 110.5C1625.1 110.2 1630.8 108.1 1632.5 107.6C1634.2 107.1 1639.7 106.1 1641.2 105.6C1642.8 105.2 1646.7 103.9 1648.0 103.2C1649.2 102.5 1652.7 99.7 1653.8 98.9C1654.8 98.0 1658.1 95.4 1658.6 95.0"/>
<path class="bd dn" d="M1624.3 111.0C1625.1 110.8 1630.9 109.7 1632.5 109.5C1634.1 109.3 1638.7 109.0 1640.2 109.0C1641.8 109.1 1646.5 109.5 1648.0 110.0C1649.4 110.5 1653.3 113.0 1654.7 113.9C1656.2 114.7 1660.9 117.6 1662.5 118.7C1664.0 119.8 1668.7 123.2 1670.2 124.5C1671.8 125.8 1676.5 130.2 1678.0 131.7C1679.4 133.2 1683.6 138.2 1684.7 139.5C1685.8 140.8 1688.4 144.4 1688.8 145.0"/>
<path class="bd dn" d="M1624.3 112.9C1625.1 113.1 1630.8 114.4 1632.5 114.8C1634.2 115.2 1639.5 116.3 1641.2 116.8C1643.0 117.2 1648.2 118.9 1649.9 119.7C1651.7 120.4 1657.0 123.1 1658.6 124.0C1660.3 124.9 1664.8 127.7 1666.3 128.8C1667.9 130.0 1672.6 133.9 1674.1 135.1C1675.5 136.4 1679.7 140.4 1680.8 141.4C1682.0 142.4 1684.7 144.6 1685.1 145.0"/>
<path class="bd dn" d="M1690.5 95.0C1691.1 95.5 1695.2 98.5 1696.3 99.8C1697.5 101.2 1701.0 106.7 1702.1 108.5C1703.3 110.4 1706.9 116.3 1707.9 118.2C1709.0 120.1 1711.8 125.9 1712.8 127.9C1713.7 129.8 1716.7 135.8 1717.6 137.6C1718.4 139.3 1721.0 144.3 1721.3 145.0"/>
<path class="bd dn" d="M1697.3 95.0C1697.6 95.6 1699.4 99.3 1700.2 100.8C1701.0 102.2 1704.1 107.7 1705.0 109.5C1706.0 111.3 1708.9 117.2 1709.9 119.2C1710.8 121.1 1713.8 127.0 1714.7 128.8C1715.6 130.7 1717.8 135.9 1718.6 137.6C1719.3 139.2 1721.6 144.2 1722.0 145.0"/>
<path class="bd dn" d="M1699.7 95.0C1700.5 95.4 1706.3 98.2 1707.9 98.9C1709.5 99.5 1714.2 101.3 1715.7 101.8C1717.1 102.3 1721.2 103.3 1722.4 103.7C1723.7 104.1 1727.2 105.0 1728.2 105.6C1729.3 106.3 1732.1 109.3 1733.1 110.5C1734.0 111.6 1736.9 115.8 1737.9 117.2C1738.9 118.7 1741.8 123.3 1742.7 125.0C1743.7 126.6 1746.7 132.0 1747.6 133.7C1748.4 135.3 1750.8 140.3 1751.4 141.4C1752.1 142.5 1753.5 144.6 1753.7 145.0"/>
<path class="bd dn" d="M1721.5 95.0C1721.8 95.4 1723.6 98.1 1724.4 98.9C1725.1 99.6 1728.2 101.8 1729.2 102.7C1730.2 103.7 1733.1 107.2 1734.0 108.5C1735.0 109.9 1737.9 114.6 1738.9 116.3C1739.8 117.9 1742.7 123.1 1743.7 125.0C1744.7 126.8 1747.6 132.8 1748.5 134.6C1749.5 136.5 1752.9 142.5 1753.4 143.3"/>
<path class="bd dn" d="M1726.8 94.7C1727.3 95.0 1731.1 97.3 1732.1 97.9C1733.1 98.5 1736.2 99.9 1736.9 100.8C1737.7 101.7 1739.2 105.2 1739.8 106.6C1740.4 108.0 1742.1 112.8 1742.7 114.3C1743.4 115.9 1745.7 120.6 1746.6 122.1C1747.5 123.5 1750.4 127.8 1751.4 128.8C1752.5 129.9 1755.9 132.1 1757.2 132.7C1758.6 133.3 1763.4 134.8 1765.0 135.1C1766.5 135.5 1771.2 136.0 1772.7 136.1C1774.3 136.2 1778.9 136.2 1780.4 136.1C1782.0 135.9 1786.7 135.0 1788.2 134.6C1789.6 134.3 1793.6 132.9 1795.0 132.2C1796.3 131.6 1800.5 129.0 1801.7 127.9C1803.0 126.7 1806.9 121.5 1807.5 120.8"/>
<path class="bd dn" d="M1801.7 95.0C1802.1 95.3 1805.0 98.1 1805.6 98.4C1806.2 98.6 1807.3 97.6 1807.5 97.5"/>
<path class="bd dn" d="M1799.7 145.0C1800.1 144.2 1802.9 138.2 1803.7 136.6C1804.4 135.0 1807.1 130.0 1807.5 129.2"/>
<path class="bd dn" d="M1807.5 122.7C1807.6 122.5 1808.2 121.9 1808.8 121.1C1809.4 120.3 1812.7 115.7 1813.7 114.3C1814.6 113.0 1817.5 108.9 1818.5 107.6C1819.5 106.2 1822.3 102.1 1823.3 100.8C1824.4 99.5 1828.1 95.6 1828.7 95.0"/>
<path class="bd dn" d="M1807.5 120.8C1807.6 120.6 1808.2 119.6 1808.8 118.7C1809.4 117.8 1812.7 113.3 1813.7 111.9C1814.6 110.6 1817.6 106.5 1818.5 105.2C1819.4 103.8 1822.2 99.9 1822.9 98.9C1823.5 97.9 1824.6 95.4 1824.8 95.0"/>
<path class="bd dn" d="M1807.5 129.2C1807.5 129.3 1807.3 130.6 1807.9 129.8C1808.4 129.0 1811.7 122.8 1812.7 121.1C1813.7 119.4 1816.3 114.3 1817.5 112.9C1818.8 111.4 1823.7 107.2 1825.3 106.6C1826.8 106.0 1831.6 106.5 1833.0 106.4C1834.5 106.3 1838.5 105.9 1839.8 105.6C1841.0 105.4 1844.3 104.3 1845.6 103.7C1846.8 103.1 1851.1 100.6 1852.3 99.8C1853.6 99.1 1857.3 96.5 1858.2 96.0C1859.0 95.5 1860.8 95.1 1861.0 95.0"/>
<path class="bd dn" d="M1817.5 112.9C1818.3 112.6 1823.7 110.8 1825.3 110.5C1826.8 110.2 1831.6 110.2 1833.0 110.0C1834.5 109.7 1838.5 108.6 1839.8 108.0C1841.0 107.5 1844.3 105.4 1845.6 104.7C1846.8 103.9 1851.0 101.3 1852.3 100.3C1853.7 99.4 1858.0 95.5 1858.6 95.0"/>
<path class="bd dn" d="M1807.5 97.5C1807.7 97.5 1809.1 97.2 1809.8 97.4C1810.5 97.7 1813.8 99.8 1814.6 99.8C1815.5 99.9 1817.8 98.4 1818.5 97.9C1819.2 97.4 1820.9 94.8 1821.2 94.5"/>
<path class="bd dn" d="M1807.5 92.7C1807.8 92.9 1810.1 94.5 1810.8 95.0C1811.5 95.5 1814.0 97.3 1814.6 97.4C1815.3 97.5 1817.1 96.4 1817.5 96.0C1818.0 95.6 1819.3 93.8 1819.5 93.5"/>
<path class="bd dn" d="M1829.1 145.0C1829.8 144.0 1834.4 136.7 1835.9 134.6C1837.5 132.5 1842.8 125.9 1844.6 124.0C1846.4 122.1 1852.3 116.8 1854.3 115.3C1856.2 113.9 1862.0 110.6 1864.0 109.5C1865.9 108.4 1871.9 105.4 1873.6 104.7C1875.4 103.9 1880.0 102.5 1881.3 102.2C1882.7 102.0 1886.0 101.5 1887.2 101.8C1888.3 102.0 1891.8 104.0 1893.0 104.7C1894.1 105.3 1897.6 108.0 1898.8 108.5C1899.9 109.1 1903.5 110.2 1904.6 110.5C1905.6 110.7 1907.8 111.0 1908.9 111.0C1910.0 110.9 1913.8 110.4 1915.2 110.0C1916.6 109.6 1921.4 107.8 1922.9 107.1C1924.5 106.4 1929.2 103.6 1930.7 102.7C1932.1 101.9 1936.2 99.2 1937.4 98.4C1938.7 97.6 1942.7 95.3 1943.2 95.0"/>
<path class="bd dn" d="M1830.8 145.0C1831.4 144.1 1835.4 137.6 1836.9 135.6C1838.4 133.7 1843.7 127.3 1845.6 125.5C1847.4 123.6 1853.3 118.2 1855.2 116.8C1857.2 115.3 1863.0 112.0 1864.9 111.0C1866.9 109.9 1872.9 106.8 1874.6 106.1C1876.2 105.4 1880.0 104.0 1881.3 103.7C1882.7 103.4 1886.9 103.0 1888.1 103.2C1889.4 103.5 1892.8 105.4 1893.9 106.1C1895.1 106.8 1898.7 109.4 1899.7 110.0C1900.8 110.6 1903.6 111.7 1904.6 111.9C1905.5 112.2 1907.8 112.4 1908.9 112.4C1910.0 112.4 1913.8 111.9 1915.2 111.4C1916.6 111.0 1921.4 108.8 1922.9 108.0C1924.5 107.3 1929.1 104.5 1930.7 103.7C1932.2 102.9 1936.8 100.4 1938.4 100.3C1940.0 100.2 1945.5 102.2 1947.1 102.5C1948.8 102.9 1953.2 103.9 1954.8 104.2C1956.5 104.5 1961.7 105.0 1963.5 105.2C1965.4 105.3 1971.5 106.1 1973.2 106.1C1975.0 106.2 1979.7 105.8 1981.0 105.6C1982.2 105.5 1985.1 104.8 1985.6 104.7"/>
<path class="bd dn" d="M1938.4 100.6C1939.3 100.9 1945.5 102.8 1947.1 103.2C1948.8 103.7 1953.2 104.8 1954.8 105.2C1956.5 105.5 1961.7 106.7 1963.5 107.1C1965.4 107.5 1971.5 108.6 1973.2 109.0C1975.0 109.4 1979.7 110.7 1981.0 111.0C1982.2 111.2 1985.1 111.8 1985.6 111.9"/>
<path class="bd dn" d="M1845.3 145.0C1846.0 143.9 1850.9 135.8 1852.3 133.7C1853.8 131.6 1858.6 125.7 1860.1 124.0C1861.5 122.4 1865.5 118.4 1866.8 117.2C1868.2 116.1 1872.3 113.5 1873.6 112.9C1875.0 112.3 1879.1 111.2 1880.4 111.2C1881.6 111.2 1885.1 112.3 1886.2 112.9C1887.3 113.5 1890.1 116.3 1891.0 117.2C1892.0 118.2 1894.9 121.2 1895.9 122.1C1896.8 122.9 1899.7 125.0 1900.7 125.5C1901.7 125.9 1904.7 126.7 1905.5 126.9C1906.4 127.1 1907.9 127.4 1908.9 127.4C1909.9 127.4 1913.6 127.1 1915.2 126.9C1916.8 126.7 1922.9 125.8 1924.9 125.5C1926.8 125.1 1932.6 124.0 1934.5 123.5C1936.5 123.1 1942.3 121.6 1944.2 121.1C1946.1 120.6 1951.9 118.7 1953.9 118.2C1955.8 117.7 1961.6 116.3 1963.5 115.8C1965.5 115.3 1971.5 113.8 1973.2 113.4C1975.0 113.0 1979.7 112.1 1981.0 111.9C1982.2 111.7 1985.1 111.7 1985.6 111.6"/>
<path class="bd dn" d="M1848.4 145.0C1849.0 144.1 1852.9 137.5 1854.3 135.6C1855.6 133.7 1860.6 127.5 1862.0 125.9C1863.5 124.3 1867.4 120.7 1868.8 119.7C1870.1 118.6 1874.3 115.9 1875.5 115.3C1876.8 114.7 1880.2 113.9 1881.3 113.9C1882.5 113.8 1886.1 114.3 1887.2 114.8C1888.2 115.4 1891.0 118.3 1892.0 119.2C1893.0 120.0 1895.9 122.7 1896.8 123.5C1897.8 124.3 1900.7 126.4 1901.7 126.9C1902.6 127.4 1905.8 128.2 1906.5 128.4C1907.2 128.5 1908.0 128.7 1908.9 128.7C1909.8 128.7 1913.6 128.5 1915.2 128.4C1916.8 128.2 1922.9 127.2 1924.9 126.9C1926.8 126.6 1932.6 125.4 1934.5 125.0C1936.5 124.5 1942.3 123.1 1944.2 122.6C1946.1 122.0 1951.9 120.2 1953.9 119.7C1955.8 119.1 1961.6 117.3 1963.5 116.8C1965.5 116.2 1971.5 114.8 1973.2 114.3C1975.0 113.9 1979.7 112.8 1981.0 112.6C1982.2 112.4 1985.1 112.2 1985.6 112.2"/>
<path class="bd dn" d="M1951.0 95.0C1951.7 95.3 1957.0 97.2 1958.7 97.9C1960.5 98.6 1966.4 100.8 1968.4 101.8C1970.3 102.7 1976.3 106.7 1978.0 107.6C1979.8 108.5 1984.8 110.6 1985.6 111.0"/>
<path class="bd dn" d="M1962.1 95.0C1962.7 95.2 1967.0 96.4 1968.4 96.9C1969.8 97.5 1974.7 100.1 1976.1 100.8C1977.6 101.5 1981.9 103.4 1982.9 103.7C1983.8 104.0 1985.3 104.1 1985.6 104.2"/>
<path class="bd dn" d="M1968.4 95.0C1969.2 95.1 1974.4 96.3 1976.1 96.5C1977.8 96.6 1984.6 96.5 1985.6 96.5"/>
<path class="bd dn" d="M1817.5 112.9C1818.1 112.0 1822.2 105.7 1823.3 104.2C1824.5 102.6 1828.3 98.3 1829.1 97.4C1829.9 96.5 1831.1 95.2 1831.3 95.0"/>
<path class="bd dn" d="M1818.5 113.4C1819.1 112.5 1823.6 106.2 1824.8 104.7C1826.0 103.1 1829.7 98.9 1830.6 97.9C1831.5 96.9 1833.2 95.3 1833.5 95.0"/>
<path class="bd dn" d="M1886.2 95.0C1886.5 95.4 1888.4 97.9 1889.1 98.9C1889.8 99.8 1892.6 104.1 1893.0 104.7"/>
<path class="bd dn" d="M1887.2 101.8C1887.4 101.4 1888.7 99.1 1889.1 98.4C1889.5 97.7 1890.8 95.3 1891.0 95.0"/>
<path class="bd dn" d="M1753.7 145.0C1754.4 146.0 1758.5 153.1 1759.9 154.7C1761.3 156.2 1766.0 159.6 1767.6 160.5C1769.3 161.3 1774.6 163.0 1776.3 163.0C1778.1 163.0 1783.4 161.3 1785.0 160.5C1786.7 159.6 1791.3 156.2 1792.8 154.7C1794.2 153.1 1799.0 146.0 1799.7 145.0"/>
<path class="bd dn" d="M1721.3 145.0C1722.1 146.4 1727.4 156.1 1729.0 158.5C1730.5 161.0 1735.0 167.3 1736.7 169.2C1738.4 171.0 1744.4 175.5 1746.4 176.9C1748.3 178.4 1754.1 182.3 1756.0 183.7C1758.0 185.0 1763.7 189.5 1765.7 190.4C1767.7 191.4 1774.4 193.3 1776.3 193.3C1778.3 193.4 1783.4 192.1 1785.0 191.4C1786.7 190.7 1791.2 187.8 1792.8 186.6C1794.3 185.3 1799.0 180.4 1800.5 178.8C1802.1 177.3 1806.7 172.7 1808.2 171.1C1809.8 169.6 1814.4 165.0 1816.0 163.4C1817.5 161.7 1822.3 156.5 1823.7 154.7C1825.2 152.8 1830.1 146.0 1830.8 145.0"/>
<path class="bd dn" d="M1685.1 145.0C1686.2 146.2 1693.8 154.2 1696.1 156.6C1698.3 159.0 1705.4 166.8 1707.7 169.2C1710.0 171.5 1717.0 177.9 1719.3 179.8C1721.6 181.7 1728.6 186.8 1730.9 188.5C1733.2 190.2 1740.4 195.5 1742.5 197.2C1744.6 199.0 1750.2 203.9 1752.2 205.9C1754.1 208.0 1760.2 215.1 1761.8 217.5C1763.5 219.9 1767.2 227.4 1768.6 230.1C1770.1 232.7 1774.9 243.8 1776.3 244.0C1777.8 244.2 1781.8 234.4 1783.1 232.0C1784.5 229.7 1788.5 222.5 1789.9 220.4C1791.2 218.3 1795.2 212.6 1796.7 210.8C1798.1 208.9 1802.8 203.8 1804.4 202.1C1805.9 200.3 1810.6 195.3 1812.1 193.3C1813.7 191.4 1818.3 184.9 1819.9 182.7C1821.4 180.5 1825.8 173.5 1827.6 171.1C1829.3 168.7 1835.3 161.0 1837.3 158.5C1839.2 156.1 1845.8 148.3 1846.9 146.9C1848.0 145.6 1848.3 145.2 1848.4 145.0"/>
<path class="bd dn" d="M1688.8 145.0C1689.7 146.2 1696.3 154.2 1698.4 156.6C1700.5 159.0 1707.7 166.8 1710.0 169.2C1712.3 171.5 1719.3 177.8 1721.6 179.8C1723.9 181.8 1730.9 187.0 1733.2 188.9C1735.5 190.8 1742.4 196.6 1744.4 198.4C1746.4 200.1 1752.3 205.7 1753.1 206.5"/>
<path class="bd dn" d="M1801.5 204.0C1802.4 203.0 1808.5 196.3 1810.2 194.3C1811.8 192.3 1816.4 185.9 1817.9 183.7C1819.5 181.4 1824.0 174.2 1825.7 171.7C1827.3 169.2 1832.4 161.6 1834.4 158.9C1836.3 156.3 1844.2 146.4 1845.3 145.0"/>
<path class="bd dn" d="M1624.3 334.6C1625.1 334.9 1630.7 336.6 1632.5 337.1C1634.3 337.5 1640.2 338.7 1642.2 339.0C1644.1 339.3 1649.9 339.6 1651.8 339.7C1653.8 339.8 1659.7 340.0 1661.5 340.0C1663.3 339.9 1668.6 339.5 1670.2 339.3C1671.9 339.0 1676.4 338.1 1678.0 337.6C1679.5 337.0 1684.1 334.6 1685.7 333.7C1687.2 332.8 1691.9 329.6 1693.4 328.4C1695.0 327.1 1699.6 322.5 1701.2 321.1C1702.7 319.7 1707.3 315.5 1708.9 314.3C1710.4 313.2 1715.1 310.3 1716.6 309.5C1718.2 308.7 1722.9 306.6 1724.4 306.1C1725.8 305.6 1730.0 304.9 1731.1 304.7C1732.3 304.5 1734.7 303.9 1736.0 304.2C1737.2 304.4 1742.5 306.4 1743.7 307.1C1744.9 307.8 1746.6 309.9 1747.6 310.9C1748.5 312.0 1752.2 316.0 1753.4 317.2C1754.5 318.4 1758.0 322.1 1759.2 323.0C1760.3 324.0 1763.8 325.9 1765.0 326.4C1766.1 326.9 1769.6 327.7 1770.8 327.9C1771.9 328.1 1775.2 328.4 1776.4 328.4C1777.5 328.4 1781.2 328.1 1782.4 327.9C1783.6 327.6 1787.0 326.5 1788.2 325.9C1789.3 325.4 1792.9 323.0 1794.0 322.1C1795.0 321.2 1797.9 318.0 1798.8 316.8C1799.8 315.5 1802.8 310.7 1803.7 309.5C1804.5 308.3 1807.1 305.4 1807.5 305.0"/>
<path class="bd dn" d="M1674.1 345.0C1674.9 344.5 1680.3 341.4 1681.8 340.4C1683.4 339.5 1688.0 336.7 1689.5 335.6C1691.1 334.5 1695.7 331.0 1697.3 329.8C1698.8 328.6 1703.5 324.7 1705.0 323.5C1706.6 322.3 1711.3 318.6 1712.8 317.7C1714.2 316.8 1718.2 314.8 1719.5 314.3C1720.9 313.9 1724.8 313.1 1726.3 312.9C1727.8 312.7 1732.2 312.4 1734.0 312.4C1735.9 312.4 1743.2 312.0 1744.7 312.4C1746.1 312.8 1747.6 315.3 1748.5 316.3C1749.5 317.2 1753.2 321.1 1754.3 322.1C1755.5 323.0 1759.0 325.3 1760.1 325.9C1761.3 326.6 1764.8 328.0 1765.9 328.4C1767.1 328.7 1770.7 329.2 1771.7 329.3C1772.8 329.5 1775.3 329.6 1776.4 329.6C1777.4 329.6 1781.1 329.3 1782.4 329.0C1783.7 328.8 1787.9 327.5 1789.2 326.9C1790.4 326.4 1793.9 324.4 1795.0 323.5C1796.0 322.6 1798.8 319.5 1799.8 318.2C1800.7 317.0 1803.8 312.0 1804.6 310.9C1805.4 309.9 1807.2 307.9 1807.5 307.5"/>
<path class="bd dn" d="M1676.0 345.0C1676.8 344.6 1682.2 341.8 1683.8 340.9C1685.3 340.0 1689.9 337.2 1691.5 336.1C1693.0 335.0 1697.7 331.5 1699.2 330.3C1700.8 329.1 1705.4 325.2 1707.0 324.0C1708.5 322.8 1713.3 319.1 1714.7 318.2C1716.0 317.3 1719.5 315.3 1720.5 314.8C1721.5 314.4 1723.5 313.9 1724.4 313.9C1725.2 313.9 1728.0 314.5 1729.2 314.8C1730.4 315.2 1734.5 316.7 1736.0 317.2C1737.4 317.8 1742.2 320.0 1743.7 320.6C1745.2 321.2 1750.3 322.8 1751.4 323.5C1752.6 324.2 1754.5 326.9 1755.3 327.9C1756.1 328.9 1758.4 332.5 1759.2 333.7C1759.9 334.8 1762.4 338.3 1763.0 339.5C1763.7 340.6 1765.2 344.4 1765.5 345.0"/>
<path class="bd dn" d="M1694.9 345.0C1695.5 344.4 1699.8 340.6 1701.2 339.5C1702.6 338.3 1707.3 334.6 1708.9 333.7C1710.4 332.7 1715.1 330.5 1716.6 329.8C1718.2 329.1 1723.0 327.4 1724.4 326.9C1725.7 326.4 1729.0 325.3 1730.2 325.0C1731.4 324.7 1735.2 323.6 1736.5 324.0C1737.7 324.4 1741.2 327.9 1742.7 328.8C1744.2 329.8 1750.0 332.7 1751.4 333.7C1752.9 334.6 1756.2 337.5 1757.2 338.5C1758.3 339.5 1761.5 342.7 1762.1 343.4C1762.6 344.0 1762.9 344.8 1763.0 345.0"/>
<path class="bd dn" d="M1697.8 345.2C1699.0 345.0 1707.7 342.8 1709.9 342.4C1712.0 341.9 1717.8 341.4 1719.5 340.9C1721.3 340.4 1725.6 338.2 1727.3 337.6C1728.9 336.9 1734.3 334.6 1736.0 334.2C1737.7 333.7 1742.9 333.1 1744.2 333.4C1745.4 333.7 1747.6 336.7 1748.5 337.6C1749.5 338.4 1752.6 341.6 1753.4 342.4C1754.1 343.1 1756.0 344.7 1756.3 345.0"/>
<path class="bd dn" d="M1736.5 345.0C1737.3 344.7 1743.5 342.2 1744.7 342.2C1745.8 342.2 1747.7 344.7 1748.0 345.0"/>
<path class="bd dn" d="M1786.7 345.0C1787.2 344.1 1790.0 337.6 1791.1 335.6C1792.2 333.7 1796.5 326.6 1797.8 325.5C1799.2 324.3 1803.7 324.2 1804.6 324.0C1805.6 323.8 1807.2 323.3 1807.5 323.2"/>
<path class="bd dn" d="M1793.5 345.0C1793.9 344.0 1796.7 336.4 1797.8 334.6C1799.0 332.9 1803.7 328.8 1804.6 327.9C1805.6 327.0 1807.2 325.8 1807.5 325.5"/>
<path class="bd dn" d="M1800.8 345.0C1801.2 344.4 1804.9 339.4 1805.6 338.5C1806.3 337.7 1807.3 336.6 1807.5 336.4"/>
<path class="bd dn" d="M1803.7 345.0L1807.5 343.3"/>
<path class="bd dn" d="M1624.3 345.6L1634.9 345.0"/>
<path class="bd dn" d="M1807.5 305.0C1807.5 304.9 1807.3 305.2 1807.9 304.7C1808.4 304.1 1811.6 300.2 1812.7 299.4C1813.8 298.5 1817.2 296.3 1818.5 296.4C1819.8 296.6 1823.9 300.0 1825.3 300.8C1826.6 301.6 1830.6 304.0 1832.0 304.7C1833.5 305.3 1838.2 306.6 1839.8 307.1C1841.3 307.6 1846.1 309.0 1847.5 309.5C1849.0 310.0 1852.8 311.7 1854.3 312.4C1855.7 313.1 1860.5 315.9 1862.0 316.8C1863.6 317.6 1868.2 320.2 1869.8 321.1C1871.3 322.0 1875.9 325.0 1877.5 325.9C1879.0 326.9 1883.7 329.5 1885.2 330.3C1886.8 331.1 1891.4 333.1 1893.0 333.7C1894.5 334.2 1899.1 335.3 1900.7 335.6C1902.3 335.9 1907.5 336.2 1908.9 336.6C1910.4 336.9 1914.1 338.4 1915.2 339.0C1916.3 339.6 1919.3 341.8 1920.0 342.4C1920.8 343.0 1922.6 344.7 1922.9 345.0"/>
<path class="bd dn" d="M1807.5 307.5C1807.5 307.5 1807.3 308.1 1807.9 307.6C1808.4 307.0 1811.6 303.1 1812.7 302.2C1813.8 301.4 1817.2 299.3 1818.5 299.4C1819.8 299.4 1823.9 302.5 1825.3 303.2C1826.6 303.9 1830.6 306.0 1832.0 306.6C1833.5 307.2 1838.2 309.1 1839.8 309.5C1841.3 309.9 1846.0 310.5 1847.5 310.9C1849.1 311.4 1853.7 313.1 1855.2 313.9C1856.8 314.6 1861.4 317.3 1863.0 318.2C1864.5 319.1 1869.2 321.6 1870.7 322.6C1872.3 323.5 1876.9 326.5 1878.5 327.4C1880.0 328.3 1884.6 330.6 1886.2 331.3C1887.7 331.9 1892.4 333.8 1893.9 334.2C1895.5 334.5 1900.2 335.0 1901.7 335.1C1903.2 335.2 1907.1 335.0 1908.9 335.1C1910.7 335.2 1917.8 335.9 1920.0 336.1C1922.3 336.3 1929.3 337.1 1931.6 337.1C1934.0 337.0 1940.9 335.9 1943.2 335.6C1945.6 335.4 1952.3 334.8 1954.8 334.6C1957.4 334.5 1965.3 334.5 1968.4 334.4C1971.5 334.4 1983.9 334.2 1985.6 334.2"/>
<path class="bd dn" d="M1807.5 323.2C1807.9 323.1 1810.6 322.4 1811.7 322.1C1812.8 321.8 1817.1 320.5 1818.5 320.1C1819.9 319.8 1823.9 318.8 1825.3 318.7C1826.6 318.6 1830.7 318.7 1832.0 319.2C1833.4 319.6 1837.5 322.0 1838.8 323.0C1840.2 324.1 1844.2 328.1 1845.6 329.3C1846.9 330.6 1851.0 334.5 1852.3 335.6C1853.7 336.7 1857.7 339.3 1859.1 340.0C1860.6 340.6 1865.1 341.6 1866.8 341.9C1868.6 342.2 1874.6 342.8 1876.5 342.9C1878.5 343.0 1884.3 342.9 1886.2 342.9C1888.1 342.8 1894.2 342.5 1895.9 342.4C1897.5 342.2 1901.3 341.6 1902.6 341.4C1903.9 341.3 1907.8 340.9 1908.9 340.9C1910.0 340.9 1912.3 341.2 1913.3 341.4C1914.2 341.7 1917.4 343.0 1918.1 343.4C1918.8 343.7 1919.8 344.8 1920.0 345.0"/>
<path class="bd dn" d="M1807.5 325.5C1807.8 325.2 1809.8 322.9 1810.8 322.1C1811.8 321.2 1816.2 317.6 1817.5 316.8C1818.9 315.9 1822.9 313.7 1824.3 313.4C1825.8 313.0 1830.6 312.7 1832.0 313.2C1833.5 313.7 1837.5 317.0 1838.8 318.2C1840.2 319.4 1844.2 323.5 1845.6 325.0C1846.9 326.4 1851.1 331.5 1852.3 332.7C1853.6 334.0 1857.1 336.7 1858.2 337.6C1859.2 338.4 1862.1 340.7 1863.0 341.4C1863.8 342.2 1866.5 344.6 1866.8 345.0"/>
<path class="bd dn" d="M1807.5 336.4C1807.5 336.4 1807.3 336.0 1807.9 335.6C1808.4 335.2 1811.6 332.7 1812.7 332.2C1813.8 331.8 1817.3 330.8 1818.5 331.0C1819.7 331.1 1823.1 332.9 1824.3 333.7C1825.6 334.4 1829.8 337.6 1831.1 338.5C1832.3 339.4 1835.8 341.7 1836.9 342.4C1837.9 343.0 1841.2 344.7 1841.7 345.0"/>
<path class="bd dn" d="M1807.5 343.3C1807.8 343.2 1809.9 342.2 1810.8 342.2C1811.7 342.2 1815.7 343.1 1816.6 343.4C1817.5 343.6 1819.6 344.8 1820.0 345.0"/>
<path class="bd dn" d="M1887.2 345.0C1888.1 344.8 1895.1 343.2 1896.8 342.9C1898.6 342.5 1903.4 341.6 1904.6 341.4C1905.8 341.2 1908.5 341.2 1908.9 341.2"/>
<path class="bd dn" d="M1916.7 345.0C1917.5 344.9 1922.6 343.9 1924.9 343.8C1927.1 343.7 1936.0 343.9 1939.4 343.8C1942.8 343.7 1954.8 342.9 1958.7 342.9C1962.6 342.8 1975.4 343.1 1978.0 343.4C1980.7 343.6 1984.8 345.2 1985.6 345.4"/>
<path class="bd dn" d="M1624.3 345.6C1625.6 345.9 1635.1 348.3 1637.3 348.9C1639.6 349.4 1645.1 351.0 1647.0 351.3C1648.9 351.6 1654.7 351.9 1656.7 351.8C1658.6 351.6 1664.4 350.5 1666.3 349.8C1668.3 349.2 1675.1 345.5 1676.0 345.0"/>
<path class="bd dn" d="M1634.9 345.0C1636.1 345.4 1644.8 348.8 1647.0 349.4C1649.2 349.9 1654.7 350.8 1656.7 350.8C1658.6 350.8 1664.6 349.4 1666.3 348.9C1668.1 348.3 1673.3 345.4 1674.1 345.0"/>
<path class="bd dn" d="M1624.3 355.1C1625.1 355.4 1630.7 357.0 1632.5 357.6C1634.3 358.1 1640.4 360.5 1642.2 360.9C1643.9 361.4 1648.5 362.2 1649.9 362.4C1651.4 362.6 1655.2 362.8 1656.7 362.7C1658.1 362.6 1662.9 361.9 1664.4 361.4C1666.0 361.0 1670.6 359.3 1672.2 358.5C1673.7 357.8 1678.3 355.1 1679.9 354.2C1681.4 353.3 1686.3 350.7 1687.6 349.8C1689.0 349.0 1692.7 346.5 1693.4 346.0C1694.1 345.5 1694.7 345.1 1694.9 345.0"/>
<path class="bd dn" d="M1624.3 380.8C1625.1 380.5 1630.7 378.9 1632.5 378.4C1634.3 377.8 1640.2 375.9 1642.2 375.5C1644.1 375.0 1650.2 374.4 1651.8 374.0C1653.5 373.6 1657.2 372.3 1658.6 371.6C1660.1 370.9 1664.8 367.9 1666.3 366.8C1667.9 365.6 1672.5 361.7 1674.1 360.5C1675.6 359.2 1680.3 355.4 1681.8 354.2C1683.4 353.0 1688.0 349.8 1689.5 348.9C1691.1 348.0 1696.9 345.6 1697.8 345.2"/>
<path class="bd dn" d="M1624.3 391.4C1625.1 391.0 1630.7 388.5 1632.5 387.6C1634.3 386.6 1640.2 383.2 1642.2 382.2C1644.1 381.2 1649.9 378.1 1651.8 377.4C1653.8 376.7 1659.6 375.6 1661.5 375.0C1663.4 374.4 1669.5 372.4 1671.2 371.6C1672.8 370.8 1676.5 368.0 1678.0 366.8C1679.4 365.6 1684.3 360.8 1685.7 359.5C1687.0 358.2 1690.3 354.6 1691.5 353.7C1692.7 352.8 1695.9 350.8 1697.3 350.3C1698.6 349.8 1703.3 349.1 1705.0 348.9C1706.8 348.7 1712.8 348.5 1714.7 348.4C1716.6 348.3 1722.4 347.9 1724.4 347.9C1726.3 347.9 1732.1 348.6 1734.0 348.9C1736.0 349.1 1742.0 350.1 1743.7 350.3C1745.4 350.5 1750.0 350.5 1751.4 350.8C1752.9 351.1 1756.9 353.1 1758.2 353.7C1759.6 354.3 1763.7 356.2 1765.0 356.6C1766.2 357.0 1769.6 357.9 1770.8 358.1C1771.9 358.2 1775.2 358.5 1776.4 358.5C1777.5 358.5 1781.0 358.2 1782.4 358.1C1783.8 357.9 1788.7 357.0 1790.1 356.6C1791.6 356.2 1795.5 354.2 1796.9 353.7C1798.2 353.2 1802.6 351.6 1803.7 351.3C1804.7 351.0 1807.1 350.9 1807.5 350.8"/>
<path class="bd dn" d="M1624.3 392.4C1625.1 392.3 1630.7 392.1 1632.5 391.9C1634.3 391.7 1640.2 391.0 1642.2 390.4C1644.1 389.9 1649.9 387.5 1651.8 386.6C1653.8 385.7 1659.6 382.7 1661.5 381.7C1663.4 380.8 1669.2 378.3 1671.2 377.4C1673.1 376.5 1679.0 374.0 1680.8 373.0C1682.7 372.1 1687.9 369.3 1689.5 368.2C1691.2 367.1 1695.7 363.6 1697.3 362.4C1698.8 361.2 1703.5 357.7 1705.0 356.6C1706.6 355.5 1711.3 352.5 1712.8 351.8C1714.2 351.0 1718.2 349.7 1719.5 349.4C1720.9 349.0 1724.8 348.2 1726.3 347.9C1727.8 347.6 1733.0 346.3 1734.0 346.0C1735.0 345.7 1736.2 345.1 1736.5 345.0"/>
<path class="bd dn" d="M1655.2 395.0C1656.1 394.5 1662.7 391.4 1664.4 390.4C1666.1 389.5 1670.5 386.5 1672.2 385.6C1673.8 384.7 1679.1 382.8 1680.8 381.7C1682.6 380.7 1687.9 376.3 1689.5 375.0C1691.2 373.6 1695.7 369.4 1697.3 368.2C1698.8 367.0 1703.6 363.8 1705.0 362.9C1706.5 362.0 1710.2 359.8 1711.8 359.5C1713.3 359.2 1718.7 359.6 1720.5 359.5C1722.2 359.4 1727.7 359.0 1729.2 358.5C1730.7 358.1 1734.5 355.7 1736.0 355.1C1737.4 354.6 1742.2 352.9 1743.7 352.7C1745.2 352.5 1750.0 352.8 1751.4 353.2C1752.9 353.6 1756.9 356.0 1758.2 356.6C1759.6 357.2 1763.7 359.1 1765.0 359.5C1766.2 359.9 1769.6 360.3 1770.8 360.5C1771.9 360.6 1775.2 360.9 1776.4 360.9C1777.5 360.9 1780.9 360.5 1782.4 360.5C1783.9 360.4 1789.6 360.2 1791.1 360.5C1792.5 360.8 1795.6 362.7 1796.9 363.4C1798.1 364.0 1802.6 366.7 1803.7 367.2C1804.7 367.8 1807.1 368.6 1807.5 368.7"/>
<path class="bd dn" d="M1668.3 395.0C1669.1 394.4 1674.5 389.7 1676.0 388.5C1677.6 387.3 1682.4 383.6 1683.8 382.7C1685.1 381.8 1688.2 379.9 1689.5 379.3C1690.9 378.8 1695.7 378.0 1697.3 377.4C1698.8 376.8 1703.5 374.4 1705.0 373.5C1706.6 372.6 1711.2 369.2 1712.8 368.2C1714.3 367.2 1718.9 364.5 1720.5 363.9C1722.0 363.2 1726.7 361.4 1728.2 361.4C1729.8 361.5 1734.4 363.8 1736.0 364.3C1737.5 364.9 1742.1 366.9 1743.7 367.2C1745.3 367.6 1750.9 368.0 1752.4 367.7C1753.9 367.4 1757.7 364.8 1759.2 364.3C1760.6 363.9 1765.6 363.0 1766.9 362.9C1768.3 362.7 1771.8 362.8 1772.7 362.9C1773.7 362.9 1775.4 363.3 1776.4 363.4C1777.3 363.4 1781.0 363.1 1782.4 363.4C1783.8 363.6 1788.7 365.3 1790.1 365.8C1791.6 366.3 1795.5 367.9 1796.9 368.2C1798.2 368.5 1802.6 368.8 1803.7 368.7C1804.7 368.6 1807.1 367.3 1807.5 367.2"/>
<path class="bd dn" d="M1685.7 395.0C1686.5 394.4 1691.9 389.7 1693.4 388.5C1695.0 387.3 1699.6 383.8 1701.2 382.7C1702.7 381.6 1707.3 378.4 1708.9 377.4C1710.4 376.4 1715.1 373.8 1716.6 373.0C1718.2 372.3 1723.2 370.5 1724.4 370.1C1725.5 369.8 1727.1 369.1 1728.2 369.2C1729.4 369.2 1734.4 370.2 1736.0 370.6C1737.5 371.0 1742.2 372.9 1743.7 373.0C1745.2 373.2 1750.0 372.5 1751.4 372.1C1752.9 371.7 1756.9 369.8 1758.2 369.2C1759.6 368.5 1763.7 366.3 1765.0 365.8C1766.2 365.3 1769.6 364.4 1770.8 364.3C1771.9 364.2 1775.2 364.7 1776.4 364.8C1777.5 365.0 1781.2 365.4 1782.4 365.8C1783.6 366.2 1787.0 368.4 1788.2 369.2C1789.3 369.9 1792.8 372.4 1794.0 373.0C1795.1 373.7 1798.6 375.7 1799.8 375.9C1800.9 376.1 1804.8 375.1 1805.6 375.0C1806.4 374.8 1807.3 374.4 1807.5 374.3"/>
<path class="bd dn" d="M1689.5 395.0C1690.3 394.4 1695.7 390.2 1697.3 389.0C1698.8 387.8 1703.5 384.3 1705.0 383.2C1706.6 382.1 1711.2 379.2 1712.8 378.4C1714.3 377.5 1718.9 375.5 1720.5 375.0C1722.0 374.5 1726.7 373.5 1728.2 373.5C1729.8 373.5 1734.4 374.6 1736.0 375.0C1737.5 375.4 1742.2 377.3 1743.7 377.4C1745.2 377.5 1750.0 376.5 1751.4 375.9C1752.9 375.4 1757.0 372.9 1758.2 372.1C1759.5 371.2 1762.9 368.4 1764.0 367.7C1765.1 367.0 1768.4 365.6 1768.8 365.3"/>
<path class="bd dn" d="M1695.8 395.0C1696.6 394.4 1701.6 389.8 1703.1 388.5C1704.6 387.2 1709.3 382.9 1710.8 381.7C1712.4 380.6 1716.8 377.5 1718.6 376.9C1720.3 376.3 1726.5 376.0 1728.2 375.9C1730.0 375.9 1734.4 376.1 1736.0 376.4C1737.5 376.7 1742.2 378.8 1743.7 378.8C1745.2 378.9 1750.1 377.4 1751.4 376.9C1752.8 376.4 1756.1 374.7 1757.2 374.0C1758.4 373.3 1762.5 370.1 1763.0 369.7"/>
<path class="bd dn" d="M1705.5 395.0C1705.9 394.3 1708.9 388.9 1709.9 387.6C1710.8 386.2 1713.7 382.7 1714.7 381.7C1715.7 380.8 1719.0 378.3 1719.5 377.9"/>
<path class="bd dn" d="M1708.4 395.0C1709.2 394.3 1715.0 388.7 1716.6 387.6C1718.2 386.4 1722.9 383.9 1724.4 383.2C1725.8 382.5 1730.0 381.1 1731.1 380.8C1732.3 380.4 1734.9 379.7 1736.0 379.8C1737.0 379.9 1740.7 381.5 1741.8 381.7C1742.8 382.0 1745.4 382.4 1746.6 382.2C1747.8 382.0 1752.0 380.2 1753.4 379.8C1754.7 379.4 1758.9 377.7 1760.1 377.9C1761.4 378.1 1764.8 380.9 1765.9 381.7C1767.1 382.6 1770.7 385.5 1771.7 386.1C1772.8 386.7 1775.3 387.6 1776.4 387.6C1777.4 387.5 1781.3 386.1 1782.4 385.6C1783.5 385.1 1786.3 383.3 1787.2 382.7C1788.1 382.1 1790.2 379.7 1791.1 379.8C1792.0 379.9 1795.1 382.8 1795.9 383.7C1796.8 384.6 1798.9 387.5 1799.8 388.5C1800.6 389.5 1803.8 392.7 1804.6 393.4C1805.4 394.0 1807.4 394.8 1807.7 395.0"/>
<path class="bd dn" d="M1732.1 395.0C1732.8 394.7 1737.5 392.9 1738.9 392.4C1740.2 391.9 1744.2 390.6 1745.6 390.0C1747.1 389.3 1751.9 386.2 1753.4 385.6C1754.8 385.0 1758.9 383.7 1760.1 383.7C1761.4 383.7 1764.8 385.3 1765.9 385.6C1767.1 385.9 1770.7 386.9 1771.7 387.1C1772.8 387.3 1775.3 387.6 1776.4 387.6C1777.4 387.5 1780.9 387.1 1782.4 386.6C1783.9 386.1 1789.6 382.9 1791.1 382.7C1792.5 382.5 1795.8 383.9 1796.9 384.6C1797.9 385.4 1800.8 389.6 1801.7 390.4C1802.7 391.3 1806.1 393.2 1806.5 393.6"/>
<path class="bd dn" d="M1744.2 395.0C1744.9 394.4 1750.0 390.6 1751.4 389.5C1752.8 388.3 1756.9 384.8 1758.2 383.7C1759.6 382.5 1763.7 378.9 1765.0 377.9C1766.2 376.8 1769.6 373.9 1770.8 373.0C1771.9 372.2 1775.2 369.7 1776.4 369.7C1777.5 369.7 1781.2 372.1 1782.4 373.0C1783.6 374.0 1787.0 378.1 1788.2 378.8C1789.3 379.6 1792.8 380.5 1794.0 380.8C1795.1 381.1 1798.6 381.6 1799.8 381.7C1800.9 381.9 1804.8 382.2 1805.6 382.2C1806.4 382.2 1807.3 381.8 1807.5 381.8"/>
<path class="bd dn" d="M1751.4 378.8C1752.1 378.4 1756.9 375.0 1758.2 374.0C1759.6 373.0 1763.7 369.9 1765.0 369.2C1766.2 368.4 1769.6 367.1 1770.8 366.8C1771.9 366.4 1775.2 365.8 1776.4 365.8C1777.5 365.8 1781.2 366.3 1782.4 366.8C1783.6 367.2 1787.0 369.3 1788.2 370.1C1789.3 371.0 1792.8 374.0 1794.0 375.0C1795.1 375.9 1798.6 379.1 1799.8 379.8C1800.9 380.5 1805.0 381.5 1805.6 381.7"/>
<path class="bd dn" d="M1748.0 345.0C1748.6 345.5 1752.2 349.0 1753.4 349.8C1754.6 350.7 1758.7 353.1 1760.1 353.7C1761.6 354.3 1766.2 355.8 1767.9 356.1C1769.5 356.5 1774.7 357.1 1776.4 357.1C1778.0 357.0 1782.8 356.1 1784.3 355.6C1785.8 355.2 1789.8 353.4 1791.1 352.7C1792.3 352.1 1795.9 349.6 1796.9 348.9C1797.8 348.1 1800.4 345.4 1800.8 345.0"/>
<path class="bd dn" d="M1756.3 345.0C1756.9 345.4 1761.7 348.3 1763.0 348.9C1764.4 349.4 1768.5 350.6 1769.8 350.8C1771.1 351.0 1775.0 351.3 1776.4 351.3C1777.7 351.3 1782.0 351.0 1783.3 350.8C1784.7 350.6 1789.1 349.4 1790.1 348.9C1791.1 348.3 1793.2 345.4 1793.5 345.0"/>
<path class="bd dn" d="M1765.5 345.0C1766.0 345.2 1769.7 347.3 1770.8 347.4C1771.9 347.6 1775.2 346.4 1776.4 346.4C1777.5 346.5 1781.3 347.9 1782.4 347.7C1783.4 347.6 1786.3 345.3 1786.7 345.0"/>
<path class="bd dn" d="M1807.5 350.8C1808.1 350.8 1812.1 350.3 1813.7 350.3C1815.3 350.3 1821.4 350.7 1823.3 350.8C1825.3 350.9 1831.1 351.2 1833.0 351.3C1834.9 351.4 1840.7 351.6 1842.7 351.8C1844.6 352.0 1850.4 352.8 1852.3 353.2C1854.3 353.6 1860.1 355.2 1862.0 355.6C1864.0 356.1 1870.0 357.4 1871.7 357.6C1873.4 357.7 1877.9 357.2 1879.4 357.1C1881.0 357.0 1885.4 356.6 1887.2 356.6C1888.9 356.6 1894.7 357.0 1896.8 357.1C1899.0 357.1 1907.1 356.8 1908.9 357.1C1910.7 357.3 1913.9 358.8 1915.2 359.5C1916.5 360.2 1920.6 363.3 1922.0 364.3C1923.3 365.4 1927.4 369.0 1928.7 370.1C1930.1 371.3 1934.1 374.8 1935.5 375.9C1936.9 377.1 1940.9 380.6 1942.3 381.7C1943.6 382.9 1947.8 386.7 1949.0 387.6C1950.3 388.4 1953.7 390.1 1954.8 390.4C1956.0 390.8 1959.3 391.1 1960.6 391.4C1962.0 391.7 1966.6 393.1 1968.4 393.4C1970.1 393.6 1976.3 393.8 1978.0 393.8C1979.8 393.8 1984.8 393.4 1985.6 393.4"/>
<path class="bd dn" d="M1807.5 352.5C1808.6 352.4 1815.9 351.8 1818.5 351.8C1821.1 351.7 1830.8 352.0 1833.0 352.2C1835.2 352.5 1839.2 353.6 1840.7 354.2C1842.3 354.8 1846.9 357.6 1848.5 358.5C1850.0 359.5 1854.7 362.5 1856.2 363.4C1857.8 364.2 1862.4 366.5 1864.0 367.2C1865.5 368.0 1870.1 370.5 1871.7 371.1C1873.2 371.7 1877.9 373.2 1879.4 373.5C1881.0 373.8 1885.6 374.1 1887.2 374.0C1888.7 373.9 1893.3 372.9 1894.9 372.6C1896.4 372.2 1901.2 370.8 1902.6 370.6C1904.0 370.4 1907.7 370.3 1908.9 370.3C1910.2 370.3 1913.8 370.3 1915.2 370.6C1916.6 370.9 1921.5 372.4 1922.9 373.0C1924.4 373.7 1928.3 376.0 1929.7 376.9C1931.1 377.8 1935.2 380.9 1936.5 381.7C1937.7 382.6 1941.0 385.0 1942.3 385.6C1943.5 386.2 1947.8 387.5 1949.0 387.6C1950.3 387.6 1953.7 387.0 1954.8 386.6C1956.0 386.1 1959.5 383.5 1960.6 383.2C1961.8 382.9 1965.2 383.3 1966.4 383.7C1967.7 384.0 1971.9 385.9 1973.2 386.6C1974.6 387.3 1978.7 389.9 1980.0 390.4C1981.2 391.0 1985.0 392.2 1985.6 392.4"/>
<path class="bd dn" d="M1820.0 345.0C1820.8 345.3 1826.4 347.5 1828.2 347.9C1830.0 348.3 1835.9 349.2 1837.8 349.4C1839.8 349.5 1845.6 349.2 1847.5 349.4C1849.4 349.5 1855.2 350.5 1857.2 350.8C1859.1 351.1 1864.9 352.0 1866.8 352.2C1868.8 352.5 1874.8 353.5 1876.5 353.7C1878.3 353.9 1882.8 354.3 1884.3 354.2C1885.7 354.0 1889.8 352.7 1891.0 352.2C1892.3 351.8 1895.7 350.2 1896.8 349.8C1898.0 349.4 1901.4 348.5 1902.6 348.4C1903.8 348.2 1907.8 348.3 1908.9 348.4C1910.1 348.5 1913.1 349.0 1914.2 349.4C1915.3 349.7 1918.8 351.2 1920.0 351.8C1921.3 352.3 1925.3 354.5 1926.8 355.1C1928.3 355.8 1933.0 357.6 1934.5 358.1C1936.1 358.5 1940.6 359.7 1942.3 360.0C1943.9 360.2 1949.3 360.6 1951.0 360.5C1952.6 360.3 1957.2 359.1 1958.7 358.5C1960.3 358.0 1964.9 355.4 1966.4 354.7C1968.0 353.9 1972.7 351.5 1974.2 350.8C1975.6 350.1 1979.8 348.4 1981.0 347.9C1982.1 347.4 1985.1 345.6 1985.6 345.4"/>
<path class="bd dn" d="M1841.7 345.0C1842.4 345.4 1847.1 348.0 1848.5 348.9C1849.8 349.7 1853.9 352.8 1855.2 353.7C1856.6 354.6 1860.6 356.9 1862.0 357.6C1863.5 358.2 1868.2 359.8 1869.8 360.5C1871.3 361.1 1875.9 363.5 1877.5 364.3C1879.0 365.2 1883.7 367.9 1885.2 368.7C1886.8 369.5 1891.4 371.3 1893.0 372.1C1894.5 372.8 1899.1 375.7 1900.7 376.4C1902.3 377.2 1907.5 379.4 1908.9 379.8C1910.4 380.2 1913.8 380.2 1915.2 380.3C1916.6 380.4 1921.5 380.5 1922.9 380.8C1924.4 381.0 1928.3 382.1 1929.7 382.7C1931.1 383.3 1935.3 385.8 1936.5 386.6C1937.6 387.4 1940.8 390.1 1941.3 390.4"/>
<path class="bd dn" d="M1807.5 367.2C1807.8 367.0 1809.7 366.0 1810.8 365.3C1811.9 364.6 1817.0 361.3 1818.5 360.5C1820.0 359.6 1823.9 357.2 1825.3 356.8C1826.6 356.4 1830.8 356.3 1832.0 356.8C1833.3 357.3 1836.6 360.6 1837.8 361.4C1839.1 362.3 1843.2 364.8 1844.6 365.3C1846.1 365.8 1850.8 366.0 1852.3 366.3C1853.9 366.5 1858.5 367.1 1860.1 367.7C1861.6 368.3 1866.3 371.2 1867.8 372.1C1869.4 373.0 1874.0 375.9 1875.5 376.9C1877.1 377.9 1881.7 380.8 1883.3 381.7C1884.8 382.7 1889.7 385.6 1891.0 386.6C1892.4 387.5 1895.8 390.6 1896.8 391.4C1897.9 392.3 1901.2 394.6 1901.7 395.0"/>
<path class="bd dn" d="M1807.5 368.7C1807.9 368.8 1810.5 369.3 1811.7 369.2C1812.9 369.1 1817.8 368.0 1819.5 367.7C1821.1 367.4 1826.3 366.5 1828.2 366.3C1830.0 366.1 1835.9 365.7 1837.8 365.8C1839.8 365.8 1845.5 366.6 1847.5 366.8C1849.5 367.0 1856.3 367.3 1858.2 367.7C1860.0 368.2 1864.3 370.3 1865.9 371.1C1867.4 371.9 1872.1 375.0 1873.6 375.9C1875.2 376.9 1879.8 379.9 1881.3 380.8C1882.9 381.6 1887.6 384.2 1889.1 384.6C1890.5 385.1 1894.5 385.2 1895.9 385.1C1897.2 385.0 1901.3 384.1 1902.6 383.7C1903.9 383.2 1907.6 381.2 1908.9 380.8C1910.3 380.3 1914.7 379.5 1916.2 379.3C1917.7 379.1 1922.4 378.7 1923.9 378.8C1925.4 379.0 1929.4 380.1 1930.7 380.8C1931.9 381.5 1935.3 384.9 1936.5 385.6C1937.6 386.3 1941.0 387.8 1942.3 388.0C1943.5 388.2 1948.4 387.6 1949.0 387.6"/>
<path class="bd dn" d="M1807.5 374.3C1807.8 374.3 1809.8 374.2 1810.8 374.0C1811.8 373.8 1816.2 372.4 1817.5 372.1C1818.9 371.7 1822.9 370.8 1824.3 370.6C1825.8 370.4 1830.7 370.1 1832.0 370.3C1833.4 370.5 1836.6 371.9 1837.8 372.6C1839.1 373.2 1843.3 375.8 1844.6 376.9C1846.0 378.0 1850.0 382.4 1851.4 383.7C1852.7 384.9 1856.7 388.6 1858.2 389.5C1859.6 390.4 1864.3 392.0 1865.9 392.4C1867.4 392.8 1872.1 393.3 1873.6 393.4C1875.2 393.4 1879.8 393.0 1881.3 392.9C1882.9 392.8 1887.7 392.3 1889.1 392.4C1890.4 392.4 1894.1 393.1 1894.9 393.4C1895.7 393.6 1897.1 394.8 1897.3 395.0"/>
<path class="bd dn" d="M1807.5 375.4C1807.8 375.4 1809.8 375.2 1810.8 375.0C1811.8 374.7 1816.2 373.4 1817.5 373.0C1818.9 372.7 1822.9 371.5 1824.3 371.3C1825.8 371.1 1830.7 371.0 1832.0 371.3C1833.4 371.6 1836.7 373.3 1837.8 374.0C1839.0 374.8 1842.5 377.8 1843.6 378.8C1844.8 379.9 1848.3 383.6 1849.5 384.6C1850.6 385.7 1854.0 388.7 1855.2 389.5C1856.5 390.3 1861.0 392.3 1862.0 392.9C1863.0 393.4 1865.1 394.5 1865.4 394.7"/>
<path class="bd dn" d="M1807.5 379.4C1807.9 379.3 1810.6 378.9 1811.7 378.8C1812.8 378.7 1817.2 378.1 1818.5 378.4C1819.8 378.6 1823.1 380.4 1824.3 381.3C1825.6 382.1 1829.7 385.6 1831.1 386.6C1832.4 387.6 1836.5 390.6 1837.8 391.4C1839.1 392.3 1843.5 394.6 1844.1 395.0"/>
<path class="bd dn" d="M1807.5 381.8C1807.9 381.7 1810.6 381.6 1811.7 381.3C1812.8 381.0 1817.2 378.7 1818.5 378.8C1819.8 379.0 1823.1 381.8 1824.3 382.7C1825.6 383.6 1829.8 386.7 1831.1 387.6C1832.3 388.4 1835.5 390.6 1836.9 391.4C1838.2 392.2 1843.8 395.1 1844.6 395.5"/>
<path class="bd dn" d="M1806.5 393.6C1807.3 393.5 1811.8 393.2 1813.7 393.4C1815.5 393.5 1823.7 394.8 1824.8 395.0"/>
<path class="bd dn" d="M1916.7 345.0C1917.2 345.5 1920.9 348.7 1922.0 349.8C1923.1 351.0 1926.6 355.2 1927.8 356.6C1928.9 358.0 1932.4 362.2 1933.6 363.4C1934.7 364.6 1938.2 368.0 1939.4 368.7C1940.5 369.4 1944.2 370.5 1945.2 370.6C1946.1 370.8 1948.1 370.7 1949.0 370.3C1950.0 370.0 1953.5 368.0 1954.8 367.2C1956.2 366.4 1961.0 363.3 1962.6 362.4C1964.1 361.5 1968.8 359.2 1970.3 358.5C1971.9 357.9 1976.5 356.2 1978.0 355.8C1979.6 355.5 1984.8 355.2 1985.6 355.1"/>
<path class="bd dn" d="M1920.0 345.0C1920.5 345.6 1923.8 349.5 1924.9 350.8C1925.9 352.1 1929.5 356.2 1930.7 357.6C1931.8 358.9 1935.4 363.1 1936.5 364.3C1937.5 365.5 1940.3 368.9 1941.3 369.7C1942.3 370.4 1945.1 371.6 1946.1 372.1C1947.2 372.5 1950.7 373.5 1951.9 374.0C1953.2 374.5 1957.3 376.5 1958.7 376.9C1960.2 377.3 1964.9 377.8 1966.4 377.9C1968.0 378.0 1972.7 377.7 1974.2 377.9C1975.6 378.1 1979.8 379.5 1981.0 379.8C1982.1 380.1 1985.1 381.1 1985.6 381.3"/>
<path class="bd dn" d="M1866.8 345.0C1867.5 345.2 1872.2 346.8 1873.6 346.9C1875.1 347.0 1880.0 346.2 1881.3 346.0C1882.7 345.8 1886.6 345.1 1887.2 345.0"/>
<path class="bd dn" d="M1624.3 398.9C1625.1 399.0 1630.9 400.1 1632.5 400.3C1634.1 400.6 1638.7 401.3 1640.2 401.3C1641.8 401.2 1646.3 400.3 1648.0 399.8C1649.6 399.3 1655.0 396.8 1656.7 396.4C1658.3 396.1 1663.2 396.1 1664.4 396.0C1665.6 395.8 1667.9 395.1 1668.3 395.0"/>
<path class="bd dn" d="M1624.3 399.8C1625.1 399.7 1630.9 399.0 1632.5 398.9C1634.1 398.7 1638.6 398.6 1640.2 398.4C1641.9 398.1 1647.4 396.8 1648.9 396.4C1650.4 396.1 1654.6 395.1 1655.2 395.0"/>
<path class="bd dn" d="M1624.3 404.2C1624.9 404.5 1629.3 406.9 1630.6 407.6C1631.9 408.2 1635.8 410.6 1637.3 410.9C1638.9 411.3 1644.1 411.4 1646.0 411.4C1648.0 411.4 1654.8 411.3 1656.7 410.9C1658.5 410.6 1662.9 408.3 1664.4 407.6C1666.0 406.8 1670.6 404.1 1672.2 403.2C1673.7 402.4 1678.5 399.7 1679.9 398.9C1681.2 398.0 1685.1 395.4 1685.7 395.0"/>
<path class="bd dn" d="M1624.3 415.3C1625.1 415.2 1630.7 414.1 1632.5 413.9C1634.3 413.6 1640.2 413.0 1642.2 412.9C1644.1 412.8 1649.6 412.8 1651.8 412.9C1654.1 412.9 1662.4 413.7 1664.4 413.4C1666.4 413.1 1670.8 410.8 1672.2 410.0C1673.5 409.2 1676.8 406.6 1678.0 405.6C1679.1 404.7 1682.6 401.9 1683.8 400.8C1684.9 399.7 1689.0 395.6 1689.5 395.0"/>
<path class="bd dn" d="M1624.3 420.6C1625.1 420.6 1630.9 420.4 1632.5 420.1C1634.1 419.8 1638.8 418.1 1640.2 417.7C1641.7 417.3 1645.8 416.3 1647.0 416.3C1648.2 416.3 1650.7 417.3 1651.8 417.7C1653.0 418.2 1657.4 420.1 1658.6 420.6C1659.9 421.2 1663.1 422.9 1664.4 423.2C1665.8 423.5 1670.8 424.0 1672.2 423.5C1673.5 423.0 1676.8 419.4 1678.0 418.2C1679.1 417.0 1682.6 412.9 1683.8 411.4C1684.9 410.0 1688.5 405.2 1689.5 403.7C1690.6 402.2 1693.8 397.8 1694.4 396.9C1695.0 396.1 1695.7 395.2 1695.8 395.0"/>
<path class="bd dn" d="M1624.3 423.0C1625.0 423.2 1630.3 424.2 1631.5 425.0C1632.7 425.7 1635.4 429.8 1636.4 430.8C1637.3 431.7 1640.0 434.0 1641.2 434.6C1642.4 435.3 1646.4 437.3 1648.0 437.6C1649.5 437.8 1655.0 437.3 1656.7 437.1C1658.3 436.9 1662.9 436.0 1664.4 435.6C1666.0 435.2 1670.8 433.9 1672.2 433.2C1673.5 432.5 1676.8 430.0 1678.0 428.8C1679.1 427.7 1682.6 423.5 1683.8 422.1C1684.9 420.7 1688.4 416.3 1689.5 414.8C1690.7 413.4 1694.2 409.0 1695.3 407.6C1696.5 406.2 1700.1 402.1 1701.2 400.8C1702.2 399.5 1705.1 395.6 1705.5 395.0"/>
<path class="bd dn" d="M1624.3 435.6C1625.1 435.6 1630.9 435.4 1632.5 435.6C1634.1 435.8 1638.9 437.1 1640.2 437.6C1641.6 438.0 1645.1 439.9 1646.0 440.4C1647.0 441.0 1649.5 442.8 1649.9 443.1"/>
<path class="bd dn" d="M1624.3 437.6C1625.1 437.6 1631.0 437.6 1632.5 438.0C1634.0 438.4 1638.2 440.9 1639.3 441.4C1640.3 441.9 1642.8 442.9 1643.1 443.1"/>
<path class="bd dn" d="M1649.9 443.1C1650.6 442.8 1655.2 441.1 1656.7 440.4C1658.1 439.8 1662.9 437.3 1664.4 436.6C1666.0 435.9 1670.8 434.4 1672.2 433.7C1673.5 433.0 1676.7 430.5 1678.0 429.3C1679.2 428.2 1683.5 423.5 1684.7 422.1C1686.0 420.7 1689.4 416.7 1690.5 415.3C1691.7 414.0 1695.2 409.9 1696.3 408.5C1697.5 407.2 1700.9 403.1 1702.1 401.8C1703.3 400.4 1707.8 395.7 1708.4 395.0"/>
<path class="bd dn" d="M1666.3 443.1C1667.0 442.6 1671.8 439.3 1673.1 438.5C1674.5 437.8 1678.6 436.3 1679.9 435.6C1681.1 434.9 1684.5 432.7 1685.7 431.7C1686.9 430.8 1690.3 427.2 1691.5 425.9C1692.7 424.7 1696.1 420.5 1697.3 419.2C1698.5 417.9 1701.9 414.0 1703.1 412.9C1704.2 411.8 1707.7 409.3 1708.9 408.5C1710.1 407.8 1713.5 406.1 1714.7 405.6C1715.9 405.2 1719.1 404.0 1720.5 403.7C1721.8 403.4 1726.8 402.9 1728.2 402.7C1729.7 402.5 1733.8 402.2 1735.0 401.8C1736.2 401.4 1739.0 399.4 1739.8 398.9C1740.7 398.3 1743.3 396.8 1743.7 396.4C1744.1 396.1 1744.1 395.1 1744.2 395.0"/>
<path class="bd dn" d="M1670.2 443.1C1670.9 442.7 1675.6 440.2 1677.0 439.5C1678.3 438.7 1682.5 436.6 1683.8 435.6C1685.0 434.6 1688.4 431.1 1689.5 429.8C1690.7 428.6 1694.2 424.4 1695.3 423.0C1696.5 421.7 1700.1 417.4 1701.2 416.3C1702.2 415.1 1705.0 412.3 1706.0 411.4C1707.0 410.6 1709.8 408.7 1710.8 408.1C1711.9 407.4 1715.5 405.3 1716.6 404.7C1717.8 404.0 1721.4 402.0 1722.4 401.3C1723.5 400.6 1726.3 398.5 1727.3 397.9C1728.2 397.3 1731.6 395.3 1732.1 395.0"/>
<path class="bd dn" d="M1676.0 443.1C1676.6 442.7 1680.7 440.4 1681.8 439.5C1683.0 438.5 1686.5 434.8 1687.6 433.7C1688.8 432.5 1692.3 429.0 1693.4 427.9C1694.6 426.7 1698.1 423.1 1699.2 422.1C1700.4 421.0 1703.9 418.1 1705.0 417.2C1706.2 416.4 1709.5 414.3 1710.8 413.9C1712.2 413.4 1716.8 413.0 1718.6 412.9C1720.3 412.7 1726.8 413.0 1728.2 412.4C1729.7 411.8 1732.1 407.8 1733.1 406.6C1734.0 405.4 1736.8 401.8 1737.9 400.8C1739.0 399.8 1742.3 396.9 1743.7 396.9C1745.1 396.9 1750.0 400.1 1751.4 400.8C1752.9 401.5 1756.7 403.4 1758.2 403.7C1759.8 404.0 1765.1 403.7 1766.9 403.7C1768.7 403.7 1774.6 403.9 1776.4 403.9C1778.1 403.9 1782.9 404.2 1784.3 404.2C1785.7 404.2 1788.9 404.3 1790.1 404.2C1791.4 404.0 1795.5 403.2 1796.9 402.7C1798.2 402.3 1802.6 399.3 1803.7 399.4C1804.7 399.4 1807.1 402.6 1807.5 402.9"/>
<path class="bd dn" d="M1683.8 443.1C1684.3 442.5 1688.4 438.7 1689.5 437.6C1690.7 436.4 1694.2 433.0 1695.3 431.7C1696.5 430.5 1700.0 426.2 1701.2 425.0C1702.3 423.7 1705.8 420.1 1707.0 419.2C1708.1 418.2 1711.4 415.7 1712.8 415.3C1714.1 414.9 1718.9 414.9 1720.5 414.8C1722.0 414.7 1727.0 414.6 1728.2 414.3C1729.5 414.1 1732.0 413.1 1733.1 412.4C1734.1 411.7 1737.8 408.4 1738.9 407.6C1739.9 406.7 1742.4 404.6 1743.7 404.2C1745.0 403.8 1750.0 403.7 1751.4 403.7C1752.9 403.7 1756.7 404.6 1758.2 404.7C1759.8 404.7 1765.1 404.5 1766.9 404.5C1768.7 404.4 1774.6 404.2 1776.4 404.2C1778.1 404.2 1782.8 404.6 1784.3 404.7C1785.8 404.7 1789.7 405.0 1791.1 404.9C1792.4 404.8 1796.6 404.2 1797.8 403.7C1799.1 403.2 1803.1 400.7 1803.7 400.3"/>
<path class="bd dn" d="M1708.9 443.1C1709.5 442.3 1713.5 437.1 1714.7 435.6C1715.9 434.1 1719.4 429.3 1720.5 427.9C1721.6 426.4 1724.5 422.1 1725.3 421.1C1726.2 420.1 1728.1 418.3 1729.2 417.7C1730.3 417.2 1734.5 416.0 1736.0 415.8C1737.4 415.5 1742.0 415.3 1743.7 415.3C1745.4 415.4 1751.4 416.0 1753.4 416.3C1755.3 416.5 1760.7 417.5 1763.0 417.7C1765.3 417.9 1774.3 418.0 1776.4 418.0C1778.5 418.1 1782.7 418.2 1784.3 418.2C1785.9 418.2 1790.5 417.6 1792.0 417.7C1793.6 417.8 1798.3 418.8 1799.8 419.2C1801.2 419.6 1805.8 421.3 1806.5 421.6C1807.3 421.9 1807.4 421.9 1807.5 422.0"/>
<path class="bd dn" d="M1712.8 443.1C1713.3 442.2 1717.4 436.4 1718.6 434.6C1719.7 432.8 1723.4 426.5 1724.4 425.0C1725.3 423.4 1727.1 419.9 1728.2 419.2C1729.4 418.4 1734.4 417.7 1736.0 417.7C1737.5 417.8 1742.2 419.3 1743.7 419.7C1745.2 420.0 1749.9 421.0 1751.4 421.1C1753.0 421.2 1757.6 420.5 1759.2 420.3C1760.7 420.1 1765.2 419.2 1766.9 419.0C1768.6 418.8 1774.6 418.2 1776.4 418.2C1778.1 418.2 1782.7 418.5 1784.3 418.7C1785.9 418.9 1790.5 419.8 1792.0 420.1C1793.6 420.5 1798.2 421.8 1799.8 422.1C1801.3 422.3 1806.7 422.6 1807.5 422.6"/>
<path class="bd dn" d="M1719.5 443.1C1720.1 442.6 1724.1 439.4 1725.3 438.5C1726.6 437.6 1730.7 434.8 1732.1 434.2C1733.5 433.5 1737.6 432.1 1738.9 431.7C1740.1 431.4 1743.3 431.0 1744.7 431.0C1746.0 431.0 1751.0 431.2 1752.4 431.6C1753.8 431.9 1757.3 434.2 1758.2 434.6C1759.1 435.1 1760.2 435.8 1761.1 435.8C1762.0 435.8 1765.8 434.9 1766.9 434.6C1768.1 434.4 1771.8 433.4 1772.7 433.2C1773.7 433.0 1775.4 432.8 1776.4 432.9C1777.3 433.0 1781.0 433.8 1782.4 434.2C1783.8 434.5 1788.8 436.2 1790.1 436.1C1791.5 436.0 1794.8 433.6 1795.9 433.2C1797.1 432.7 1800.6 431.6 1801.7 431.6C1802.9 431.5 1806.9 432.4 1807.5 432.5"/>
<path class="bd dn" d="M1727.3 443.1C1727.9 442.7 1732.6 439.7 1734.0 439.0C1735.5 438.3 1740.4 436.1 1741.8 435.6C1743.1 435.1 1746.5 434.3 1747.6 434.2C1748.6 434.0 1751.3 433.9 1752.4 434.2C1753.5 434.4 1757.3 436.2 1758.2 436.6C1759.1 436.9 1760.2 437.6 1761.1 437.6C1762.0 437.5 1765.8 436.4 1766.9 436.1C1768.1 435.8 1771.8 434.4 1772.7 434.2C1773.7 433.9 1775.4 433.6 1776.4 433.7C1777.3 433.8 1781.0 434.7 1782.4 435.1C1783.8 435.5 1788.8 437.6 1790.1 437.6C1791.5 437.5 1794.8 435.1 1795.9 434.6C1797.1 434.2 1800.6 432.8 1801.7 432.7C1802.9 432.7 1806.9 434.0 1807.5 434.2"/>
<path class="bd dn" d="M1807.5 399.9C1807.8 400.0 1809.8 400.0 1810.8 400.8C1811.8 401.6 1816.1 406.1 1817.5 407.6C1819.0 409.0 1823.7 414.6 1825.3 415.3C1826.8 416.0 1831.6 414.5 1833.0 414.3C1834.5 414.1 1838.5 413.5 1839.8 413.4C1841.0 413.3 1844.4 413.0 1845.6 413.4C1846.7 413.8 1850.2 416.3 1851.4 417.2C1852.5 418.2 1856.0 422.1 1857.2 423.0C1858.3 424.0 1861.7 426.2 1863.0 426.9C1864.2 427.6 1868.4 429.3 1869.8 429.8C1871.1 430.3 1875.2 431.8 1876.5 432.2C1877.9 432.6 1881.8 433.7 1883.3 433.7C1884.7 433.6 1889.5 432.2 1891.0 431.7C1892.6 431.3 1897.0 429.4 1898.8 428.8C1900.5 428.3 1907.0 426.4 1908.9 425.9C1910.8 425.5 1916.0 424.3 1918.1 424.0C1920.2 423.7 1927.6 423.2 1929.7 423.0C1931.8 422.9 1937.6 422.5 1939.4 422.6C1941.1 422.7 1945.6 423.5 1947.1 424.0C1948.7 424.5 1953.3 427.1 1954.8 427.9C1956.4 428.7 1961.0 431.2 1962.6 431.7C1964.1 432.3 1968.8 433.4 1970.3 433.7C1971.9 434.0 1976.5 434.5 1978.0 434.6C1979.6 434.8 1984.8 435.1 1985.6 435.1"/>
<path class="bd dn" d="M1807.5 402.9C1807.7 403.1 1808.9 403.9 1809.8 404.7C1810.7 405.4 1815.0 409.4 1816.6 410.5C1818.1 411.6 1823.6 415.3 1825.3 415.8C1826.9 416.3 1831.5 415.3 1833.0 415.3C1834.6 415.3 1839.3 415.4 1840.7 415.8C1842.2 416.2 1846.3 418.3 1847.5 419.2C1848.8 420.0 1852.1 423.0 1853.3 424.0C1854.5 425.0 1857.9 428.0 1859.1 428.8C1860.4 429.7 1864.4 432.1 1865.9 432.7C1867.3 433.3 1872.1 434.3 1873.6 434.6C1875.2 434.9 1879.8 435.7 1881.3 435.6C1882.9 435.5 1887.5 434.2 1889.1 433.7C1890.6 433.2 1895.3 431.4 1896.8 430.8C1898.4 430.2 1903.4 428.3 1904.6 427.9C1905.8 427.5 1907.6 426.9 1908.9 426.9C1910.3 427.0 1916.2 428.0 1918.1 428.4C1920.0 428.7 1925.6 430.2 1927.8 430.8C1929.9 431.3 1937.2 433.2 1939.4 433.7C1941.5 434.2 1947.5 435.1 1949.0 435.6C1950.6 436.1 1953.9 437.8 1954.8 438.5C1955.8 439.3 1958.3 442.6 1958.7 443.1"/>
<path class="bd dn" d="M1807.7 395.0C1808.5 395.4 1814.0 398.1 1815.6 398.9C1817.2 399.6 1821.7 401.6 1823.3 402.2C1825.0 402.9 1830.3 404.9 1832.0 405.6C1833.8 406.4 1839.1 408.6 1840.7 409.5C1842.4 410.4 1847.0 413.4 1848.5 414.3C1849.9 415.3 1853.9 418.2 1855.2 419.2C1856.6 420.1 1860.7 423.2 1862.0 424.0C1863.4 424.8 1867.4 426.9 1868.8 427.4C1870.1 427.9 1874.1 428.7 1875.5 428.8C1877.0 429.0 1881.7 428.9 1883.3 428.8C1884.8 428.7 1889.5 428.1 1891.0 427.9C1892.6 427.6 1897.0 426.6 1898.8 426.4C1900.5 426.2 1907.9 425.8 1908.9 425.8"/>
<path class="bd dn" d="M1824.8 395.0C1825.6 395.2 1831.5 396.7 1833.0 397.4C1834.5 398.1 1838.4 400.8 1839.8 401.8C1841.1 402.8 1845.3 406.4 1846.5 407.6C1847.8 408.7 1851.2 412.2 1852.3 413.4C1853.5 414.5 1857.0 418.0 1858.2 419.2C1859.3 420.3 1862.8 423.9 1864.0 425.0C1865.1 426.0 1868.6 429.0 1869.8 429.8C1870.9 430.6 1875.0 432.4 1875.5 432.7"/>
<path class="bd dn" d="M1844.1 395.0C1845.0 395.3 1850.8 397.2 1852.3 397.9C1853.9 398.6 1858.5 401.0 1860.1 401.8C1861.6 402.5 1866.3 404.9 1867.8 405.6C1869.4 406.4 1874.0 408.8 1875.5 409.5C1877.1 410.2 1881.9 412.1 1883.3 412.4C1884.6 412.7 1887.9 412.9 1889.1 412.9C1890.2 412.9 1893.6 412.8 1894.9 412.4C1896.1 412.0 1900.3 409.7 1901.7 409.0C1903.1 408.3 1907.5 406.2 1908.9 405.6C1910.4 405.1 1914.7 403.6 1916.2 403.2C1917.7 402.9 1922.4 402.2 1923.9 402.2C1925.4 402.2 1930.1 402.8 1931.6 403.2C1933.2 403.7 1938.0 405.9 1939.4 406.6C1940.7 407.3 1944.0 409.6 1945.2 410.5C1946.3 411.3 1949.8 414.4 1951.0 415.3C1952.1 416.2 1955.6 418.6 1956.8 419.2C1957.9 419.7 1961.2 420.5 1962.6 420.6C1963.9 420.7 1968.8 420.3 1970.3 420.3C1971.9 420.4 1976.5 420.9 1978.0 421.1C1979.6 421.3 1984.8 422.0 1985.6 422.1"/>
<path class="bd dn" d="M1844.6 395.5C1845.6 395.9 1852.5 398.5 1854.3 399.4C1856.0 400.2 1860.5 402.8 1862.0 403.7C1863.6 404.6 1868.2 407.2 1869.8 408.1C1871.3 408.9 1875.9 411.6 1877.5 412.4C1879.0 413.2 1883.6 415.3 1885.2 415.8C1886.9 416.3 1892.3 417.7 1893.9 417.7C1895.6 417.8 1900.2 416.6 1901.7 416.3C1903.2 416.0 1907.5 415.1 1908.9 414.8C1910.4 414.6 1914.7 414.1 1916.2 413.9C1917.7 413.7 1922.4 412.8 1923.9 412.9C1925.4 412.9 1930.1 414.0 1931.6 414.3C1933.2 414.7 1937.8 416.0 1939.4 416.3C1940.9 416.5 1945.6 416.8 1947.1 416.8C1948.7 416.7 1953.3 416.1 1954.8 415.8C1956.4 415.5 1961.0 414.2 1962.6 413.9C1964.1 413.6 1968.8 412.8 1970.3 412.9C1971.9 412.9 1976.5 414.1 1978.0 414.3C1979.6 414.6 1984.8 415.2 1985.6 415.3"/>
<path class="bd dn" d="M1865.4 394.7C1866.0 394.9 1870.3 397.1 1871.7 397.4C1873.1 397.7 1877.9 397.5 1879.4 397.4C1881.0 397.4 1885.8 396.6 1887.2 396.7C1888.5 396.9 1891.8 398.4 1893.0 398.9C1894.1 399.4 1897.6 401.3 1898.8 401.8C1899.9 402.3 1903.5 403.4 1904.6 403.7C1905.6 404.0 1907.8 404.4 1908.9 404.7C1910.1 405.0 1914.7 406.1 1916.2 406.6C1917.7 407.1 1922.4 408.8 1923.9 409.5C1925.4 410.2 1930.1 412.5 1931.6 413.4C1933.2 414.2 1937.8 417.3 1939.4 418.2C1940.9 419.1 1945.8 421.5 1947.1 422.1C1948.5 422.6 1951.8 423.7 1952.9 424.0C1954.1 424.3 1957.4 425.4 1958.7 425.5C1960.1 425.6 1964.9 425.1 1966.4 425.0C1968.0 424.8 1972.6 424.3 1974.2 424.0C1975.7 423.7 1980.8 422.4 1981.9 422.1C1983.1 421.8 1985.2 421.2 1985.6 421.1"/>
<path class="bd dn" d="M1897.3 395.0C1897.7 395.3 1900.5 397.8 1901.7 398.4C1902.8 399.0 1907.5 400.8 1908.9 401.3C1910.4 401.8 1914.8 403.2 1916.2 403.7C1917.6 404.2 1921.6 405.8 1922.9 406.1C1924.3 406.5 1928.2 407.1 1929.7 407.1C1931.2 407.1 1936.1 406.5 1937.4 406.1C1938.8 405.8 1942.1 403.7 1943.2 403.7C1944.4 403.7 1947.9 405.1 1949.0 405.6C1950.2 406.2 1953.7 409.0 1954.8 409.5C1956.0 410.0 1959.5 410.9 1960.6 410.9C1961.8 410.9 1965.2 410.0 1966.4 409.5C1967.7 409.0 1971.9 406.5 1973.2 405.6C1974.6 404.8 1978.7 402.0 1980.0 401.3C1981.2 400.6 1985.0 399.1 1985.6 398.9"/>
<path class="bd dn" d="M1807.5 422.6C1807.9 422.7 1810.6 422.8 1811.7 423.0C1812.8 423.3 1817.2 424.7 1818.5 425.0C1819.8 425.3 1823.1 425.6 1824.3 425.9C1825.5 426.3 1828.9 428.1 1830.1 428.8C1831.3 429.6 1834.8 432.7 1835.9 433.7C1837.1 434.6 1840.6 437.6 1841.7 438.5C1842.8 439.4 1846.1 442.6 1846.5 443.1"/>
<path class="bd dn" d="M1807.5 422.0C1807.9 422.0 1810.6 422.1 1811.7 422.1C1812.8 422.0 1817.1 421.5 1818.5 421.6C1819.9 421.6 1824.0 421.9 1825.3 422.6C1826.5 423.2 1829.9 426.9 1831.1 427.9C1832.2 428.9 1835.7 431.8 1836.9 432.7C1838.0 433.6 1841.5 435.8 1842.7 436.6C1843.8 437.4 1847.4 439.8 1848.5 440.4C1849.5 441.1 1852.8 442.8 1853.3 443.1"/>
<path class="bd dn" d="M1807.5 432.5C1807.7 432.6 1809.0 432.9 1809.8 433.2C1810.6 433.5 1814.4 435.0 1815.6 435.6C1816.8 436.2 1820.2 438.3 1821.4 439.0C1822.6 439.7 1826.6 442.7 1827.2 443.1"/>
<path class="bd dn" d="M1807.5 434.2C1807.8 434.3 1809.9 435.2 1810.8 435.6C1811.7 436.0 1815.4 437.8 1816.6 438.5C1817.7 439.3 1821.8 442.6 1822.4 443.1"/>
<path class="bd dn" d="M1847.5 419.2C1848.1 419.8 1852.1 424.6 1853.3 425.9C1854.5 427.3 1858.0 431.5 1859.1 432.7C1860.3 434.0 1863.8 437.6 1864.9 438.5C1866.1 439.4 1869.7 441.0 1870.7 441.4C1871.8 441.8 1874.5 442.5 1875.5 442.4C1876.6 442.3 1880.0 441.0 1881.3 440.4C1882.7 439.9 1887.5 437.3 1889.1 436.6C1890.6 435.9 1895.3 434.1 1896.8 433.7C1898.4 433.2 1903.4 432.4 1904.6 432.2C1905.8 432.0 1907.9 431.7 1908.9 431.7C1909.9 431.8 1913.1 432.3 1914.2 432.7C1915.3 433.1 1918.9 434.8 1920.0 435.6C1921.2 436.4 1924.9 439.7 1925.8 440.4C1926.8 441.2 1929.3 442.8 1929.7 443.1"/>
<path class="bd dn" d="M1887.2 443.1C1887.9 442.7 1893.3 440.0 1894.9 439.5C1896.4 438.9 1901.2 437.8 1902.6 437.6C1904.0 437.3 1907.6 437.2 1908.9 437.1C1910.3 437.0 1914.8 436.4 1916.2 436.6C1917.6 436.7 1921.7 438.0 1922.9 438.5C1924.2 439.0 1927.8 441.0 1928.7 441.4C1929.7 441.9 1932.2 442.9 1932.6 443.1"/>
<path class="bd dn" d="M1908.9 431.7C1909.8 431.8 1916.2 432.5 1918.1 432.7C1920.0 432.9 1925.8 433.5 1927.8 433.7C1929.7 433.9 1935.7 434.4 1937.4 434.6C1939.2 434.8 1943.7 435.3 1945.2 435.6C1946.6 435.9 1950.7 437.0 1951.9 437.6C1953.2 438.1 1956.9 440.9 1957.7 441.4C1958.6 442.0 1960.4 442.9 1960.6 443.1"/>
<path class="bd dn" d="M1940.3 395.0C1940.6 395.6 1942.4 399.4 1943.2 400.8C1944.1 402.2 1947.9 407.1 1949.0 408.5C1950.2 410.0 1953.9 414.4 1954.8 415.3C1955.8 416.2 1957.7 417.4 1958.7 417.7C1959.7 418.1 1963.3 418.9 1964.5 418.7C1965.7 418.5 1969.1 416.2 1970.3 415.8C1971.5 415.4 1974.6 414.3 1976.1 414.3C1977.6 414.3 1984.6 415.6 1985.6 415.8"/>
<path class="bd dn" d="M1939.4 422.6C1939.9 422.7 1944.0 423.6 1945.2 424.0C1946.3 424.4 1949.9 426.0 1951.0 426.9C1952.0 427.8 1954.8 431.5 1955.8 432.7C1956.8 433.9 1959.8 437.5 1960.6 438.5C1961.5 439.5 1964.1 442.6 1964.5 443.1"/>
<path class="bd dn" d="M1964.5 443.1C1965.2 442.8 1969.9 441.4 1971.3 440.9C1972.6 440.4 1976.6 438.4 1978.0 438.0C1979.5 437.6 1984.8 437.2 1985.6 437.1"/>
<path class="bd dn" d="M1960.6 391.4C1961.0 391.8 1963.3 394.4 1964.5 395.0C1965.7 395.6 1970.7 396.5 1972.2 396.9C1973.8 397.3 1978.6 398.6 1980.0 398.9C1981.3 399.1 1985.0 399.3 1985.6 399.4"/>
<path class="bd dn" d="M1901.7 395.0C1902.0 395.3 1904.8 397.8 1905.5 398.4C1906.3 399.0 1908.6 401.0 1908.9 401.3"/>
</g>
<line class="tk" x1="1776.6" y1="47.4" x2="1776.6" y2="52.2"/>
<line class="tk" x1="1776.6" y1="438.5" x2="1776.6" y2="443.3"/>
<line class="tk" x1="1908.8" y1="47.4" x2="1908.8" y2="52.2"/>
<line class="tk" x1="1908.8" y1="438.5" x2="1908.8" y2="443.3"/>
<line class="tk" x1="1624.4" y1="146.4" x2="1629.4" y2="146.4"/>
<line class="tk" x1="1980.3" y1="146.4" x2="1985.3" y2="146.4"/>
<line class="tk" x1="1624.4" y1="245.4" x2="1629.4" y2="245.4"/>
<line class="tk" x1="1980.3" y1="245.4" x2="1985.3" y2="245.4"/>
<line class="tk" x1="1624.4" y1="344.3" x2="1629.4" y2="344.3"/>
<line class="tk" x1="1980.3" y1="344.3" x2="1985.3" y2="344.3"/>
<rect class="fr" x="1624.4" y="47.4" width="360.9" height="395.9"/>
<text transform="translate(1553.0 232.5) rotate(-90)" text-anchor="middle" font-size="33.5">Energy (eV)</text>
</g>
<g id="labels">
<text x="13.9" y="49.0" text-anchor="start" font-size="34">(a)</text>
<text x="509.4" y="40.6" text-anchor="start" font-size="34">(b)</text>
<text x="1043.2" y="40.6" text-anchor="start" font-size="34">(c)</text>
<text x="1539.3" y="44.9" text-anchor="start" font-size="34">(d)</text>
<text x="276.4" y="28.0" text-anchor="middle" font-size="33.7">NM</text>
<text x="769.9" y="28.6" text-anchor="middle" font-size="33.7">FM</text>
<text x="1301.1" y="28.6" text-anchor="middle" font-size="33.9">AFM-I</text>
<text x="1794.1" y="28.6" text-anchor="middle" font-size="33.9">AFM-II</text>
<text x="81.0" y="71.7" text-anchor="end" font-size="33.5">1</text>
<text x="577.9" y="63.8" text-anchor="end" font-size="33.5">1</text>
<text x="1110.9" y="63.8" text-anchor="end" font-size="33.5">1</text>
<text x="1607.1" y="68.1" text-anchor="end" font-size="33.5">1</text>
<text x="82.0" y="265.2" text-anchor="end" font-size="33.5">0</text>
<text x="578.0" y="257.3" text-anchor="end" font-size="33.5">0</text>
<text x="1111.2" y="257.3" text-anchor="end" font-size="33.5">0</text>
<text x="1607.0" y="261.0" text-anchor="end" font-size="33.5">0</text>
<text x="100.6" y="484.3" text-anchor="middle" font-size="33.5" class="i">K</text>
<text x="254.6" y="484.3" text-anchor="middle" font-size="33.5" class="i">Γ</text>
<text x="383.5" y="484.3" text-anchor="middle" font-size="33.5" class="i">M</text>
<text x="459.5" y="484.3" text-anchor="middle" font-size="33.5" class="i">K</text>
<text x="599.1" y="481.8" text-anchor="middle" font-size="33.5" class="i">K</text>
<text x="749.0" y="481.8" text-anchor="middle" font-size="33.5" class="i">Γ</text>
<text x="881.5" y="481.8" text-anchor="middle" font-size="33.5" class="i">M</text>
<text x="958.1" y="481.8" text-anchor="middle" font-size="33.5" class="i">K</text>
<text x="1125.5" y="485.7" text-anchor="middle" font-size="33.5" class="i">K</text>
<text x="1275.8" y="485.7" text-anchor="middle" font-size="33.5" class="i">Γ</text>
<text x="1404.0" y="485.7" text-anchor="middle" font-size="33.5" class="i">M</text>
<text x="1480.5" y="485.7" text-anchor="middle" font-size="33.5" class="i">K</text>
<text x="1625.7" y="485.7" text-anchor="middle" font-size="33.5" class="i">K</text>
<text x="1775.1" y="489.9" text-anchor="middle" font-size="33.5" class="i">Γ</text>
<text x="1907.6" y="489.9" text-anchor="middle" font-size="33.5" class="i">M</text>
<text x="1984.4" y="489.9" text-anchor="middle" font-size="33.5" class="i">K</text>
<text y="446.0" font-size="33.5"><tspan x="46.31" dy="4.4" class="mn" font-size="37.5">−</tspan><tspan x="64.21" dy="-4.4">1</tspan></text>
<text y="437.3" font-size="33.5"><tspan x="542.01" dy="4.4" class="mn" font-size="37.5">−</tspan><tspan x="560.41" dy="-4.4">1</tspan></text>
<text y="438.0" font-size="33.5"><tspan x="1075.41" dy="4.4" class="mn" font-size="37.5">−</tspan><tspan x="1093.91" dy="-4.4">1</tspan></text>
<text y="442.1" font-size="33.5"><tspan x="1571.31" dy="4.4" class="mn" font-size="37.5">−</tspan><tspan x="1590.01" dy="-4.4">1</tspan></text>
</g>
</svg>
</body>
</html>
